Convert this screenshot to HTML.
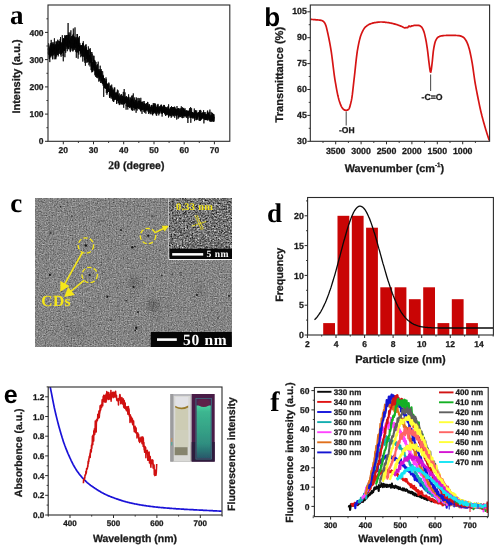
<!DOCTYPE html>
<html lang="en">
<head>
<meta charset="utf-8">
<title>Characterization of CDs</title>
<style>
html,body{margin:0;padding:0;background:#fff;}
body{width:500px;height:550px;overflow:hidden;}
svg{display:block;}
text{text-rendering:geometricPrecision;}
</style>
</head>
<body>
<svg width="500" height="550" viewBox="0 0 500 550">
<rect width="500" height="550" fill="#ffffff"/>
<polyline points="48.2,49.8 48.3,48.4 48.3,51.2 48.4,54.2 48.4,52.1 48.5,54.7 48.6,49.5 48.6,43.3 48.7,52.2 48.7,52.9 48.8,47.4 48.9,48.1 48.9,49.3 49,54.4 49,50 49.1,46.4 49.2,56.4 49.2,52.1 49.3,59.1 49.3,56.1 49.4,58.8 49.5,51 49.5,56 49.6,48.5 49.6,49 49.7,50.7 49.8,62.1 49.8,52.4 49.9,50 49.9,49.2 50,57.3 50.1,52.1 50.1,54.6 50.2,53.7 50.2,44.6 50.3,53.7 50.4,49.9 50.4,45.4 50.5,52.6 50.5,50.3 50.6,49.2 50.7,49.4 50.7,55.7 50.8,49.3 50.8,43.1 50.9,57.3 51,45.5 51,49.1 51.1,52.8 51.2,39.9 51.2,46 51.3,55.5 51.3,49.3 51.4,46.8 51.5,50.6 51.5,46.3 51.6,50 51.6,46.4 51.7,42.6 51.8,52.9 51.8,48.6 51.9,51.9 51.9,49 52,55.4 52.1,52.4 52.1,50.5 52.2,45.2 52.2,44 52.3,56 52.4,53.4 52.4,46.4 52.5,59.3 52.5,51.8 52.6,50 52.7,43.4 52.7,46.1 52.8,51.1 52.8,51.3 52.9,50.7 53,42 53,51.6 53.1,50.9 53.1,47.7 53.2,50 53.3,50.4 53.3,54.9 53.4,49.5 53.4,51.6 53.5,43.7 53.6,46.2 53.6,49.5 53.7,46.1 53.8,51 53.8,44.2 53.9,49.4 53.9,46.5 54,55.7 54.1,47.6 54.1,57.6 54.2,59.3 54.2,50.8 54.3,53.7 54.4,48.5 54.4,38.3 54.5,53.3 54.5,52.3 54.6,48.2 54.7,46.8 54.7,50.1 54.8,50.2 54.8,45.7 54.9,46.6 55,54.2 55,49.5 55.1,48.9 55.1,54.3 55.2,47.8 55.3,53.3 55.3,44.3 55.4,48.1 55.4,48.6 55.5,51.9 55.6,49.5 55.6,58.7 55.7,54.5 55.7,47.1 55.8,59.3 55.9,44.7 55.9,57.4 56,45.1 56,52.9 56.1,41.5 56.2,47.5 56.2,56.3 56.3,42.5 56.3,41.5 56.4,48.9 56.5,49.9 56.5,49.3 56.6,53.3 56.7,43.1 56.7,51.1 56.8,48.7 56.8,52.3 56.9,51.5 57,54.7 57,42.1 57.1,49 57.1,43.5 57.2,48.2 57.3,51.6 57.3,49.8 57.4,50.9 57.4,48.1 57.5,49.9 57.6,49.5 57.6,54.8 57.7,52 57.7,39.7 57.8,51.2 57.9,53.1 57.9,44.7 58,40.8 58,55 58.1,48.8 58.2,50.8 58.2,56.4 58.3,44 58.3,47.7 58.4,47.2 58.5,51.3 58.5,45.2 58.6,50.2 58.6,48.2 58.7,52.9 58.8,53.4 58.8,40.7 58.9,49.8 58.9,45.8 59,47.4 59.1,49.4 59.1,49.7 59.2,44 59.3,48.6 59.3,48.5 59.4,46.9 59.4,41.1 59.5,43.6 59.6,45 59.6,49.7 59.7,53.8 59.7,42.1 59.8,42 59.9,47.5 59.9,44.1 60,42.8 60,42.5 60.1,42.1 60.2,48.9 60.2,39 60.3,52.8 60.3,42.2 60.4,44 60.5,42.1 60.5,37 60.6,39 60.6,52.1 60.7,54.8 60.8,42.2 60.8,51.4 60.9,46.3 60.9,42 61,54.4 61.1,56.7 61.1,44.8 61.2,45.9 61.2,47.3 61.3,45.8 61.4,50.3 61.4,53.6 61.5,46.8 61.5,50.8 61.6,54.1 61.7,43.3 61.7,46.1 61.8,43.7 61.8,50.7 61.9,49 62,50.7 62,50.1 62.1,44.6 62.2,49.5 62.2,43.7 62.3,43.7 62.3,35.2 62.4,52.4 62.5,40.9 62.5,45.8 62.6,45.3 62.6,52.6 62.7,47.5 62.8,41.4 62.8,45.5 62.9,44.7 62.9,47.8 63,39.2 63.1,45.1 63.1,56.1 63.2,48.4 63.2,54.8 63.3,61.3 63.4,47.5 63.4,38 63.5,44.5 63.5,50.6 63.6,49.4 63.7,38.9 63.7,43.8 63.8,44.3 63.8,44.8 63.9,44.3 64,40.3 64,41.6 64.1,43.3 64.1,49.6 64.2,41.7 64.3,47.7 64.3,38.7 64.4,50.7 64.4,44.9 64.5,44.2 64.6,50.8 64.6,35.3 64.7,36.6 64.8,46.4 64.8,40 64.9,42 64.9,57.2 65,42.6 65.1,44.2 65.1,43.4 65.2,49.3 65.2,45.1 65.3,44.6 65.4,37.6 65.4,42 65.5,43.7 65.5,35.8 65.6,46.4 65.7,47.3 65.7,52.8 65.8,35.5 65.8,38.6 65.9,38.8 66,40 66,42.9 66.1,42.3 66.1,44.7 66.2,44.4 66.3,43.1 66.3,35.6 66.4,37.9 66.4,43.6 66.5,46.2 66.6,46.5 66.6,35 66.7,40.6 66.7,42.8 66.8,44.9 66.9,48.8 66.9,43.4 67,38.6 67,45.1 67.1,44.2 67.2,44.2 67.2,42.4 67.3,51.2 67.3,44.2 67.4,47.3 67.5,38.4 67.5,46.9 67.6,39.9 67.7,35 67.7,44.5 67.8,45.9 67.8,41.8 67.9,42.8 68,47.9 68,40.4 68.1,23 68.1,44 68.2,43.7 68.3,48 68.3,41 68.4,49 68.4,48.3 68.5,36 68.6,47.2 68.6,37 68.7,34.7 68.7,41.2 68.8,39.6 68.9,32.4 68.9,43.5 69,45.5 69,49.4 69.1,42.2 69.2,34.8 69.2,37.4 69.3,47.2 69.3,46.7 69.4,44.9 69.5,40.8 69.5,43.3 69.6,41.2 69.6,40.7 69.7,43.8 69.8,42.4 69.8,41.1 69.9,42.6 69.9,39.6 70,32.5 70.1,39.1 70.1,41.8 70.2,50.8 70.3,40.1 70.3,52.1 70.4,49.3 70.4,37.6 70.5,38.4 70.6,42.8 70.6,50.8 70.7,43.9 70.7,45.5 70.8,38.7 70.9,30.3 70.9,40.8 71,46 71,48 71.1,42.2 71.2,42.8 71.2,47.8 71.3,41.3 71.3,47.8 71.4,36.1 71.5,36.3 71.5,36.2 71.6,44.3 71.6,39.1 71.7,42.5 71.8,43.8 71.8,43.5 71.9,48.5 71.9,49.2 72,37.6 72.1,42.7 72.1,40.6 72.2,36.5 72.2,50.7 72.3,45.8 72.4,40.8 72.4,39.7 72.5,43.7 72.5,36.4 72.6,40.6 72.7,48 72.7,46.5 72.8,37.5 72.8,39.3 72.9,51.5 73,34.7 73,38.6 73.1,34.7 73.2,43.7 73.2,43.2 73.3,47.5 73.3,28.5 73.4,42.6 73.5,33.5 73.5,48.1 73.6,40.8 73.6,50.4 73.7,43.7 73.8,36.6 73.8,48.2 73.9,36.2 73.9,40 74,47.2 74.1,44.4 74.1,44.2 74.2,42.1 74.2,47.1 74.3,46.1 74.4,43.4 74.4,47.2 74.5,48.6 74.5,42.2 74.6,37.4 74.7,49.9 74.7,42 74.8,45.4 74.8,47.1 74.9,37.7 75,44.8 75,27.4 75.1,46.2 75.1,40.2 75.2,43.4 75.3,46.1 75.3,39.3 75.4,43.1 75.4,39.2 75.5,42.6 75.6,48 75.6,43 75.7,42.2 75.8,37.6 75.8,47.2 75.9,42.8 75.9,51.5 76,39.3 76.1,48.3 76.1,52.1 76.2,43.1 76.2,37.2 76.3,57.8 76.4,48.5 76.4,46.8 76.5,48.8 76.5,41.1 76.6,47.3 76.7,46.9 76.7,40.2 76.8,47.2 76.8,41.1 76.9,48.4 77,49.6 77,52.9 77.1,34 77.1,46.7 77.2,42.4 77.3,43.8 77.3,42.9 77.4,43.5 77.4,34.1 77.5,49.2 77.6,51.9 77.6,49.1 77.7,50.8 77.7,40.3 77.8,40 77.9,49.1 77.9,51.3 78,46.1 78,37.3 78.1,58.7 78.2,41.8 78.2,50 78.3,39.3 78.3,50.1 78.4,46.1 78.5,52.4 78.5,49.7 78.6,37.8 78.7,40.7 78.7,47 78.8,49.4 78.8,54.6 78.9,47.1 79,45.3 79,45.7 79.1,45.8 79.1,51 79.2,45.7 79.3,45.6 79.3,39 79.4,36.1 79.4,46.3 79.5,49.5 79.6,46 79.6,48.8 79.7,49.6 79.7,46.2 79.8,51.2 79.9,42.9 79.9,46.6 80,44.8 80,47.1 80.1,49.8 80.2,51 80.2,47.5 80.3,49.1 80.3,45.2 80.4,46.5 80.5,53.3 80.5,46.2 80.6,53.4 80.6,49.8 80.7,48.2 80.8,57.2 80.8,46.4 80.9,46.2 80.9,47.8 81,49.2 81.1,49 81.1,52.1 81.2,48.6 81.3,50.1 81.3,46.9 81.4,53.4 81.4,46.3 81.5,46.9 81.6,48.3 81.6,49.9 81.7,45 81.7,56.1 81.8,45.6 81.9,46.8 81.9,46.7 82,46.2 82,51.4 82.1,49.6 82.2,45.2 82.2,46.3 82.3,47.5 82.3,56 82.4,46 82.5,42.9 82.5,43.8 82.6,47.7 82.6,56.6 82.7,44.4 82.8,49.8 82.8,61.6 82.9,47.4 82.9,56.6 83,55.7 83.1,52.6 83.1,43.3 83.2,51.4 83.2,48.4 83.3,41.2 83.4,42.1 83.4,50.4 83.5,51.2 83.5,56.2 83.6,56.6 83.7,48.2 83.7,48.4 83.8,49.9 83.8,45.7 83.9,54.3 84,50.9 84,47.2 84.1,48 84.2,45.7 84.2,49.1 84.3,52.6 84.3,49.4 84.4,60.4 84.5,59.2 84.5,48.6 84.6,51.7 84.6,50.1 84.7,59.8 84.8,53.5 84.8,54.7 84.9,56.1 84.9,62.8 85,53.7 85.1,47.9 85.1,50.4 85.2,55.2 85.2,52.5 85.3,48.9 85.4,65.8 85.4,53.3 85.5,50.2 85.5,49.6 85.6,44.8 85.7,47.6 85.7,51.6 85.8,51.7 85.8,49.5 85.9,55.9 86,53.6 86,49.2 86.1,44.3 86.1,54.4 86.2,54 86.3,52.9 86.3,47.6 86.4,54.2 86.4,47.2 86.5,58.8 86.6,55.2 86.6,55.3 86.7,50.8 86.8,49.6 86.8,61.7 86.9,62.9 86.9,53.2 87,58 87.1,62.1 87.1,50.2 87.2,52.8 87.2,52.9 87.3,57.5 87.4,50.6 87.4,56.6 87.5,50.4 87.5,59.9 87.6,59.7 87.7,54.9 87.7,62.1 87.8,52.8 87.8,54.9 87.9,60.4 88,55.9 88,58 88.1,52.2 88.1,59.4 88.2,58.6 88.3,51.1 88.3,46.4 88.4,47.6 88.4,56.6 88.5,56 88.6,50 88.6,57.8 88.7,61.8 88.7,56.8 88.8,55.4 88.9,61.4 88.9,65.2 89,64.3 89,54.8 89.1,61.4 89.2,58.7 89.2,57.1 89.3,55.4 89.3,59.8 89.4,56.1 89.5,62.5 89.5,60.2 89.6,63.3 89.7,49 89.7,59 89.8,62.3 89.8,60.6 89.9,60.1 90,56 90,66.5 90.1,64.1 90.1,61.2 90.2,48.1 90.3,55.4 90.3,60.3 90.4,56.7 90.4,50.7 90.5,61.1 90.6,61.8 90.6,54.8 90.7,58.1 90.7,57.4 90.8,62.8 90.9,52 90.9,53.1 91,58.3 91,57.9 91.1,70.1 91.2,58.3 91.2,62.1 91.3,59.4 91.3,58.3 91.4,63 91.5,69.1 91.5,60 91.6,65.1 91.6,63.3 91.7,64.6 91.8,63.6 91.8,72.4 91.9,52 91.9,61.2 92,57.5 92.1,53.8 92.1,62.5 92.2,70.7 92.3,66.8 92.3,68.2 92.4,65.2 92.4,62.8 92.5,72 92.6,61.8 92.6,70 92.7,62.2 92.7,64.1 92.8,65 92.9,64.1 92.9,66.2 93,66.6 93,71.4 93.1,64.3 93.2,56.2 93.2,55.7 93.3,58.7 93.3,61.5 93.4,67.6 93.5,58.5 93.5,65.1 93.6,65.2 93.6,66.3 93.7,64.7 93.8,67.1 93.8,65.6 93.9,70 93.9,67.1 94,55.8 94.1,66 94.1,66.8 94.2,63.6 94.2,62.9 94.3,70.8 94.4,67 94.4,62.3 94.5,65.2 94.5,65.9 94.6,59.9 94.7,69.5 94.7,66.3 94.8,69 94.8,60.5 94.9,75.3 95,69.9 95,69.4 95.1,64.4 95.2,64.8 95.2,61.5 95.3,74.2 95.3,64.4 95.4,68.9 95.5,70.6 95.5,65.6 95.6,71.9 95.6,76.8 95.7,69.7 95.8,74.6 95.8,71.1 95.9,66.9 95.9,67.2 96,62 96.1,69.6 96.1,75.2 96.2,72.1 96.2,72.9 96.3,74.2 96.4,67.4 96.4,72 96.5,77.6 96.5,66.6 96.6,70.1 96.7,68.2 96.7,69.3 96.8,67.3 96.8,69.8 96.9,65 97,68.4 97,68.6 97.1,68.7 97.1,76.4 97.2,71.2 97.3,71.7 97.3,69.9 97.4,76.4 97.4,64.2 97.5,70.6 97.6,76.1 97.6,78.2 97.7,72.4 97.8,71.8 97.8,74.4 97.9,71.2 97.9,74.3 98,69.5 98.1,74.8 98.1,72.1 98.2,68.1 98.2,61.7 98.3,76.3 98.4,74.2 98.4,75.9 98.5,69.4 98.5,77.3 98.6,74.7 98.7,73 98.7,76.9 98.8,76.9 98.8,75.1 98.9,81.7 99,79.1 99,75.1 99.1,72.9 99.1,74.4 99.2,80.8 99.3,75.7 99.3,70.8 99.4,71.8 99.4,74.5 99.5,77.8 99.6,71.8 99.6,76.7 99.7,79.2 99.7,77.8 99.8,69 99.9,74 99.9,70.4 100,76.9 100,71.5 100.1,77.6 100.2,76 100.2,65.7 100.3,72.6 100.3,77.7 100.4,76.1 100.5,74.6 100.5,71.3 100.6,78 100.7,83 100.7,77.4 100.8,76.4 100.8,76.1 100.9,71.5 101,75.5 101,73.7 101.1,81.3 101.1,73.7 101.2,69.1 101.3,74.3 101.3,76.5 101.4,77 101.4,70.8 101.5,81.3 101.6,78.3 101.6,76.2 101.7,75.3 101.7,79.9 101.8,77.2 101.9,79.5 101.9,78.1 102,79.2 102,83.1 102.1,79 102.2,75.7 102.2,82.8 102.3,80.1 102.3,76.8 102.4,83.5 102.5,78.9 102.5,83.7 102.6,75.5 102.6,71.2 102.7,72.4 102.8,81 102.8,77.5 102.9,79.9 102.9,80.1 103,74.8 103.1,85.6 103.1,76.9 103.2,81.1 103.3,75.8 103.3,80.4 103.4,83.7 103.4,80.3 103.5,78.7 103.6,81.4 103.6,79.9 103.7,83.7 103.7,96.9 103.8,78.7 103.9,79.5 103.9,81.7 104,82.1 104,78.6 104.1,84.2 104.2,85.2 104.2,83.4 104.3,78.5 104.3,88 104.4,78.7 104.5,85.5 104.5,87.3 104.6,78.8 104.6,83.8 104.7,88.3 104.8,84.9 104.8,80.4 104.9,79.5 104.9,85.5 105,82.6 105.1,81.5 105.1,86.5 105.2,83 105.2,84.5 105.3,86.4 105.4,86.4 105.4,84.4 105.5,84.7 105.5,88.7 105.6,86.5 105.7,81.1 105.7,84.4 105.8,82.1 105.8,81 105.9,83.3 106,77.4 106,88.5 106.1,82.8 106.2,86.9 106.2,79.2 106.3,79.9 106.3,92.9 106.4,89.5 106.5,83.8 106.5,83.5 106.6,83.8 106.6,86.7 106.7,84.9 106.8,84.3 106.8,87 106.9,83.2 106.9,94.8 107,84.7 107.1,90.7 107.1,83.8 107.2,88 107.2,90.4 107.3,86.1 107.4,90.6 107.4,90.7 107.5,93.1 107.5,87.8 107.6,86 107.7,84.3 107.7,88.4 107.8,84.4 107.8,88 107.9,88.5 108,86.3 108,84.7 108.1,89.6 108.1,89.3 108.2,89.1 108.3,88.4 108.3,91.8 108.4,85.3 108.4,90.3 108.5,87.4 108.6,91.9 108.6,87.9 108.7,87.9 108.8,90.7 108.8,82.5 108.9,88.2 108.9,83.4 109,86.3 109.1,91.9 109.1,91 109.2,88.3 109.2,89.7 109.3,89.8 109.4,91 109.4,96.2 109.5,90.9 109.5,97.8 109.6,89.1 109.7,92.9 109.7,92.9 109.8,91.3 109.8,89.7 109.9,95.5 110,96.6 110,94.4 110.1,97.8 110.1,94.2 110.2,85.7 110.3,94.6 110.3,89 110.4,95.8 110.4,90.3 110.5,92.4 110.6,91.6 110.6,89.6 110.7,85.7 110.7,91 110.8,91.3 110.9,95 110.9,89.9 111,92.7 111,89.2 111.1,92.2 111.2,86.3 111.2,98.7 111.3,93.2 111.3,89.4 111.4,93.5 111.5,95 111.5,93.3 111.6,97.1 111.7,92.2 111.7,84.6 111.8,88.9 111.8,96.4 111.9,95.7 112,94.2 112,89.6 112.1,95.7 112.1,95.3 112.2,90.2 112.3,90.3 112.3,94.4 112.4,96.9 112.4,98.4 112.5,95.7 112.6,100.7 112.6,91.1 112.7,95.6 112.7,92.1 112.8,87.6 112.9,89.9 112.9,97.5 113,91 113,90.1 113.1,96.4 113.2,97.1 113.2,94.4 113.3,99.3 113.3,89.4 113.4,102 113.5,97.9 113.5,96 113.6,95.1 113.6,93.9 113.7,93.6 113.8,95.2 113.8,90.9 113.9,101.6 113.9,94.7 114,97.1 114.1,94.4 114.1,94.2 114.2,97.9 114.3,97 114.3,92.5 114.4,94 114.4,97.3 114.5,88.6 114.6,87.8 114.6,100 114.7,94.4 114.7,87.4 114.8,92.9 114.9,94.8 114.9,96.2 115,98.9 115,96.3 115.1,97.4 115.2,93.3 115.2,97 115.3,98.5 115.3,99.7 115.4,96.1 115.5,98.8 115.5,96.6 115.6,92.7 115.6,94.9 115.7,93.1 115.8,95.1 115.8,96 115.9,96.7 115.9,97.3 116,94 116.1,99.8 116.1,92.2 116.2,96.4 116.2,98.9 116.3,98.1 116.4,98.7 116.4,95.7 116.5,99 116.5,93.1 116.6,99.2 116.7,104 116.7,99.2 116.8,103.2 116.8,97.1 116.9,93.7 117,95 117,101.3 117.1,99.5 117.2,91.6 117.2,96.2 117.3,97.2 117.3,94 117.4,89.6 117.5,93.3 117.5,96.9 117.6,96.3 117.6,95.5 117.7,99.4 117.8,100.8 117.8,97.4 117.9,100.5 117.9,97.8 118,97.4 118.1,90.4 118.1,100.4 118.2,98.1 118.2,98.3 118.3,96.5 118.4,94.6 118.4,99.4 118.5,100.5 118.5,103 118.6,100.9 118.7,96.4 118.7,97.9 118.8,101.2 118.8,99.3 118.9,98.1 119,96.6 119,100.1 119.1,99 119.1,103.9 119.2,101.9 119.3,93.4 119.3,105.1 119.4,99.5 119.4,97.8 119.5,99.6 119.6,101 119.6,98.7 119.7,98.6 119.8,98.8 119.8,104.4 119.9,99.1 119.9,101.3 120,100.4 120.1,98 120.1,96.8 120.2,96.1 120.2,100.4 120.3,96 120.4,95.3 120.4,95.4 120.5,94.7 120.5,99.4 120.6,99.5 120.7,96.5 120.7,103.2 120.8,98.5 120.8,100.7 120.9,100.3 121,104.5 121,101.9 121.1,99.3 121.1,96.6 121.2,96.3 121.3,99.6 121.3,99.9 121.4,101.9 121.4,98.2 121.5,100.2 121.6,97.6 121.6,94.1 121.7,99.6 121.7,104.1 121.8,102.2 121.9,104 121.9,103.3 122,95.7 122,99 122.1,104.3 122.2,97.7 122.2,95.9 122.3,100.9 122.3,101.8 122.4,100.8 122.5,99 122.5,97.9 122.6,96.3 122.7,96.3 122.7,96.4 122.8,95.9 122.8,98 122.9,104.7 123,100.4 123,99.1 123.1,101.3 123.1,97.4 123.2,102.2 123.3,103 123.3,91.9 123.4,98.2 123.4,99.6 123.5,97.5 123.6,97.1 123.6,99.3 123.7,107.8 123.7,102.4 123.8,101.8 123.9,103.4 123.9,99.8 124,96.9 124,102 124.1,103.9 124.2,89 124.2,101.9 124.3,104.3 124.3,99.9 124.4,99.4 124.5,102.8 124.5,98.3 124.6,102.2 124.6,103.5 124.7,100.2 124.8,98.5 124.8,102.7 124.9,99.8 124.9,101.1 125,92.4 125.1,103 125.1,96.8 125.2,101.1 125.3,101.4 125.3,98.8 125.4,98.3 125.4,97.3 125.5,100.1 125.6,102.9 125.6,102.7 125.7,99.6 125.7,99.4 125.8,97 125.9,98.8 125.9,98.1 126,96.7 126,100.8 126.1,109.7 126.2,104.8 126.2,105.6 126.3,96.6 126.3,103.9 126.4,97.8 126.5,99.7 126.5,96.4 126.6,98.5 126.6,101.8 126.7,102.1 126.8,101.3 126.8,101.1 126.9,103.2 126.9,101.7 127,96.9 127.1,106.7 127.1,100.9 127.2,104.4 127.2,101.2 127.3,99.3 127.4,102 127.4,99.5 127.5,106.5 127.5,98.6 127.6,103.7 127.7,100.1 127.7,101.4 127.8,109.6 127.8,104.2 127.9,101.3 128,97.4 128,101.2 128.1,101.3 128.2,106.3 128.2,97.9 128.3,96.8 128.3,102.1 128.4,102.8 128.5,107 128.5,99.6 128.6,94.3 128.6,100.2 128.7,98.6 128.8,100.7 128.8,105.2 128.9,98.4 128.9,106 129,103 129.1,101.6 129.1,99.9 129.2,101.3 129.2,101.4 129.3,106.8 129.4,106.3 129.4,102.4 129.5,104.7 129.5,106.4 129.6,106.3 129.7,104.1 129.7,108.1 129.8,106.6 129.8,107.5 129.9,102.2 130,101.6 130,96.9 130.1,107.2 130.1,104.8 130.2,100.2 130.3,103.5 130.3,103.9 130.4,97.9 130.4,103.9 130.5,106.3 130.6,106.8 130.6,102 130.7,102.1 130.8,107 130.8,105.9 130.9,101.5 130.9,101.4 131,105 131.1,101.3 131.1,101.5 131.2,108.4 131.2,104.1 131.3,102 131.4,104.9 131.4,109.5 131.5,104.1 131.5,101.1 131.6,98.8 131.7,109.7 131.7,95.8 131.8,106.7 131.8,100.7 131.9,99.9 132,100.6 132,103.1 132.1,106.9 132.1,101.7 132.2,105.6 132.3,110.9 132.3,95.4 132.4,101.6 132.4,98.4 132.5,106.3 132.6,99.4 132.6,99.1 132.7,99.2 132.7,103.8 132.8,107.2 132.9,104.3 132.9,110.2 133,108.7 133,103.6 133.1,106.7 133.2,104.4 133.2,104.2 133.3,93.4 133.3,100.2 133.4,104.1 133.5,100.5 133.5,106.3 133.6,105 133.7,101.4 133.7,107.6 133.8,104.9 133.8,107.9 133.9,103.5 134,99.5 134,106.3 134.1,103.5 134.1,106.8 134.2,110.5 134.3,107.8 134.3,100.1 134.4,97.5 134.4,102.9 134.5,106.4 134.6,102.3 134.6,105.3 134.7,102.1 134.7,103.6 134.8,103.6 134.9,102.7 134.9,107.6 135,105.6 135,109.4 135.1,105.8 135.2,108.6 135.2,105 135.3,107.3 135.3,104.3 135.4,103.3 135.5,108.7 135.5,107 135.6,107.4 135.6,102.6 135.7,99.8 135.8,102.3 135.8,105.7 135.9,100.6 135.9,109.1 136,100.5 136.1,106.7 136.1,112.8 136.2,97.3 136.3,100.4 136.3,107.8 136.4,104.4 136.4,105.5 136.5,104.7 136.6,109.2 136.6,106.9 136.7,103.7 136.7,104.4 136.8,101.6 136.9,104.8 136.9,98.4 137,107.1 137,104.4 137.1,110.6 137.2,108.7 137.2,101.4 137.3,107.9 137.3,103.7 137.4,105.4 137.5,108.2 137.5,106.2 137.6,106.7 137.6,106.7 137.7,103.2 137.8,103.5 137.8,107 137.9,107.9 137.9,104.6 138,105.7 138.1,102.5 138.1,97.9 138.2,103.1 138.2,105.6 138.3,106 138.4,107.9 138.4,108.1 138.5,108.4 138.5,106.7 138.6,106.8 138.7,103.5 138.7,106.7 138.8,106.2 138.8,109.1 138.9,101 139,104.2 139,100.7 139.1,103.5 139.2,101.5 139.2,106.4 139.3,103.7 139.3,98.2 139.4,109.2 139.5,102.5 139.5,101.1 139.6,104.7 139.6,103.7 139.7,102.3 139.8,107.8 139.8,104.7 139.9,108.4 139.9,107.9 140,107.7 140.1,106.4 140.1,105.6 140.2,104.7 140.2,110.1 140.3,100.4 140.4,102.7 140.4,104 140.5,107.1 140.5,106.4 140.6,104.6 140.7,105 140.7,111 140.8,104 140.8,97.8 140.9,111.5 141,103.4 141,105.2 141.1,106.6 141.1,102.3 141.2,109.7 141.3,105.8 141.3,102.1 141.4,106.9 141.4,108.6 141.5,106 141.6,107.7 141.6,102 141.7,109 141.8,101.7 141.8,110 141.9,104.5 141.9,106.8 142,113.9 142.1,106.5 142.1,109.6 142.2,107.8 142.2,102.2 142.3,109.8 142.4,109.6 142.4,102.5 142.5,106.3 142.5,102.2 142.6,105.7 142.7,109.2 142.7,106.9 142.8,103.2 142.8,104 142.9,106.7 143,106.6 143,107.1 143.1,108.4 143.1,101.3 143.2,106.8 143.3,110 143.3,108.2 143.4,104.8 143.4,105 143.5,107.3 143.6,108.8 143.6,106.8 143.7,111.7 143.7,110.7 143.8,104.7 143.9,108.3 143.9,105.9 144,103.5 144,105.2 144.1,107 144.2,101 144.2,105.2 144.3,108.1 144.4,103.1 144.4,106 144.5,109.6 144.5,106.9 144.6,107.6 144.7,112.8 144.7,107.7 144.8,108 144.8,108.5 144.9,111.9 145,108.3 145,107.4 145.1,107 145.1,110.5 145.2,105.5 145.3,110.8 145.3,108 145.4,103.7 145.4,109.3 145.5,108.8 145.6,104.4 145.6,108.5 145.7,108.3 145.7,106.8 145.8,104.5 145.9,113.7 145.9,109.8 146,110.3 146,110.6 146.1,109.9 146.2,109.9 146.2,106.7 146.3,110.1 146.3,107.2 146.4,106.5 146.5,109.7 146.5,107.3 146.6,103 146.6,106.8 146.7,109.5 146.8,107.9 146.8,110.3 146.9,107 146.9,105.3 147,110 147.1,108.3 147.1,104.7 147.2,109.2 147.3,107.3 147.3,110.7 147.4,110.1 147.4,109.3 147.5,101.9 147.6,109 147.6,109.3 147.7,109.4 147.7,108.4 147.8,106.1 147.9,107.4 147.9,102.3 148,107.4 148,104 148.1,107.2 148.2,106.4 148.2,112 148.3,108.4 148.3,108.2 148.4,108.7 148.5,113.9 148.5,105.7 148.6,109.2 148.6,109.3 148.7,108.8 148.8,108.8 148.8,107 148.9,111.6 148.9,110.7 149,107.4 149.1,107.8 149.1,109.2 149.2,109.8 149.2,110.5 149.3,108.4 149.4,105.1 149.4,111.2 149.5,104.2 149.5,106 149.6,109.6 149.7,106.2 149.7,112.3 149.8,113.1 149.9,111.9 149.9,109.5 150,110.1 150,109.8 150.1,108.2 150.2,114.2 150.2,107.1 150.3,112.3 150.3,110.3 150.4,109.6 150.5,111.6 150.5,112.2 150.6,111.3 150.6,108.6 150.7,107 150.8,107 150.8,111.3 150.9,110.7 150.9,111.1 151,107.4 151.1,114.1 151.1,105.3 151.2,110 151.2,110.8 151.3,107.8 151.4,105.9 151.4,107.8 151.5,105.9 151.5,108.4 151.6,105.4 151.7,105.4 151.7,109 151.8,104.9 151.8,108.3 151.9,108.6 152,111.3 152,109.6 152.1,106.7 152.1,112.4 152.2,107.1 152.3,107.9 152.3,108.1 152.4,114.8 152.4,109.2 152.5,107.2 152.6,111 152.6,108.7 152.7,115.4 152.8,107.1 152.8,110.8 152.9,106.6 152.9,114 153,107.1 153.1,109.7 153.1,104.9 153.2,111.5 153.2,110.7 153.3,103 153.4,111.3 153.4,111 153.5,109.8 153.5,111.9 153.6,105.9 153.7,104.5 153.7,111 153.8,113.8 153.8,106 153.9,106.2 154,107 154,106.1 154.1,111.5 154.1,109.7 154.2,112.9 154.3,113 154.3,106.6 154.4,111.1 154.4,103.2 154.5,109.1 154.6,111 154.6,107.2 154.7,104.5 154.7,108 154.8,112.6 154.9,108.3 154.9,105.7 155,110.7 155,111.4 155.1,106.7 155.2,109 155.2,112.4 155.3,110.4 155.4,111.4 155.4,108.6 155.5,108.9 155.5,103.6 155.6,107.6 155.7,113.7 155.7,108.4 155.8,107.1 155.8,108.3 155.9,106.8 156,111 156,112.1 156.1,107.1 156.1,112.4 156.2,115.3 156.3,106.8 156.3,111.5 156.4,110.4 156.4,113.3 156.5,113.1 156.6,112.7 156.6,110.6 156.7,108.7 156.7,115.8 156.8,107.7 156.9,112.8 156.9,112.5 157,107.9 157,109.9 157.1,113.8 157.2,104.8 157.2,112 157.3,109.1 157.3,109.2 157.4,106 157.5,111 157.5,107.1 157.6,111.8 157.6,106.8 157.7,111.8 157.8,110.8 157.8,104.8 157.9,109 157.9,109.5 158,103.9 158.1,108.9 158.1,112 158.2,107.9 158.3,113 158.3,106.9 158.4,106.7 158.4,111.4 158.5,111.6 158.6,109.5 158.6,109.9 158.7,112.5 158.7,108.4 158.8,115.4 158.9,111.1 158.9,111.1 159,110.7 159,109.2 159.1,113.3 159.2,108.5 159.2,110.5 159.3,111.8 159.3,113.7 159.4,113.2 159.5,109.1 159.5,112.6 159.6,109.9 159.6,107.3 159.7,107.4 159.8,106 159.8,110.9 159.9,113 159.9,107.4 160,109.3 160.1,107.2 160.1,110.1 160.2,107 160.2,107.9 160.3,108.3 160.4,108.9 160.4,109.1 160.5,109.6 160.5,109.6 160.6,107.6 160.7,111.6 160.7,105.6 160.8,110.5 160.9,107.7 160.9,110.5 161,110.9 161,104.9 161.1,111.1 161.2,113.7 161.2,112.2 161.3,111.2 161.3,104.6 161.4,109.8 161.5,107.9 161.5,113 161.6,109.4 161.6,108.6 161.7,105.6 161.8,112.2 161.8,108.8 161.9,109.6 161.9,113.1 162,110.5 162.1,111.1 162.1,116.6 162.2,108.9 162.2,109 162.3,111.6 162.4,114 162.4,106.6 162.5,109.8 162.5,107.8 162.6,106.8 162.7,111.9 162.7,108.4 162.8,111.2 162.8,110.7 162.9,110.8 163,110.6 163,107.6 163.1,110.2 163.1,111 163.2,111.3 163.3,109.7 163.3,113 163.4,111.9 163.4,110.8 163.5,112.1 163.6,110.9 163.6,112.2 163.7,105.4 163.8,107.2 163.8,109.5 163.9,110.8 163.9,104.9 164,109.8 164.1,110.9 164.1,109.9 164.2,109.9 164.2,107 164.3,110.8 164.4,105.2 164.4,113.1 164.5,108.9 164.5,113.4 164.6,106 164.7,111.6 164.7,110.9 164.8,108.4 164.8,107.5 164.9,113.7 165,111.7 165,114.5 165.1,110.5 165.1,111.1 165.2,111.8 165.3,112.7 165.3,111.9 165.4,112.8 165.4,109.5 165.5,106.9 165.6,116 165.6,111.2 165.7,112 165.7,109.6 165.8,113.4 165.9,111.3 165.9,113.7 166,109.1 166,110.7 166.1,111.4 166.2,110 166.2,112.2 166.3,115.1 166.4,109.4 166.4,110.3 166.5,111.4 166.5,108.4 166.6,107.8 166.7,113.9 166.7,113.1 166.8,107 166.8,107.3 166.9,113 167,114.2 167,112.8 167.1,112.4 167.1,115.2 167.2,111 167.3,114.5 167.3,114.3 167.4,108.7 167.4,112.9 167.5,111.3 167.6,109.5 167.6,109 167.7,112.1 167.7,111.1 167.8,113.3 167.9,106.6 167.9,109.5 168,114.1 168,111.2 168.1,109.4 168.2,110 168.2,106.5 168.3,107.7 168.3,112.7 168.4,111.5 168.5,117.6 168.5,110.6 168.6,110.9 168.6,104.3 168.7,111.1 168.8,116.8 168.8,113.1 168.9,111 168.9,114.6 169,113.6 169.1,112.3 169.1,110.5 169.2,111.8 169.3,113.7 169.3,109.3 169.4,112.8 169.4,112.7 169.5,115 169.6,113.5 169.6,109.7 169.7,115.6 169.7,111.6 169.8,109.6 169.9,112.4 169.9,110.8 170,114.4 170,108.1 170.1,108.6 170.2,110.9 170.2,116.1 170.3,114.2 170.3,109 170.4,107.1 170.5,110.8 170.5,108.3 170.6,113.1 170.6,112.1 170.7,111.6 170.8,110.5 170.8,115.6 170.9,109.2 170.9,108.2 171,114.6 171.1,115.1 171.1,110.7 171.2,113.3 171.2,117.8 171.3,109.6 171.4,111.3 171.4,112.9 171.5,106.2 171.5,111.3 171.6,113.6 171.7,111.4 171.7,116.8 171.8,113.7 171.9,110.7 171.9,113.2 172,112.9 172,107.4 172.1,109.5 172.2,109.7 172.2,110.4 172.3,110.5 172.3,108 172.4,111.8 172.5,107 172.5,114.3 172.6,112.5 172.6,115.4 172.7,112.7 172.8,110.5 172.8,108.1 172.9,115.1 172.9,111.8 173,112.8 173.1,113.8 173.1,115 173.2,111.7 173.2,116.4 173.3,111.6 173.4,111.9 173.4,113.6 173.5,114.5 173.5,115.5 173.6,107.1 173.7,115.4 173.7,107.9 173.8,110.4 173.8,112.9 173.9,115 174,109.3 174,107.5 174.1,114.4 174.1,112.8 174.2,109.3 174.3,111.2 174.3,106.9 174.4,113.5 174.4,110.6 174.5,115.3 174.6,106.7 174.6,114 174.7,117.8 174.8,112.4 174.8,112.4 174.9,107.2 174.9,113 175,112.1 175.1,110.6 175.1,108 175.2,112.4 175.2,109.5 175.3,110.8 175.4,112.9 175.4,112 175.5,112.1 175.5,114.5 175.6,109.1 175.7,115.8 175.7,109.2 175.8,109.8 175.8,112.5 175.9,114.2 176,112.8 176,111 176.1,110.3 176.1,111.5 176.2,109.7 176.3,113.7 176.3,111.7 176.4,116.3 176.4,110.3 176.5,111.9 176.6,113.4 176.6,109.3 176.7,110.5 176.7,119.6 176.8,112.2 176.9,116.1 176.9,109.6 177,106 177,113.7 177.1,112.2 177.2,113 177.2,111.5 177.3,110.7 177.4,109.1 177.4,114.9 177.5,108.4 177.5,114.8 177.6,111.7 177.7,109.5 177.7,110.6 177.8,114.9 177.8,114.3 177.9,113.7 178,112.6 178,109.5 178.1,118.8 178.1,111.3 178.2,110.9 178.3,111.1 178.3,111.3 178.4,108.6 178.4,111.3 178.5,110.3 178.6,111.1 178.6,108 178.7,117.4 178.7,109.3 178.8,113.2 178.9,113.3 178.9,115.1 179,117.4 179,113.6 179.1,114.4 179.2,111.4 179.2,116.4 179.3,109 179.3,111.9 179.4,113.3 179.5,114.5 179.5,114.7 179.6,115.6 179.6,114.1 179.7,112.7 179.8,113.1 179.8,116.3 179.9,113.4 179.9,115 180,112.3 180.1,108 180.1,111.1 180.2,113.5 180.3,116.9 180.3,116.4 180.4,117.1 180.4,110.9 180.5,114.7 180.6,112.6 180.6,114.4 180.7,112.6 180.7,109.2 180.8,114.6 180.9,113.7 180.9,114.9 181,110.6 181,115.5 181.1,115.8 181.2,116.4 181.2,116.5 181.3,111.7 181.3,106.3 181.4,115.4 181.5,110.5 181.5,112.3 181.6,115.7 181.6,113.6 181.7,113.5 181.8,114.7 181.8,108 181.9,117.8 181.9,112 182,112.1 182.1,114.5 182.1,112.6 182.2,110.8 182.2,112.6 182.3,112 182.4,111.3 182.4,118.2 182.5,109.3 182.5,107.3 182.6,110.6 182.7,110.5 182.7,116.7 182.8,113.4 182.9,115.2 182.9,114.6 183,108.4 183,115.2 183.1,113.4 183.2,118 183.2,113.5 183.3,112.9 183.3,114.9 183.4,115 183.5,108.4 183.5,116.2 183.6,115.8 183.6,115.2 183.7,110.2 183.8,107.9 183.8,112.4 183.9,115 183.9,114.3 184,110.5 184.1,115.6 184.1,109.6 184.2,109.7 184.2,113.1 184.3,111.6 184.4,111.4 184.4,109.4 184.5,116 184.5,110.3 184.6,114.3 184.7,115.3 184.7,113.1 184.8,113.9 184.8,115.9 184.9,117.4 185,115.8 185,109.7 185.1,108.4 185.1,111.7 185.2,110.4 185.3,114.7 185.3,113.6 185.4,112.7 185.4,116.2 185.5,115.9 185.6,113.2 185.6,114.3 185.7,116.2 185.8,112.5 185.8,114.1 185.9,110.9 185.9,113.5 186,115 186.1,113.2 186.1,114 186.2,115.2 186.2,114.6 186.3,111.7 186.4,111.9 186.4,110.3 186.5,117.8 186.5,114.6 186.6,114.6 186.7,113.2 186.7,114.7 186.8,114.9 186.8,111.7 186.9,113.2 187,116.6 187,110.3 187.1,111.1 187.1,115.1 187.2,111.6 187.3,115.5 187.3,110.9 187.4,114.2 187.4,115.7 187.5,114.7 187.6,115.7 187.6,113.3 187.7,113.3 187.7,113.7 187.8,115.2 187.9,123 187.9,113.5 188,118.6 188,113.2 188.1,111 188.2,113.1 188.2,114.8 188.3,114.3 188.4,114.2 188.4,115.2 188.5,115.3 188.5,116.2 188.6,110.9 188.7,113.9 188.7,111.5 188.8,114.5 188.8,113.7 188.9,114.3 189,112.8 189,111.9 189.1,113.3 189.1,115.6 189.2,115.9 189.3,109.8 189.3,114.7 189.4,114.7 189.4,110.3 189.5,111.3 189.6,112.7 189.6,115 189.7,108.1 189.7,113 189.8,112.7 189.9,114.5 189.9,117.6 190,117.4 190,113.1 190.1,113.1 190.2,114.7 190.2,117 190.3,117.7 190.3,114.9 190.4,117.8 190.5,111.9 190.5,111.3 190.6,107.1 190.6,112 190.7,115.7 190.8,116.4 190.8,122.8 190.9,115.7 190.9,114.6 191,111.8 191.1,111.3 191.1,112.8 191.2,113.7 191.3,112.6 191.3,110.6 191.4,116.9 191.4,115.4 191.5,117.7 191.6,110.3 191.6,108.2 191.7,112.4 191.7,117.3 191.8,113.9 191.9,114.9 191.9,114.1 192,114.8 192,113.1 192.1,115.4 192.2,112.2 192.2,113.8 192.3,115.1 192.3,114.7 192.4,115.5 192.5,112.4 192.5,115.1 192.6,113.7 192.6,115.4 192.7,118.2 192.8,112.2 192.8,117.1 192.9,112.8 192.9,113.4 193,118.6 193.1,116.9 193.1,115.8 193.2,116.6 193.2,117.5 193.3,112.7 193.4,115.2 193.4,113.6 193.5,115.6 193.5,113.8 193.6,116.5 193.7,114.7 193.7,113.2 193.8,114.5 193.9,115.8 193.9,117.3 194,114.2 194,113.8 194.1,115.3 194.2,118.3 194.2,113.3 194.3,108.5 194.3,115.4 194.4,113.1 194.5,113.8 194.5,121.1 194.6,114.4 194.6,116.5 194.7,111.3 194.8,115.4 194.8,116.7 194.9,115.3 194.9,114.4 195,116.2 195.1,114.9 195.1,118.2 195.2,115.4 195.2,112.9 195.3,110 195.4,113.1 195.4,114.2 195.5,111.9 195.5,112.4 195.6,110.8 195.7,112.2 195.7,115.2 195.8,114.3 195.8,114.5 195.9,114.2 196,114.4 196,116.9 196.1,120.2 196.1,116.6 196.2,120 196.3,114.8 196.3,115 196.4,119.1 196.4,113.3 196.5,112.9 196.6,114.8 196.6,110.9 196.7,110.4 196.8,118 196.8,112.5 196.9,114 196.9,114.1 197,112.8 197.1,116.9 197.1,116.6 197.2,117.2 197.2,117 197.3,115.4 197.4,118.7 197.4,117.7 197.5,113.7 197.5,115.3 197.6,114.2 197.7,119.8 197.7,117.1 197.8,116.6 197.8,115.1 197.9,116.7 198,112.9 198,115.4 198.1,115.2 198.1,115.2 198.2,113.5 198.3,116.4 198.3,112.5 198.4,114.2 198.4,114.9 198.5,115.2 198.6,114.1 198.6,112.8 198.7,113 198.7,114.4 198.8,113.2 198.9,115.1 198.9,112.3 199,115.5 199,120.5 199.1,112.1 199.2,115.2 199.2,118.3 199.3,115.9 199.4,117.6 199.4,110.3 199.5,114.2 199.5,119.3 199.6,114.1 199.7,116.5 199.7,110.8 199.8,118.1 199.8,121 199.9,115.4 200,116.4 200,116.6 200.1,120.8 200.1,114.5 200.2,111.5 200.3,120.3 200.3,112.7 200.4,117 200.4,109.9 200.5,114.6 200.6,116.1 200.6,112.9 200.7,114.4 200.7,117.1 200.8,113.9 200.9,116.9 200.9,120.1 201,110.7 201,116.6 201.1,117.2 201.2,114.9 201.2,119.5 201.3,119.1 201.3,117 201.4,117 201.5,115.6 201.5,113 201.6,118 201.6,114.6 201.7,114.3 201.8,118.5 201.8,115.3 201.9,118.1 201.9,113.3 202,114.8 202.1,115.8 202.1,119.1 202.2,115.6 202.3,117.8 202.3,112.6 202.4,116.2 202.4,117.9 202.5,113.7 202.6,114.2 202.6,117.4 202.7,113.1 202.7,116.7 202.8,116.7 202.9,115.7 202.9,117.8 203,117.1 203,116.4 203.1,112.3 203.2,112.4 203.2,116.7 203.3,112.1 203.3,116.2 203.4,115.2 203.5,113.9 203.5,115.4 203.6,110.2 203.6,115 203.7,119 203.8,113 203.8,117.1 203.9,116.9 203.9,123.4 204,113.7 204.1,114.2 204.1,114.3 204.2,113.8 204.2,112.1 204.3,116.3 204.4,114 204.4,118 204.5,117.1 204.5,113.7 204.6,115.3 204.7,119.5 204.7,115.4 204.8,116.7 204.9,118.3 204.9,114.3 205,117.3 205,120.1 205.1,119 205.2,112.1 205.2,120 205.3,115.8 205.3,114.9 205.4,114.9 205.5,119.4 205.5,117.2 205.6,116.1 205.6,114.5 205.7,118 205.8,119.3 205.8,114 205.9,113.8 205.9,115.6 206,118 206.1,115.5 206.1,116.2 206.2,114.5 206.2,119.5 206.3,116.3 206.4,116.9 206.4,119.2 206.5,116.1 206.5,116.5 206.6,117.6 206.7,115.6 206.7,120 206.8,116.8 206.8,115.6 206.9,116 207,114.1 207,119.6 207.1,120.3 207.1,116.1 207.2,115.6 207.3,111.6 207.3,115.2 207.4,118.8 207.4,114.8 207.5,118.8 207.6,120.3 207.6,110.5 207.7,116 207.8,115.1 207.8,115.4 207.9,112.4 207.9,116.1 208,113.9 208.1,119.3 208.1,120.2 208.2,113.4 208.2,113.3 208.3,115.6 208.4,116.3 208.4,116.5 208.5,118.5 208.5,113.2 208.6,115.3 208.7,114.6 208.7,116 208.8,114.4 208.8,115.7 208.9,115.2 209,119.8 209,115.8 209.1,111.8 209.1,118.2 209.2,117.3 209.3,114.9 209.3,114.7 209.4,115.6 209.4,120.9 209.5,115.9 209.6,119.9 209.6,119.1 209.7,115.8 209.7,117.8 209.8,115.2 209.9,109.6 209.9,115.3 210,115.4 210,119.3 210.1,118.7 210.2,122 210.2,118.5 210.3,119.8 210.4,118.8 210.4,117.7 210.5,119.6 210.5,120.6 210.6,120.5 210.7,116.2 210.7,117.1 210.8,114.8 210.8,114.8 210.9,118.1 211,115.7 211,120.8 211.1,111.9 211.1,114.5 211.2,117.9 211.3,120.1 211.3,116.5 211.4,121.8 211.4,119.2 211.5,115.6 211.6,117.2 211.6,118.6 211.7,115.2 211.7,119.9 211.8,116.8 211.9,118.6 211.9,119.5 212,115.4 212,119.9 212.1,113 212.2,118.9 212.2,112.8 212.3,120.1 212.3,116.1 212.4,120.4 212.5,120.7 212.5,117.2 212.6,116 212.6,120.6 212.7,114.8 212.8,119.5 212.8,117.3 212.9,116.7 212.9,116.2 213,121.9 213.1,113.8 213.1,116.3 213.2,118.7 213.3,120.1 213.3,121.7 213.4,120.9 213.4,116.4 213.5,118.5 213.6,120.4 213.6,119 213.7,114.1 213.7,118.6 213.8,119.2 213.9,114.6 213.9,116.7 214,117.7 214,119.3 214.1,121.5 214.2,120.6 214.2,119 214.3,118.4 214.3,117 214.4,116.6" fill="none" stroke="#050505" stroke-width="0.8" stroke-linejoin="round" />
<rect x="48" y="5" width="181.8" height="136.3" fill="none" stroke="#2a2a2a" stroke-width="1.1"/>
<line x1="63.3" y1="141.3" x2="63.3" y2="144.3" stroke="#2a2a2a" stroke-width="1"/>
<text x="63.3" y="152.8" font-family='"Liberation Sans", sans-serif' font-size="8.5" font-weight="bold" fill="#1a1a1a" text-anchor="middle"  id="t1" stroke="#1a1a1a" stroke-width="0.28">20</text>
<line x1="93.5" y1="141.3" x2="93.5" y2="144.3" stroke="#2a2a2a" stroke-width="1"/>
<text x="93.5" y="152.8" font-family='"Liberation Sans", sans-serif' font-size="8.5" font-weight="bold" fill="#1a1a1a" text-anchor="middle"  id="t2" stroke="#1a1a1a" stroke-width="0.28">30</text>
<line x1="123.7" y1="141.3" x2="123.7" y2="144.3" stroke="#2a2a2a" stroke-width="1"/>
<text x="123.7" y="152.8" font-family='"Liberation Sans", sans-serif' font-size="8.5" font-weight="bold" fill="#1a1a1a" text-anchor="middle"  id="t3" stroke="#1a1a1a" stroke-width="0.28">40</text>
<line x1="154" y1="141.3" x2="154" y2="144.3" stroke="#2a2a2a" stroke-width="1"/>
<text x="154" y="152.8" font-family='"Liberation Sans", sans-serif' font-size="8.5" font-weight="bold" fill="#1a1a1a" text-anchor="middle"  id="t4" stroke="#1a1a1a" stroke-width="0.28">50</text>
<line x1="184.2" y1="141.3" x2="184.2" y2="144.3" stroke="#2a2a2a" stroke-width="1"/>
<text x="184.2" y="152.8" font-family='"Liberation Sans", sans-serif' font-size="8.5" font-weight="bold" fill="#1a1a1a" text-anchor="middle"  id="t5" stroke="#1a1a1a" stroke-width="0.28">60</text>
<line x1="214.4" y1="141.3" x2="214.4" y2="144.3" stroke="#2a2a2a" stroke-width="1"/>
<text x="214.4" y="152.8" font-family='"Liberation Sans", sans-serif' font-size="8.5" font-weight="bold" fill="#1a1a1a" text-anchor="middle"  id="t6" stroke="#1a1a1a" stroke-width="0.28">70</text>
<line x1="78.4" y1="141.3" x2="78.4" y2="143" stroke="#2a2a2a" stroke-width="0.9"/>
<line x1="108.6" y1="141.3" x2="108.6" y2="143" stroke="#2a2a2a" stroke-width="0.9"/>
<line x1="138.8" y1="141.3" x2="138.8" y2="143" stroke="#2a2a2a" stroke-width="0.9"/>
<line x1="169.1" y1="141.3" x2="169.1" y2="143" stroke="#2a2a2a" stroke-width="0.9"/>
<line x1="199.3" y1="141.3" x2="199.3" y2="143" stroke="#2a2a2a" stroke-width="0.9"/>
<line x1="45" y1="141.3" x2="48" y2="141.3" stroke="#2a2a2a" stroke-width="1"/>
<text x="43.6" y="144.4" font-family='"Liberation Sans", sans-serif' font-size="8.5" font-weight="bold" fill="#1a1a1a" text-anchor="end"  id="t7" stroke="#1a1a1a" stroke-width="0.28">0</text>
<line x1="45" y1="114.1" x2="48" y2="114.1" stroke="#2a2a2a" stroke-width="1"/>
<text x="43.6" y="117.1" font-family='"Liberation Sans", sans-serif' font-size="8.5" font-weight="bold" fill="#1a1a1a" text-anchor="end"  id="t8" stroke="#1a1a1a" stroke-width="0.28">100</text>
<line x1="45" y1="86.9" x2="48" y2="86.9" stroke="#2a2a2a" stroke-width="1"/>
<text x="43.6" y="89.9" font-family='"Liberation Sans", sans-serif' font-size="8.5" font-weight="bold" fill="#1a1a1a" text-anchor="end"  id="t9" stroke="#1a1a1a" stroke-width="0.28">200</text>
<line x1="45" y1="59.6" x2="48" y2="59.6" stroke="#2a2a2a" stroke-width="1"/>
<text x="43.6" y="62.7" font-family='"Liberation Sans", sans-serif' font-size="8.5" font-weight="bold" fill="#1a1a1a" text-anchor="end"  id="t10" stroke="#1a1a1a" stroke-width="0.28">300</text>
<line x1="45" y1="32.4" x2="48" y2="32.4" stroke="#2a2a2a" stroke-width="1"/>
<text x="43.6" y="35.5" font-family='"Liberation Sans", sans-serif' font-size="8.5" font-weight="bold" fill="#1a1a1a" text-anchor="end"  id="t11" stroke="#1a1a1a" stroke-width="0.28">400</text>
<line x1="46.4" y1="127.7" x2="48" y2="127.7" stroke="#2a2a2a" stroke-width="0.9"/>
<line x1="46.4" y1="100.5" x2="48" y2="100.5" stroke="#2a2a2a" stroke-width="0.9"/>
<line x1="46.4" y1="73.3" x2="48" y2="73.3" stroke="#2a2a2a" stroke-width="0.9"/>
<line x1="46.4" y1="46" x2="48" y2="46" stroke="#2a2a2a" stroke-width="0.9"/>
<line x1="46.4" y1="18.8" x2="48" y2="18.8" stroke="#2a2a2a" stroke-width="0.9"/>
<text x="136.4" y="169.2" font-family='"Liberation Sans", sans-serif' font-size="10.5" font-weight="bold" fill="#1a1a1a" text-anchor="middle"  id="t12" stroke="#1a1a1a" stroke-width="0.28"><tspan font-family='"Liberation Serif", serif' font-size="11.5">2θ</tspan> (degree)</text>
<text x="20" y="76.5" font-family='"Liberation Sans", sans-serif' font-size="10.95" font-weight="bold" fill="#1a1a1a" text-anchor="middle" transform="rotate(-90 20 76.5)"  id="t13" stroke="#1a1a1a" stroke-width="0.28">Intensity (a.u.)</text>
<text x="16.8" y="24" font-family='"Liberation Serif", serif' font-size="27" font-weight="bold" fill="#000" text-anchor="middle"  id="t14">a</text>
<clipPath id="cb"><rect x="310.3" y="5" width="179.3" height="136.9"/></clipPath>
<polyline points="310.3,19.3 310.8,19.3 311.3,19.4 311.8,19.4 312.3,19.5 312.8,19.5 313.3,19.6 313.8,19.6 314.3,19.6 314.8,19.7 315.3,19.7 315.8,19.8 316.3,19.8 316.8,19.9 317.3,19.9 317.8,19.9 318.3,20 318.8,20 319.3,20.1 319.8,20.1 320.3,20.2 320.8,20.3 321.3,20.4 321.8,20.5 322.3,20.7 322.8,21 323.3,21.4 323.8,21.8 324.3,22.4 324.8,23.1 325.3,24.1 325.8,25.3 326.3,26.9 326.8,29 327.3,31.1 327.8,33.3 328.3,35.6 328.8,38 329.3,40.5 329.8,43.1 330.3,45.9 330.8,48.8 331.3,51.9 331.8,55.5 332.3,59.3 332.8,63.4 333.3,67.5 333.8,71.5 334.3,75.3 334.8,78.8 335.3,81.8 335.8,84.7 336.3,87.6 336.8,90.3 337.3,92.9 337.8,95.3 338.3,97.4 338.8,99.3 339.3,101 339.8,102.5 340.3,103.9 340.8,105.2 341.3,106.3 341.8,107.2 342.3,107.9 342.8,108.6 343.3,109.2 343.8,109.6 344.3,109.9 344.8,110.1 345.3,110.2 345.8,110.3 346.3,110.3 346.8,110.3 347.3,110.1 347.8,109.9 348.3,109.6 348.8,109.2 349.3,108.3 349.8,106.9 350.3,105.1 350.8,103.1 351.3,100.9 351.8,98.4 352.3,94.9 352.8,90.7 353.3,86.2 353.8,81.7 354.3,77.4 354.8,72.9 355.3,68.1 355.8,63.4 356.3,58.9 356.8,54.8 357.3,51.2 357.8,48.3 358.3,45.7 358.8,43.2 359.3,40.9 359.8,38.9 360.3,37.1 360.8,35.5 361.3,34.2 361.8,33 362.3,31.9 362.8,30.8 363.3,29.9 363.8,29.1 364.3,28.3 364.8,27.7 365.3,27.2 365.8,26.7 366.3,26.3 366.8,25.9 367.3,25.5 367.8,25.2 368.3,24.8 368.8,24.6 369.3,24.3 369.8,24.1 370.3,23.9 370.8,23.7 371.3,23.5 371.8,23.4 372.3,23.2 372.8,23.1 373.3,22.9 373.8,22.8 374.3,22.7 374.8,22.6 375.3,22.6 375.8,22.5 376.3,22.4 376.8,22.3 377.3,22.3 377.8,22.2 378.3,22.2 378.8,22.1 379.3,22.1 379.8,22 380.3,22 380.8,22 381.3,22 381.8,22 382.3,22 382.8,22.1 383.3,22.1 383.8,22.1 384.3,22.2 384.8,22.2 385.3,22.3 385.8,22.3 386.3,22.4 386.8,22.5 387.3,22.5 387.8,22.6 388.3,22.6 388.8,22.7 389.3,22.8 389.8,22.9 390.3,23 390.8,23.1 391.3,23.2 391.8,23.3 392.3,23.4 392.8,23.5 393.3,23.7 393.8,23.8 394.3,23.9 394.8,24.1 395.3,24.2 395.8,24.3 396.3,24.5 396.8,24.6 397.3,24.8 397.8,25 398.3,25.2 398.8,25.3 399.3,25.5 399.8,25.7 400.3,25.9 400.8,26.1 401.3,26.3 401.8,26.5 402.3,26.7 402.8,27 403.3,27.2 403.8,27.5 404.3,27.7 404.8,27.9 405.3,27.8 405.8,27.6 406.3,27.5 406.8,27.6 407.3,27.7 407.8,27.4 408.3,26.7 408.8,26.1 409.3,26.1 409.8,26.4 410.3,26.6 410.8,26.5 411.3,26.1 411.8,25.9 412.3,25.9 412.8,25.8 413.3,25.7 413.8,25.5 414.3,25.3 414.8,25.3 415.3,25.3 415.8,25.3 416.3,25.3 416.8,25.3 417.3,25.3 417.8,25.3 418.3,25.3 418.8,25.4 419.3,25.6 419.8,25.8 420.3,26.1 420.8,26.4 421.3,26.7 421.8,27.3 422.3,28.1 422.8,29 423.3,30.1 423.8,31.3 424.3,32.9 424.8,34.9 425.3,37.1 425.8,39.5 426.3,42.2 426.8,45.3 427.3,48.6 427.8,52.3 428.3,56.6 428.8,61.1 429.3,65 429.8,68.8 430.3,71.8 430.8,72.2 431.3,69.6 431.8,65.7 432.3,61.5 432.8,56.2 433.3,51.4 433.8,48.2 434.3,45.5 434.8,43.2 435.3,41.5 435.8,40.3 436.3,39.4 436.8,38.6 437.3,37.9 437.8,37.4 438.3,37.1 438.8,36.8 439.3,36.6 439.8,36.3 440.3,36.2 440.8,36 441.3,35.9 441.8,35.9 442.3,35.8 442.8,35.7 443.3,35.6 443.8,35.6 444.3,35.5 444.8,35.5 445.3,35.5 445.8,35.5 446.3,35.4 446.8,35.4 447.3,35.4 447.8,35.4 448.3,35.4 448.8,35.3 449.3,35.3 449.8,35.3 450.3,35.3 450.8,35.3 451.3,35.3 451.8,35.3 452.3,35.3 452.8,35.3 453.3,35.3 453.8,35.3 454.3,35.3 454.8,35.4 455.3,35.4 455.8,35.4 456.3,35.5 456.8,35.5 457.3,35.5 457.8,35.6 458.3,35.6 458.8,35.7 459.3,35.7 459.8,35.8 460.3,35.9 460.8,36.1 461.3,36.2 461.8,36.4 462.3,36.7 462.8,36.9 463.3,37.2 463.8,37.6 464.3,38.1 464.8,38.7 465.3,39.4 465.8,40.2 466.3,41 466.8,42 467.3,43.1 467.8,44.4 468.3,45.8 468.8,47.4 469.3,49 469.8,51 470.3,53.2 470.8,55.6 471.3,58.2 471.8,60.9 472.3,63.7 472.8,66.9 473.3,70.4 473.8,74 474.3,77.5 474.8,80.8 475.3,83.8 475.8,86.6 476.3,89.3 476.8,91.9 477.3,94.5 477.8,97 478.3,99.5 478.8,101.9 479.3,104.4 479.8,106.7 480.3,109 480.8,111.2 481.3,113.2 481.8,115.3 482.3,117.2 482.8,119.1 483.3,121 483.8,122.8 484.3,124.6 484.8,126.3 485.3,128 485.8,129.7 486.3,131.3 486.8,132.9 487.3,134.5 487.8,136.1 488.3,137.6 488.8,139 489.3,140.5" fill="none" stroke="#d61414" stroke-width="1.7" stroke-linejoin="round" clip-path="url(#cb)"/>
<line x1="346.2" y1="111.5" x2="346.2" y2="125.5" stroke="#555" stroke-width="1.1"/>
<line x1="430.6" y1="74.5" x2="430.6" y2="91" stroke="#555" stroke-width="1.1"/>
<text x="346.8" y="132.8" font-family='"Liberation Sans", sans-serif' font-size="8.5" font-weight="bold" fill="#1a1a1a" text-anchor="middle"  id="t15" stroke="#1a1a1a" stroke-width="0.28">-OH</text>
<text x="432" y="99.8" font-family='"Liberation Sans", sans-serif' font-size="8.7" font-weight="bold" fill="#1a1a1a" text-anchor="middle"  id="t16" stroke="#1a1a1a" stroke-width="0.28">-C=O</text>
<rect x="310.3" y="5" width="179.3" height="136.3" fill="none" stroke="#2a2a2a" stroke-width="1.1"/>
<line x1="335.7" y1="141.3" x2="335.7" y2="144.3" stroke="#2a2a2a" stroke-width="1"/>
<text x="335.7" y="153.7" font-family='"Liberation Sans", sans-serif' font-size="8.8" font-weight="bold" fill="#1a1a1a" text-anchor="middle"  id="t17" stroke="#1a1a1a" stroke-width="0.28">3500</text>
<line x1="361.1" y1="141.3" x2="361.1" y2="144.3" stroke="#2a2a2a" stroke-width="1"/>
<text x="361.1" y="153.7" font-family='"Liberation Sans", sans-serif' font-size="8.8" font-weight="bold" fill="#1a1a1a" text-anchor="middle"  id="t18" stroke="#1a1a1a" stroke-width="0.28">3000</text>
<line x1="386.5" y1="141.3" x2="386.5" y2="144.3" stroke="#2a2a2a" stroke-width="1"/>
<text x="386.5" y="153.7" font-family='"Liberation Sans", sans-serif' font-size="8.8" font-weight="bold" fill="#1a1a1a" text-anchor="middle"  id="t19" stroke="#1a1a1a" stroke-width="0.28">2500</text>
<line x1="411.9" y1="141.3" x2="411.9" y2="144.3" stroke="#2a2a2a" stroke-width="1"/>
<text x="411.9" y="153.7" font-family='"Liberation Sans", sans-serif' font-size="8.8" font-weight="bold" fill="#1a1a1a" text-anchor="middle"  id="t20" stroke="#1a1a1a" stroke-width="0.28">2000</text>
<line x1="437.3" y1="141.3" x2="437.3" y2="144.3" stroke="#2a2a2a" stroke-width="1"/>
<text x="437.3" y="153.7" font-family='"Liberation Sans", sans-serif' font-size="8.8" font-weight="bold" fill="#1a1a1a" text-anchor="middle"  id="t21" stroke="#1a1a1a" stroke-width="0.28">1500</text>
<line x1="462.7" y1="141.3" x2="462.7" y2="144.3" stroke="#2a2a2a" stroke-width="1"/>
<text x="462.7" y="153.7" font-family='"Liberation Sans", sans-serif' font-size="8.8" font-weight="bold" fill="#1a1a1a" text-anchor="middle"  id="t22" stroke="#1a1a1a" stroke-width="0.28">1000</text>
<line x1="323" y1="141.3" x2="323" y2="143" stroke="#2a2a2a" stroke-width="0.9"/>
<line x1="348.4" y1="141.3" x2="348.4" y2="143" stroke="#2a2a2a" stroke-width="0.9"/>
<line x1="373.8" y1="141.3" x2="373.8" y2="143" stroke="#2a2a2a" stroke-width="0.9"/>
<line x1="399.2" y1="141.3" x2="399.2" y2="143" stroke="#2a2a2a" stroke-width="0.9"/>
<line x1="424.6" y1="141.3" x2="424.6" y2="143" stroke="#2a2a2a" stroke-width="0.9"/>
<line x1="450" y1="141.3" x2="450" y2="143" stroke="#2a2a2a" stroke-width="0.9"/>
<line x1="475.4" y1="141.3" x2="475.4" y2="143" stroke="#2a2a2a" stroke-width="0.9"/>
<line x1="307.3" y1="141.3" x2="310.3" y2="141.3" stroke="#2a2a2a" stroke-width="1"/>
<text x="306.9" y="144" font-family='"Liberation Sans", sans-serif' font-size="8.8" font-weight="bold" fill="#1a1a1a" text-anchor="end"  id="t23" stroke="#1a1a1a" stroke-width="0.28">30</text>
<line x1="307.3" y1="115.4" x2="310.3" y2="115.4" stroke="#2a2a2a" stroke-width="1"/>
<text x="306.9" y="118.1" font-family='"Liberation Sans", sans-serif' font-size="8.8" font-weight="bold" fill="#1a1a1a" text-anchor="end"  id="t24" stroke="#1a1a1a" stroke-width="0.28">45</text>
<line x1="307.3" y1="89.5" x2="310.3" y2="89.5" stroke="#2a2a2a" stroke-width="1"/>
<text x="306.9" y="92.2" font-family='"Liberation Sans", sans-serif' font-size="8.8" font-weight="bold" fill="#1a1a1a" text-anchor="end"  id="t25" stroke="#1a1a1a" stroke-width="0.28">60</text>
<line x1="307.3" y1="63.6" x2="310.3" y2="63.6" stroke="#2a2a2a" stroke-width="1"/>
<text x="306.9" y="66.3" font-family='"Liberation Sans", sans-serif' font-size="8.8" font-weight="bold" fill="#1a1a1a" text-anchor="end"  id="t26" stroke="#1a1a1a" stroke-width="0.28">75</text>
<line x1="307.3" y1="37.7" x2="310.3" y2="37.7" stroke="#2a2a2a" stroke-width="1"/>
<text x="306.9" y="40.3" font-family='"Liberation Sans", sans-serif' font-size="8.8" font-weight="bold" fill="#1a1a1a" text-anchor="end"  id="t27" stroke="#1a1a1a" stroke-width="0.28">90</text>
<line x1="307.3" y1="11.8" x2="310.3" y2="11.8" stroke="#2a2a2a" stroke-width="1"/>
<text x="306.9" y="14.4" font-family='"Liberation Sans", sans-serif' font-size="8.8" font-weight="bold" fill="#1a1a1a" text-anchor="end"  id="t28" stroke="#1a1a1a" stroke-width="0.28">105</text>
<line x1="308.7" y1="128.3" x2="310.3" y2="128.3" stroke="#2a2a2a" stroke-width="0.9"/>
<line x1="308.7" y1="102.4" x2="310.3" y2="102.4" stroke="#2a2a2a" stroke-width="0.9"/>
<line x1="308.7" y1="76.5" x2="310.3" y2="76.5" stroke="#2a2a2a" stroke-width="0.9"/>
<line x1="308.7" y1="50.6" x2="310.3" y2="50.6" stroke="#2a2a2a" stroke-width="0.9"/>
<line x1="308.7" y1="24.7" x2="310.3" y2="24.7" stroke="#2a2a2a" stroke-width="0.9"/>
<text x="394.4" y="171.9" font-family='"Liberation Sans", sans-serif' font-size="10.9" font-weight="bold" fill="#1a1a1a" text-anchor="middle"  id="t29" stroke="#1a1a1a" stroke-width="0.28">Wavenumber (cm<tspan dy="-4.5" font-size="6.2">-1</tspan><tspan dy="4.5">)</tspan></text>
<text x="283" y="74.6" font-family='"Liberation Sans", sans-serif' font-size="11.1" font-weight="bold" fill="#1a1a1a" text-anchor="middle" transform="rotate(-90 283 74.6)"  id="t30" stroke="#1a1a1a" stroke-width="0.28">Transmittance (%)</text>
<text x="272.3" y="26.2" font-family='"Liberation Sans", sans-serif' font-size="26" font-weight="bold" fill="#000" text-anchor="middle"  id="t31">b</text>
<defs>
<filter id="tem" x="0" y="0" width="100%" height="100%" color-interpolation-filters="sRGB"><feTurbulence type="fractalNoise" baseFrequency="0.73 0.79" numOctaves="2" seed="3" result="n"/><feColorMatrix in="n" type="matrix" values="0.31 0.31 0.31 0 0.05  0.31 0.31 0.31 0 0.05  0.31 0.31 0.31 0 0.05  0 0 0 0 1"/></filter>
<filter id="tem2" x="0" y="0" width="100%" height="100%" color-interpolation-filters="sRGB"><feTurbulence type="fractalNoise" baseFrequency="0.62 0.66" numOctaves="2" seed="11" result="n"/><feColorMatrix in="n" type="matrix" values="0.66 0.66 0.66 0 -0.54  0.66 0.66 0.66 0 -0.54  0.66 0.66 0.66 0 -0.54  0 0 0 0 1"/></filter>
<filter id="soft" x="-50%" y="-50%" width="200%" height="200%"><feGaussianBlur stdDeviation="2.2"/></filter>
<filter id="soft1" x="-50%" y="-50%" width="200%" height="200%"><feGaussianBlur stdDeviation="0.5"/></filter>
</defs>
<rect x="35.8" y="198" width="196" height="148.8" fill="#858585"/>
<rect x="35.8" y="198" width="196" height="148.8" filter="url(#tem)"/>
<circle cx="153.2" cy="305.7" r="6.5" fill="#000" opacity="0.2" filter="url(#soft)"/>
<circle cx="134.4" cy="282" r="6" fill="#000" opacity="0.17" filter="url(#soft)"/>
<circle cx="160" cy="318" r="4" fill="#000" opacity="0.08" filter="url(#soft)"/>
<circle cx="75" cy="330" r="8" fill="#000" opacity="0.06" filter="url(#soft)"/>
<circle cx="200" cy="290" r="6" fill="#000" opacity="0.06" filter="url(#soft)"/>
<circle cx="85.9" cy="245.5" r="1.2" fill="#161616" filter="url(#soft1)"/>
<circle cx="89.6" cy="275" r="1.1" fill="#161616" filter="url(#soft1)"/>
<circle cx="148.3" cy="235.7" r="1.1" fill="#161616" filter="url(#soft1)"/>
<circle cx="49.9" cy="274.9" r="1.1" fill="#161616" filter="url(#soft1)"/>
<circle cx="107.4" cy="296.7" r="1.1" fill="#161616" filter="url(#soft1)"/>
<circle cx="121" cy="230" r="0.9" fill="#161616" filter="url(#soft1)"/>
<circle cx="132.3" cy="247.2" r="1.2" fill="#161616" filter="url(#soft1)"/>
<circle cx="135" cy="246.5" r="0.8" fill="#161616" filter="url(#soft1)"/>
<circle cx="152" cy="216" r="0.8" fill="#161616" filter="url(#soft1)"/>
<circle cx="60.6" cy="206.8" r="0.8" fill="#161616" filter="url(#soft1)"/>
<circle cx="136.3" cy="327.8" r="1.2" fill="#161616" filter="url(#soft1)"/>
<circle cx="135.2" cy="330.6" r="0.9" fill="#161616" filter="url(#soft1)"/>
<circle cx="197" cy="295" r="1.1" fill="#161616" filter="url(#soft1)"/>
<circle cx="229" cy="296" r="0.9" fill="#161616" filter="url(#soft1)"/>
<circle cx="99" cy="222" r="0.7" fill="#161616" filter="url(#soft1)"/>
<circle cx="50.7" cy="233" r="0.8" fill="#161616" filter="url(#soft1)"/>
<circle cx="160" cy="250" r="0.7" fill="#161616" filter="url(#soft1)"/>
<circle cx="72" cy="216" r="0.7" fill="#161616" filter="url(#soft1)"/>
<circle cx="181" cy="275" r="0.7" fill="#161616" filter="url(#soft1)"/>
<circle cx="111" cy="320" r="0.7" fill="#161616" filter="url(#soft1)"/>
<circle cx="218" cy="318" r="0.7" fill="#161616" filter="url(#soft1)"/>
<circle cx="133.5" cy="287" r="1.1" fill="#161616" filter="url(#soft1)"/>
<circle cx="138" cy="312" r="0.9" fill="#161616" filter="url(#soft1)"/>
<circle cx="126.2" cy="300.8" r="0.8" fill="#161616" filter="url(#soft1)"/>
<circle cx="161.9" cy="275.5" r="0.7" fill="#161616" filter="url(#soft1)"/>
<circle cx="172" cy="274.6" r="0.7" fill="#161616" filter="url(#soft1)"/>
<line x1="82.6" y1="252" x2="64.5" y2="284.4" stroke="#f5e61a" stroke-width="1.6"/>
<polygon points="60.3,291.8 60.4,281 69.5,286.1" fill="#f5e61a"/>
<line x1="84" y1="280.4" x2="70.7" y2="291.5" stroke="#f5e61a" stroke-width="1.6"/>
<polygon points="64.2,297 68.1,286.9 74.8,294.9" fill="#f5e61a"/>
<line x1="155" y1="232.6" x2="164.1" y2="228.2" stroke="#f5e61a" stroke-width="1.6"/>
<polygon points="169,225.8 164.6,231.6 161.7,225.7" fill="#f5e61a"/>
<circle cx="85.9" cy="245.5" r="7.7" fill="none" stroke="#f5e61a" stroke-width="1.3" stroke-dasharray="4.4 2.3"/>
<circle cx="89.7" cy="275" r="7.7" fill="none" stroke="#f5e61a" stroke-width="1.3" stroke-dasharray="4.4 2.3"/>
<circle cx="148" cy="236" r="7.7" fill="none" stroke="#f5e61a" stroke-width="1.3" stroke-dasharray="4.4 2.3"/>
<text x="56.2" y="306.2" font-family='"Liberation Serif", serif' font-size="15.5" font-weight="bold" fill="#f5e61a" text-anchor="middle" letter-spacing="0.5" id="t32">CDs</text>
<rect x="168.5" y="198" width="63.5" height="62" fill="#f4f4f4"/>
<rect x="169.5" y="198" width="62.5" height="61" fill="#787878"/>
<rect x="169.5" y="198" width="62.5" height="61" filter="url(#tem2)"/>
<rect x="169.5" y="248.7" width="62.5" height="10.3" fill="#060606"/>
<rect x="172.2" y="253.1" width="31" height="2.5" fill="#fff"/>
<text x="217.8" y="257.4" font-family='"Liberation Serif", serif' font-size="9.6" font-weight="bold" fill="#fff" text-anchor="middle" letter-spacing="0.5" id="t33">5 nm</text>
<text x="194.6" y="209.6" font-family='"Liberation Serif", serif' font-size="10.3" font-weight="bold" fill="#f5e61a" text-anchor="middle" letter-spacing="0.35" id="t34">0.33 nm</text>
<line x1="195.1" y1="215.5" x2="201.5" y2="230" stroke="#f5e61a" stroke-width="0.8"/>
<line x1="196.9" y1="215" x2="203.3" y2="229.3" stroke="#f5e61a" stroke-width="0.8"/>
<line x1="191.6" y1="226.2" x2="206.3" y2="221.5" stroke="#f5e61a" stroke-width="0.8"/>
<rect x="150.8" y="332" width="81" height="15" fill="#050505"/>
<rect x="157" y="338.3" width="19.8" height="2.6" fill="#fff"/>
<text x="205.2" y="344.5" font-family='"Liberation Serif", serif' font-size="15.5" font-weight="bold" fill="#fff" text-anchor="middle" letter-spacing="0.7" id="t35">50 nm</text>
<text x="16.2" y="212.2" font-family='"Liberation Serif", serif' font-size="27" font-weight="bold" fill="#000" text-anchor="middle"  id="t36">c</text>
<rect x="323.2" y="323.1" width="11.8" height="11.9" fill="#c90505"/>
<rect x="337.5" y="215.8" width="11.8" height="119.2" fill="#c90505"/>
<rect x="351.8" y="215.8" width="11.8" height="119.2" fill="#c90505"/>
<rect x="366.1" y="227.7" width="11.8" height="107.3" fill="#c90505"/>
<rect x="380.3" y="287.3" width="11.8" height="47.7" fill="#c90505"/>
<rect x="394.6" y="287.3" width="11.8" height="47.7" fill="#c90505"/>
<rect x="408.9" y="299.2" width="11.8" height="35.8" fill="#c90505"/>
<rect x="423.2" y="287.3" width="11.8" height="47.7" fill="#c90505"/>
<rect x="437.5" y="323.1" width="11.8" height="11.9" fill="#c90505"/>
<rect x="451.8" y="299.2" width="11.8" height="35.8" fill="#c90505"/>
<rect x="466.1" y="323.1" width="11.8" height="11.9" fill="#c90505"/>
<polyline points="314.5,319.8 315.3,319.1 316,318.3 316.7,317.5 317.4,316.6 318.1,315.6 318.8,314.7 319.5,313.6 320.3,312.5 321,311.3 321.7,310 322.4,308.7 323.1,307.3 323.8,305.9 324.5,304.3 325.3,302.7 326,301.1 326.7,299.3 327.4,297.5 328.1,295.6 328.8,293.7 329.5,291.6 330.3,289.5 331,287.4 331.7,285.1 332.4,282.8 333.1,280.5 333.8,278.1 334.6,275.6 335.3,273.1 336,270.6 336.7,268 337.4,265.3 338.1,262.7 338.8,260 339.6,257.3 340.3,254.6 341,251.9 341.7,249.3 342.4,246.6 343.1,243.9 343.8,241.3 344.6,238.7 345.3,236.2 346,233.7 346.7,231.2 347.4,228.9 348.1,226.6 348.8,224.4 349.6,222.3 350.3,220.3 351,218.4 351.7,216.6 352.4,214.9 353.1,213.4 353.8,212 354.6,210.7 355.3,209.6 356,208.7 356.7,207.9 357.4,207.2 358.1,206.7 358.8,206.4 359.6,206.2 360.3,206.2 361,206.3 361.7,206.6 362.4,207 363.1,207.6 363.8,208.3 364.6,209.2 365.3,210.2 366,211.3 366.7,212.6 367.4,213.9 368.1,215.5 368.8,217.1 369.6,218.8 370.3,220.7 371,222.6 371.7,224.6 372.4,226.7 373.1,228.9 373.8,231.2 374.6,233.5 375.3,235.9 376,238.3 376.7,240.8 377.4,243.3 378.1,245.9 378.8,248.4 379.6,251 380.3,253.6 381,256.2 381.7,258.7 382.4,261.3 383.1,263.9 383.9,266.4 384.6,268.9 385.3,271.4 386,273.8 386.7,276.2 387.4,278.5 388.1,280.8 388.9,283.1 389.6,285.3 390.3,287.4 391,289.5 391.7,291.5 392.4,293.5 393.1,295.3 393.9,297.2 394.6,298.9 395.3,300.6 396,302.2 396.7,303.8 397.4,305.3 398.1,306.7 398.9,308.1 399.6,309.4 400.3,310.6 401,311.8 401.7,312.9 402.4,313.9 403.1,314.9 403.9,315.9 404.6,316.7 405.3,317.6 406,318.4 406.7,319.1 407.4,319.8 408.1,320.4 408.9,321 409.6,321.6 410.3,322.1 411,322.6 411.7,323.1 412.4,323.5 413.1,323.9 413.9,324.3 414.6,324.6 415.3,324.9 416,325.2 416.7,325.4 417.4,325.7 418.1,325.9 418.9,326.1 419.6,326.3 420.3,326.5 421,326.6 421.7,326.8 422.4,326.9 423.1,327 423.9,327.1 424.6,327.2 425.3,327.3 426,327.4 426.7,327.4 427.4,327.5 428.2,327.6 428.9,327.6 429.6,327.7 430.3,327.7 431,327.7 431.7,327.8 432.4,327.8 433.2,327.8 433.9,327.8 434.6,327.9 435.3,327.9 436,327.9 436.7,327.9 437.4,327.9 438.2,327.9 438.9,328 439.6,328 440.3,328 441,328 441.7,328 442.4,328 443.2,328 443.9,328 444.6,328 445.3,328 446,328 446.7,328 447.4,328 448.2,328 448.9,328 449.6,328 450.3,328 451,328 451.7,328 452.4,328 453.2,328 453.9,328 454.6,328 455.3,328 456,328 456.7,328 457.4,328 458.2,328 458.9,328 459.6,328 460.3,328 461,328 461.7,328 462.4,328 463.2,328 463.9,328 464.6,328 465.3,328 466,328 466.7,328 467.4,328 468.2,328 468.9,328 469.6,328 470.3,328 471,328 471.7,328 472.4,328 473.2,328 473.9,328 474.6,328 475.3,328 476,328 476.7,328 477.5,328 478.2,328 478.9,328 479.6,328 480.3,328 481,328 481.7,328 482.5,328 483.2,328 483.9,328 484.6,328 485.3,328 486,328 486.7,328 487.5,328 488.2,328 488.9,328 489.6,328 490.3,328 491,328 491.7,328 492.5,328 493.2,328" fill="none" stroke="#0a0a0a" stroke-width="1.3" stroke-linejoin="round" />
<rect x="307.6" y="197.5" width="185.8" height="137.5" fill="none" stroke="#2a2a2a" stroke-width="1.1"/>
<line x1="307.4" y1="335" x2="307.4" y2="338" stroke="#2a2a2a" stroke-width="1"/>
<text x="307.4" y="346.5" font-family='"Liberation Sans", sans-serif' font-size="8.5" font-weight="bold" fill="#1a1a1a" text-anchor="middle"  id="t37" stroke="#1a1a1a" stroke-width="0.28">2</text>
<line x1="336" y1="335" x2="336" y2="338" stroke="#2a2a2a" stroke-width="1"/>
<text x="336" y="346.5" font-family='"Liberation Sans", sans-serif' font-size="8.5" font-weight="bold" fill="#1a1a1a" text-anchor="middle"  id="t38" stroke="#1a1a1a" stroke-width="0.28">4</text>
<line x1="364.6" y1="335" x2="364.6" y2="338" stroke="#2a2a2a" stroke-width="1"/>
<text x="364.6" y="346.5" font-family='"Liberation Sans", sans-serif' font-size="8.5" font-weight="bold" fill="#1a1a1a" text-anchor="middle"  id="t39" stroke="#1a1a1a" stroke-width="0.28">6</text>
<line x1="393.1" y1="335" x2="393.1" y2="338" stroke="#2a2a2a" stroke-width="1"/>
<text x="393.1" y="346.5" font-family='"Liberation Sans", sans-serif' font-size="8.5" font-weight="bold" fill="#1a1a1a" text-anchor="middle"  id="t40" stroke="#1a1a1a" stroke-width="0.28">8</text>
<line x1="421.7" y1="335" x2="421.7" y2="338" stroke="#2a2a2a" stroke-width="1"/>
<text x="421.7" y="346.5" font-family='"Liberation Sans", sans-serif' font-size="8.5" font-weight="bold" fill="#1a1a1a" text-anchor="middle"  id="t41" stroke="#1a1a1a" stroke-width="0.28">10</text>
<line x1="450.3" y1="335" x2="450.3" y2="338" stroke="#2a2a2a" stroke-width="1"/>
<text x="450.3" y="346.5" font-family='"Liberation Sans", sans-serif' font-size="8.5" font-weight="bold" fill="#1a1a1a" text-anchor="middle"  id="t42" stroke="#1a1a1a" stroke-width="0.28">12</text>
<line x1="478.9" y1="335" x2="478.9" y2="338" stroke="#2a2a2a" stroke-width="1"/>
<text x="478.9" y="346.5" font-family='"Liberation Sans", sans-serif' font-size="8.5" font-weight="bold" fill="#1a1a1a" text-anchor="middle"  id="t43" stroke="#1a1a1a" stroke-width="0.28">14</text>
<line x1="321.7" y1="335" x2="321.7" y2="336.6" stroke="#2a2a2a" stroke-width="0.9"/>
<line x1="350.3" y1="335" x2="350.3" y2="336.6" stroke="#2a2a2a" stroke-width="0.9"/>
<line x1="378.8" y1="335" x2="378.8" y2="336.6" stroke="#2a2a2a" stroke-width="0.9"/>
<line x1="407.4" y1="335" x2="407.4" y2="336.6" stroke="#2a2a2a" stroke-width="0.9"/>
<line x1="436" y1="335" x2="436" y2="336.6" stroke="#2a2a2a" stroke-width="0.9"/>
<line x1="464.6" y1="335" x2="464.6" y2="336.6" stroke="#2a2a2a" stroke-width="0.9"/>
<line x1="493.2" y1="335" x2="493.2" y2="336.6" stroke="#2a2a2a" stroke-width="0.9"/>
<line x1="304.6" y1="335" x2="307.6" y2="335" stroke="#2a2a2a" stroke-width="1"/>
<text x="303.8" y="338.2" font-family='"Liberation Sans", sans-serif' font-size="8.8" font-weight="bold" fill="#1a1a1a" text-anchor="end"  id="t44" stroke="#1a1a1a" stroke-width="0.28">0</text>
<line x1="304.6" y1="305.2" x2="307.6" y2="305.2" stroke="#2a2a2a" stroke-width="1"/>
<text x="303.8" y="308.4" font-family='"Liberation Sans", sans-serif' font-size="8.8" font-weight="bold" fill="#1a1a1a" text-anchor="end"  id="t45" stroke="#1a1a1a" stroke-width="0.28">5</text>
<line x1="304.6" y1="275.4" x2="307.6" y2="275.4" stroke="#2a2a2a" stroke-width="1"/>
<text x="303.8" y="278.6" font-family='"Liberation Sans", sans-serif' font-size="8.8" font-weight="bold" fill="#1a1a1a" text-anchor="end"  id="t46" stroke="#1a1a1a" stroke-width="0.28">10</text>
<line x1="304.6" y1="245.6" x2="307.6" y2="245.6" stroke="#2a2a2a" stroke-width="1"/>
<text x="303.8" y="248.8" font-family='"Liberation Sans", sans-serif' font-size="8.8" font-weight="bold" fill="#1a1a1a" text-anchor="end"  id="t47" stroke="#1a1a1a" stroke-width="0.28">15</text>
<line x1="304.6" y1="215.8" x2="307.6" y2="215.8" stroke="#2a2a2a" stroke-width="1"/>
<text x="303.8" y="219" font-family='"Liberation Sans", sans-serif' font-size="8.8" font-weight="bold" fill="#1a1a1a" text-anchor="end"  id="t48" stroke="#1a1a1a" stroke-width="0.28">20</text>
<line x1="306" y1="320.1" x2="307.6" y2="320.1" stroke="#2a2a2a" stroke-width="0.9"/>
<line x1="306" y1="290.3" x2="307.6" y2="290.3" stroke="#2a2a2a" stroke-width="0.9"/>
<line x1="306" y1="260.5" x2="307.6" y2="260.5" stroke="#2a2a2a" stroke-width="0.9"/>
<line x1="306" y1="230.7" x2="307.6" y2="230.7" stroke="#2a2a2a" stroke-width="0.9"/>
<line x1="306" y1="200.9" x2="307.6" y2="200.9" stroke="#2a2a2a" stroke-width="0.9"/>
<text x="400.5" y="363" font-family='"Liberation Sans", sans-serif' font-size="11.0" font-weight="bold" fill="#1a1a1a" text-anchor="middle"  id="t49" stroke="#1a1a1a" stroke-width="0.28">Particle size (nm)</text>
<text x="283.3" y="274.8" font-family='"Liberation Sans", sans-serif' font-size="10.7" font-weight="bold" fill="#1a1a1a" text-anchor="middle" transform="rotate(-90 283.3 274.8)"  id="t50" stroke="#1a1a1a" stroke-width="0.28">Frequency</text>
<text x="274.6" y="221.5" font-family='"Liberation Serif", serif' font-size="27" font-weight="bold" fill="#000" text-anchor="middle"  id="t51">d</text>
<clipPath id="ce"><rect x="48.2" y="387" width="173.8" height="128"/></clipPath>
<polyline points="48.2,378 48.7,380.2 49.2,382.4 49.7,384.6 50.2,386.9 50.7,389.3 51.2,391.8 51.7,394.4 52.2,397 52.7,399.6 53.2,402.2 53.7,404.7 54.2,407.2 54.7,409.4 55.2,411.6 55.7,413.8 56.2,415.9 56.7,417.9 57.2,419.9 57.7,421.9 58.2,423.8 58.7,425.7 59.2,427.5 59.7,429.3 60.2,431 60.7,432.8 61.2,434.5 61.7,436.1 62.2,437.8 62.7,439.3 63.2,440.9 63.7,442.4 64.2,443.8 64.7,445.2 65.2,446.5 65.7,447.9 66.2,449.2 66.7,450.4 67.2,451.6 67.7,452.8 68.2,454 68.7,455.1 69.2,456.2 69.7,457.4 70.2,458.4 70.7,459.5 71.2,460.6 71.7,461.6 72.2,462.6 72.7,463.6 73.2,464.6 73.7,465.5 74.2,466.4 74.7,467.3 75.2,468.1 75.7,468.9 76.2,469.7 76.7,470.5 77.2,471.2 77.7,471.9 78.2,472.6 78.7,473.3 79.2,474 79.7,474.6 80.2,475.2 80.7,475.8 81.2,476.4 81.7,477 82.2,477.6 82.7,478.1 83.2,478.7 83.7,479.2 84.2,479.7 84.7,480.2 85.2,480.7 85.7,481.2 86.2,481.7 86.7,482.1 87.2,482.6 87.7,483 88.2,483.4 88.7,483.8 89.2,484.2 89.7,484.6 90.2,485 90.7,485.4 91.2,485.7 91.7,486.1 92.2,486.4 92.7,486.8 93.2,487.1 93.7,487.5 94.2,487.8 94.7,488.1 95.2,488.5 95.7,488.8 96.2,489.1 96.7,489.5 97.2,489.8 97.7,490.1 98.2,490.4 98.7,490.7 99.2,491 99.7,491.3 100.2,491.6 100.7,491.9 101.2,492.2 101.7,492.5 102.2,492.8 102.7,493 103.2,493.3 103.7,493.6 104.2,493.8 104.7,494.1 105.2,494.3 105.7,494.5 106.2,494.8 106.7,495 107.2,495.2 107.7,495.4 108.2,495.7 108.7,495.9 109.2,496.1 109.7,496.3 110.2,496.5 110.7,496.7 111.2,496.9 111.7,497.1 112.2,497.3 112.7,497.5 113.2,497.6 113.7,497.8 114.2,498 114.7,498.2 115.2,498.4 115.7,498.5 116.2,498.7 116.7,498.9 117.2,499.1 117.7,499.2 118.2,499.4 118.7,499.6 119.2,499.7 119.7,499.9 120.2,500.1 120.7,500.2 121.2,500.4 121.7,500.6 122.2,500.7 122.7,500.9 123.2,501 123.7,501.2 124.2,501.3 124.7,501.5 125.2,501.6 125.7,501.7 126.2,501.9 126.7,502 127.2,502.1 127.7,502.3 128.2,502.4 128.7,502.5 129.2,502.6 129.7,502.8 130.2,502.9 130.7,503 131.2,503.1 131.7,503.2 132.2,503.3 132.7,503.4 133.2,503.5 133.7,503.6 134.2,503.8 134.7,503.9 135.2,504 135.7,504 136.2,504.1 136.7,504.2 137.2,504.3 137.7,504.4 138.2,504.5 138.7,504.6 139.2,504.7 139.7,504.8 140.2,504.9 140.7,505 141.2,505 141.7,505.1 142.2,505.2 142.7,505.3 143.2,505.4 143.7,505.4 144.2,505.5 144.7,505.6 145.2,505.7 145.7,505.7 146.2,505.8 146.7,505.9 147.2,506 147.7,506 148.2,506.1 148.7,506.2 149.2,506.2 149.7,506.3 150.2,506.4 150.7,506.4 151.2,506.5 151.7,506.5 152.2,506.6 152.7,506.7 153.2,506.7 153.7,506.8 154.2,506.8 154.7,506.9 155.2,507 155.7,507 156.2,507.1 156.7,507.1 157.2,507.2 157.7,507.2 158.2,507.3 158.7,507.3 159.2,507.4 159.7,507.4 160.2,507.5 160.7,507.5 161.2,507.6 161.7,507.6 162.2,507.7 162.7,507.7 163.2,507.7 163.7,507.8 164.2,507.8 164.7,507.9 165.2,507.9 165.7,508 166.2,508 166.7,508 167.2,508.1 167.7,508.1 168.2,508.2 168.7,508.2 169.2,508.2 169.7,508.3 170.2,508.3 170.7,508.4 171.2,508.4 171.7,508.4 172.2,508.5 172.7,508.5 173.2,508.5 173.7,508.6 174.2,508.6 174.7,508.6 175.2,508.7 175.7,508.7 176.2,508.8 176.7,508.8 177.2,508.8 177.7,508.9 178.2,508.9 178.7,508.9 179.2,508.9 179.7,509 180.2,509 180.7,509 181.2,509.1 181.7,509.1 182.2,509.1 182.7,509.2 183.2,509.2 183.7,509.2 184.2,509.3 184.7,509.3 185.2,509.3 185.7,509.3 186.2,509.4 186.7,509.4 187.2,509.4 187.7,509.5 188.2,509.5 188.7,509.5 189.2,509.5 189.7,509.6 190.2,509.6 190.7,509.6 191.2,509.6 191.7,509.7 192.2,509.7 192.7,509.7 193.2,509.7 193.7,509.8 194.2,509.8 194.7,509.8 195.2,509.9 195.7,509.9 196.2,509.9 196.7,509.9 197.2,510 197.7,510 198.2,510 198.7,510 199.2,510.1 199.7,510.1 200.2,510.1 200.7,510.1 201.2,510.2 201.7,510.2 202.2,510.2 202.7,510.2 203.2,510.3 203.7,510.3 204.2,510.3 204.7,510.3 205.2,510.4 205.7,510.4 206.2,510.4 206.7,510.4 207.2,510.5 207.7,510.5 208.2,510.5 208.7,510.5 209.2,510.6 209.7,510.6 210.2,510.6 210.7,510.6 211.2,510.7 211.7,510.7 212.2,510.7 212.7,510.7 213.2,510.8 213.7,510.8 214.2,510.8 214.7,510.8 215.2,510.9 215.7,510.9 216.2,510.9 216.7,510.9 217.2,511 217.7,511 218.2,511 218.7,511 219.2,511.1 219.7,511.1 220.2,511.1 220.7,511.1 221.2,511.2 221.7,511.2" fill="none" stroke="#1a12d8" stroke-width="1.7" stroke-linejoin="round" clip-path="url(#ce)"/>
<polyline points="83.4,483.2 83.6,479.9 83.8,480.1 83.9,479 84.1,479.1 84.3,479.7 84.5,477.5 84.7,478.2 84.8,478.1 85,475 85.2,474.8 85.4,475.2 85.6,474.3 85.7,474.6 85.9,471.3 86.1,473.4 86.3,473 86.5,470.8 86.6,468.6 86.8,469.5 87,468.2 87.2,469 87.4,467.6 87.5,467.9 87.7,465.5 87.9,466.5 88.1,461.5 88.3,462.5 88.4,463.6 88.6,459.8 88.8,461.8 89,458 89.2,458.3 89.3,456.4 89.5,456.3 89.7,456.4 89.9,454.7 90.1,453.1 90.2,457.5 90.4,452.4 90.6,449.9 90.8,452.5 91,451.9 91.1,451.6 91.3,451.8 91.5,445.3 91.7,448.7 91.9,447.3 92,443.8 92.2,443.7 92.4,436.3 92.6,440.3 92.8,444.7 92.9,435.2 93.1,437.8 93.3,439.1 93.5,438.9 93.7,441.1 93.8,430.8 94,433.8 94.2,435.1 94.4,428.7 94.6,430.8 94.7,434.4 94.9,432.1 95.1,429.4 95.3,421 95.5,426.9 95.6,427.6 95.8,425.1 96,424.4 96.2,431.9 96.4,422.2 96.5,419.7 96.7,421.9 96.9,420 97.1,419.2 97.3,418.7 97.4,420.4 97.6,419.1 97.8,414.4 98,416.9 98.2,417.8 98.3,415 98.5,418.1 98.7,416 98.9,411.1 99.1,413.4 99.2,417.6 99.4,416 99.6,411.3 99.8,413.2 100,408.4 100.1,405.8 100.3,410.9 100.5,409.3 100.7,409.8 100.9,407.5 101,407.7 101.2,404.8 101.4,406.5 101.6,407.5 101.8,404.7 101.9,406.1 102.1,399.9 102.3,401.1 102.5,405.4 102.7,405.8 102.8,401.8 103,400.4 103.2,396.5 103.4,400.6 103.6,401.6 103.7,395.3 103.9,400.5 104.1,401.1 104.3,401.2 104.5,397.5 104.6,401.8 104.8,395.5 105,402.2 105.2,398.6 105.4,395.4 105.5,401 105.7,400.6 105.9,395.7 106.1,402.1 106.3,393.7 106.4,397.9 106.6,400 106.8,391.5 107,399.3 107.2,396.5 107.3,395.8 107.5,392.8 107.7,396 107.9,392.7 108.1,392.6 108.2,394.7 108.4,392.7 108.6,399.4 108.8,392.6 109,394.6 109.1,395.6 109.3,396.3 109.5,397.8 109.7,398.9 109.9,394.8 110,394.5 110.2,395.8 110.4,397.7 110.6,396.8 110.8,393.7 110.9,390.6 111.1,401.2 111.3,397.2 111.5,396.5 111.7,396 111.8,394.1 112,393 112.2,395.2 112.4,395.7 112.6,394.7 112.7,392.4 112.9,395.9 113.1,397.7 113.3,396.2 113.5,397 113.6,392.2 113.8,396.6 114,396.8 114.2,393.5 114.4,392.5 114.5,397 114.7,393.4 114.9,396.3 115.1,393.8 115.3,396.6 115.4,394 115.6,391.2 115.8,395.1 116,394.6 116.2,397.6 116.3,395.3 116.5,395.3 116.7,399.5 116.9,400.2 117.1,399.9 117.2,400.7 117.4,399.3 117.6,399.5 117.8,400.2 118,399.6 118.1,398.8 118.3,399 118.5,404.9 118.7,398.7 118.9,398.4 119,398.5 119.2,399.4 119.4,399.9 119.6,396.2 119.8,394.6 119.9,399.9 120.1,394.7 120.3,399.2 120.5,398.7 120.7,401.3 120.8,403.8 121,401.2 121.2,399.3 121.4,397.8 121.6,399.3 121.7,401.8 121.9,397.6 122.1,402.3 122.3,402.3 122.5,403.9 122.6,401.8 122.8,402.7 123,400.9 123.2,402.1 123.4,398.9 123.5,402.6 123.7,407.2 123.9,403.7 124.1,404.6 124.3,400.8 124.4,408.1 124.6,402.9 124.8,406.5 125,405 125.2,403 125.3,408.5 125.5,407.2 125.7,407.7 125.9,409.3 126.1,407.5 126.2,407 126.4,410.6 126.6,408.5 126.8,410.8 127,409.6 127.1,406.8 127.3,408.8 127.5,408.9 127.7,411.3 127.9,414.3 128,406.7 128.2,412.4 128.4,406.5 128.6,409.5 128.8,411.8 128.9,408.7 129.1,410.2 129.3,415.9 129.5,416.1 129.7,415.8 129.8,414.5 130,422.4 130.2,416.2 130.4,415.1 130.6,421 130.7,418.7 130.9,416.4 131.1,420.5 131.3,418.8 131.5,420 131.6,420 131.8,417.9 132,422.8 132.2,421.3 132.4,418.8 132.5,419.6 132.7,424.7 132.9,422 133.1,423.7 133.3,425 133.4,424.2 133.6,420.9 133.8,427.2 134,429 134.2,429.5 134.3,431.6 134.5,427.9 134.7,429 134.9,431.5 135.1,426.2 135.2,431.6 135.4,432.1 135.6,429.6 135.8,432 136,430.7 136.1,427.9 136.3,433.5 136.5,432.3 136.7,434.2 136.9,433.7 137,437.9 137.2,436.1 137.4,433.7 137.6,436 137.8,436.5 137.9,432.9 138.1,433.5 138.3,433.9 138.5,434.2 138.7,435.9 138.8,438.9 139,441.2 139.2,440.5 139.4,440.3 139.6,441.5 139.7,442.4 139.9,438.1 140.1,441.1 140.3,440.3 140.5,438.8 140.6,438.8 140.8,438.7 141,439.3 141.2,437 141.4,441.5 141.5,440.4 141.7,441.2 141.9,442.4 142.1,443.7 142.3,440.7 142.4,441.8 142.6,437.8 142.8,436.9 143,437.6 143.2,446.4 143.3,437.9 143.5,444.2 143.7,446.9 143.9,442.5 144.1,448.5 144.2,450 144.4,447.6 144.6,452.3 144.8,448.8 145,446.5 145.1,450.5 145.3,449 145.5,447.3 145.7,447.9 145.9,457.7 146,451.4 146.2,452.6 146.4,452 146.6,453.5 146.8,452.4 146.9,452.5 147.1,450.8 147.3,450.4 147.5,452.4 147.7,455.4 147.8,460.2 148,457.3 148.2,460.2 148.4,456.9 148.6,456 148.7,452.9 148.9,457.1 149.1,452 149.3,457.3 149.5,463 149.6,460.2 149.8,462.4 150,459 150.2,456.4 150.4,459.5 150.5,460.2 150.7,465.2 150.9,467.2 151.1,460.8 151.3,461.5 151.4,462 151.6,461.8 151.8,460.1 152,463.2 152.2,463.4 152.3,463.6 152.5,459.9 152.7,462.4 152.9,460.2 153.1,468.1 153.2,463.8 153.4,466.6 153.6,466.8 153.8,468 154,466.5 154.1,465 154.3,474.7 154.5,470.3 154.7,471.1 154.9,475.6 155,470 155.2,472.4 155.4,471.1 155.6,475.3 155.8,474.6 155.9,475.3 156.1,474.4 156.3,472.5 156.5,468 156.7,464" fill="none" stroke="#d01010" stroke-width="1.55" stroke-linejoin="round" />
<defs><linearGradient id="gL" x1="0" y1="0" x2="0" y2="1"><stop offset="0" stop-color="#b9b9be"/><stop offset="0.7" stop-color="#b4b4b2"/><stop offset="0.78" stop-color="#a2a2a0"/><stop offset="1" stop-color="#a6a6a2"/></linearGradient><linearGradient id="gG" x1="0" y1="0" x2="0" y2="1"><stop offset="0" stop-color="#4ad2a0"/><stop offset="0.12" stop-color="#3cb690"/><stop offset="0.45" stop-color="#35a286"/><stop offset="0.72" stop-color="#2f8e80"/><stop offset="0.86" stop-color="#2a7474"/><stop offset="1" stop-color="#28566a"/></linearGradient><filter id="ph" x="-5%" y="-5%" width="110%" height="110%"><feGaussianBlur stdDeviation="0.55"/></filter></defs>
<g filter="url(#ph)">
<rect x="170.3" y="394" width="21.6" height="67.6" fill="url(#gL)"/>
<rect x="170.3" y="394" width="3" height="67.6" fill="#9c9c9e"/>
<rect x="173.8" y="396" width="16.6" height="65" fill="#d9d9d6"/>
<rect x="175.3" y="397" width="13" height="10" fill="#e2e2e6"/>
<rect x="175.3" y="407.2" width="12.9" height="40" fill="#cdccb4"/>
<rect x="175.3" y="430" width="12.9" height="17" fill="#cfcfbc"/>
<path d="M175.2 405.8 Q181.7 409.6 188.2 405.6 L188.2 407.4 Q181.7 411.2 175.2 407.6 Z" fill="#9a7a2a"/>
<rect x="174.6" y="447.2" width="13" height="8" fill="#86846e"/>
<rect x="171.2" y="438" width="1.1" height="4" fill="#c89060"/>
<rect x="171.2" y="442" width="1.1" height="3.5" fill="#50a898"/>
<rect x="191.7" y="394" width="23" height="67.6" fill="#4a1a46"/>
<rect x="191.7" y="442" width="23" height="19.6" fill="#2e1a3c"/>
<rect x="195.9" y="398.3" width="15.6" height="60.8" fill="#4c2450" stroke="#3a7e88" stroke-width="0.7"/>
<rect x="196.6" y="405.5" width="14.2" height="53" fill="url(#gG)"/>
<ellipse cx="203.8" cy="402.9" rx="6.3" ry="4.0" fill="#5e2448"/>
</g>
<rect x="48.2" y="387" width="173.8" height="128" fill="none" stroke="#2a2a2a" stroke-width="1.1"/>
<line x1="70" y1="515" x2="70" y2="518" stroke="#2a2a2a" stroke-width="1"/>
<text x="70" y="525.6" font-family='"Liberation Sans", sans-serif' font-size="8.0" font-weight="bold" fill="#1a1a1a" text-anchor="middle"  id="t52" stroke="#1a1a1a" stroke-width="0.28">400</text>
<line x1="113.5" y1="515" x2="113.5" y2="518" stroke="#2a2a2a" stroke-width="1"/>
<text x="113.5" y="525.6" font-family='"Liberation Sans", sans-serif' font-size="8.0" font-weight="bold" fill="#1a1a1a" text-anchor="middle"  id="t53" stroke="#1a1a1a" stroke-width="0.28">500</text>
<line x1="156.9" y1="515" x2="156.9" y2="518" stroke="#2a2a2a" stroke-width="1"/>
<text x="156.9" y="525.6" font-family='"Liberation Sans", sans-serif' font-size="8.0" font-weight="bold" fill="#1a1a1a" text-anchor="middle"  id="t54" stroke="#1a1a1a" stroke-width="0.28">600</text>
<line x1="200.3" y1="515" x2="200.3" y2="518" stroke="#2a2a2a" stroke-width="1"/>
<text x="200.3" y="525.6" font-family='"Liberation Sans", sans-serif' font-size="8.0" font-weight="bold" fill="#1a1a1a" text-anchor="middle"  id="t55" stroke="#1a1a1a" stroke-width="0.28">700</text>
<line x1="48.3" y1="515" x2="48.3" y2="516.6" stroke="#2a2a2a" stroke-width="0.9"/>
<line x1="91.7" y1="515" x2="91.7" y2="516.6" stroke="#2a2a2a" stroke-width="0.9"/>
<line x1="135.2" y1="515" x2="135.2" y2="516.6" stroke="#2a2a2a" stroke-width="0.9"/>
<line x1="178.6" y1="515" x2="178.6" y2="516.6" stroke="#2a2a2a" stroke-width="0.9"/>
<line x1="222.1" y1="515" x2="222.1" y2="516.6" stroke="#2a2a2a" stroke-width="0.9"/>
<line x1="45.2" y1="515" x2="48.2" y2="515" stroke="#2a2a2a" stroke-width="1"/>
<text x="44.4" y="518" font-family='"Liberation Sans", sans-serif' font-size="8.2" font-weight="bold" fill="#1a1a1a" text-anchor="end"  id="t56" stroke="#1a1a1a" stroke-width="0.28">0.0</text>
<line x1="45.2" y1="495.3" x2="48.2" y2="495.3" stroke="#2a2a2a" stroke-width="1"/>
<text x="44.4" y="498.3" font-family='"Liberation Sans", sans-serif' font-size="8.2" font-weight="bold" fill="#1a1a1a" text-anchor="end"  id="t57" stroke="#1a1a1a" stroke-width="0.28">0.2</text>
<line x1="45.2" y1="475.6" x2="48.2" y2="475.6" stroke="#2a2a2a" stroke-width="1"/>
<text x="44.4" y="478.6" font-family='"Liberation Sans", sans-serif' font-size="8.2" font-weight="bold" fill="#1a1a1a" text-anchor="end"  id="t58" stroke="#1a1a1a" stroke-width="0.28">0.4</text>
<line x1="45.2" y1="455.9" x2="48.2" y2="455.9" stroke="#2a2a2a" stroke-width="1"/>
<text x="44.4" y="458.9" font-family='"Liberation Sans", sans-serif' font-size="8.2" font-weight="bold" fill="#1a1a1a" text-anchor="end"  id="t59" stroke="#1a1a1a" stroke-width="0.28">0.6</text>
<line x1="45.2" y1="436.2" x2="48.2" y2="436.2" stroke="#2a2a2a" stroke-width="1"/>
<text x="44.4" y="439.2" font-family='"Liberation Sans", sans-serif' font-size="8.2" font-weight="bold" fill="#1a1a1a" text-anchor="end"  id="t60" stroke="#1a1a1a" stroke-width="0.28">0.8</text>
<line x1="45.2" y1="416.5" x2="48.2" y2="416.5" stroke="#2a2a2a" stroke-width="1"/>
<text x="44.4" y="419.5" font-family='"Liberation Sans", sans-serif' font-size="8.2" font-weight="bold" fill="#1a1a1a" text-anchor="end"  id="t61" stroke="#1a1a1a" stroke-width="0.28">1.0</text>
<line x1="45.2" y1="396.8" x2="48.2" y2="396.8" stroke="#2a2a2a" stroke-width="1"/>
<text x="44.4" y="399.8" font-family='"Liberation Sans", sans-serif' font-size="8.2" font-weight="bold" fill="#1a1a1a" text-anchor="end"  id="t62" stroke="#1a1a1a" stroke-width="0.28">1.2</text>
<line x1="46.6" y1="505.1" x2="48.2" y2="505.1" stroke="#2a2a2a" stroke-width="0.9"/>
<line x1="46.6" y1="485.4" x2="48.2" y2="485.4" stroke="#2a2a2a" stroke-width="0.9"/>
<line x1="46.6" y1="465.8" x2="48.2" y2="465.8" stroke="#2a2a2a" stroke-width="0.9"/>
<line x1="46.6" y1="446.1" x2="48.2" y2="446.1" stroke="#2a2a2a" stroke-width="0.9"/>
<line x1="46.6" y1="426.4" x2="48.2" y2="426.4" stroke="#2a2a2a" stroke-width="0.9"/>
<line x1="46.6" y1="406.6" x2="48.2" y2="406.6" stroke="#2a2a2a" stroke-width="0.9"/>
<line x1="46.6" y1="386.9" x2="48.2" y2="386.9" stroke="#2a2a2a" stroke-width="0.9"/>
<text x="135" y="542" font-family='"Liberation Sans", sans-serif' font-size="10.5" font-weight="bold" fill="#1a1a1a" text-anchor="middle"  id="t63" stroke="#1a1a1a" stroke-width="0.28">Wavelength (nm)</text>
<text x="22.2" y="452.8" font-family='"Liberation Sans", sans-serif' font-size="10.5" font-weight="bold" fill="#1a1a1a" text-anchor="middle" transform="rotate(-90 22.2 452.8)"  id="t64" stroke="#1a1a1a" stroke-width="0.28">Absorbence (a.u.)</text>
<text x="235" y="454" font-family='"Liberation Sans", sans-serif' font-size="10.5" font-weight="bold" fill="#1a1a1a" text-anchor="middle" transform="rotate(-90 235 454)"  id="t65" stroke="#1a1a1a" stroke-width="0.28">Fluorescence intensity</text>
<text x="10.6" y="403.4" font-family='"Liberation Sans", sans-serif' font-size="25" font-weight="bold" fill="#000" text-anchor="middle"  id="t66">e</text>
<clipPath id="cf"><rect x="314.4" y="387.5" width="173.8" height="129.1"/></clipPath>
<g clip-path="url(#cf)">
<polyline points="348,506.1 348.4,506.2 348.7,506.3 349.1,506.5 349.4,506.1 349.8,506.7 350.1,509.8 350.5,506.6 350.8,504.4 351.2,504.6 351.5,504.8 351.9,505.5 352.2,505.7 352.6,504.5 352.9,505.1 353.3,504.8 353.6,505.5 353.9,504.3 354.3,505.3 354.6,504.7 355,505.7 355.3,504.9 355.7,504.1 356,504.6 356.4,504.4 356.7,503.5 357.1,503.9 357.4,502.9 357.8,505.1 358.1,503 358.5,502.9 358.8,504 359.2,503.7 359.5,502.1 359.9,503.2 360.2,502.7 360.6,501.7 360.9,502.1 361.3,501.3 361.6,502 362,500.9 362.3,500.2 362.7,500.4 363,501.9 363.4,499.7 363.7,499.8 364.1,500.2 364.4,498.3 364.8,500.2 365.1,497.3 365.5,498.8 365.8,496.9 366.1,497.7 366.5,498.4 366.8,497 367.2,496.5 367.5,496 367.9,495.2 368.2,496.4 368.6,495 368.9,494.4 369.3,494.8 369.6,495 370,494.7 370.3,493 370.7,492.6 371,493.5 371.4,493.5 371.7,491.2 372.1,493 372.4,491.3 372.8,491.7 373.1,492.2 373.5,490.3 373.8,490.2 374.2,488.6 374.5,487.6 374.9,489.3 375.2,488 375.6,487.7 375.9,488.7 376.3,488.7 376.6,486.4 377,487.8 377.3,487.2 377.6,487.2 378,486.9 378.3,487.1 378.7,490.9 379,485.1 379.4,486.3 379.7,487 380.1,485.7 380.4,486.9 380.8,486.1 381.1,484.4 381.5,483.4 381.8,485 382.2,486.2 382.5,484.6 382.9,487.1 383.2,485.8 383.6,483.9 383.9,484.6 384.3,486.4 384.6,486.7 385,484.5 385.3,485.3 385.7,485.8 386,485 386.4,485.8 386.7,487 387.1,484.7 387.4,486 387.8,486.3 388.1,486.7 388.5,485.4 388.8,486.3 389.1,485.1 389.5,485.9 389.8,484.9 390.2,486.2 390.5,486.4 390.9,487.6 391.2,486.9 391.6,485.5 391.9,483.6 392.3,487.3 392.6,487.2 393,486.1 393.3,486 393.7,487.1 394,486.5 394.4,488 394.7,487 395.1,486.1 395.4,485.6 395.8,487.2 396.1,487.4 396.5,486.9 396.8,486.4 397.2,487 397.5,488.2 397.9,487.4 398.2,487 398.6,488.5 398.9,489.1 399.3,487.7 399.6,487.9 400,487.5 400.3,488.4 400.6,489.1 401,489 401.3,489.6 401.7,489.7 402,489.5 402.4,489.6 402.7,488.4 403.1,490.4 403.4,489.6 403.8,490.2 404.1,488.6 404.5,489.8 404.8,490.4 405.2,489.6 405.5,490.3 405.9,490.9 406.2,489.4 406.6,490.2 406.9,489.6 407.3,490.2 407.6,490.6 408,491.3 408.3,492.4 408.7,491.7 409,491.7 409.4,491.4 409.7,492.1 410.1,492.8 410.4,493.2 410.8,492 411.1,491.7 411.5,493 411.8,492.6 412.1,492 412.5,493.9 412.8,493.7 413.2,494.4 413.5,492.8 413.9,493.7 414.2,494.4 414.6,495.4 414.9,494.4 415.3,493.7 415.6,494.8 416,495.1 416.3,494.4 416.7,496 417,495.1 417.4,494.9 417.7,496 418.1,496.2 418.4,495.6 418.8,496 419.1,496.2 419.5,496 419.8,496.2 420.2,497.1 420.5,497.1 420.9,496.4 421.2,496.1 421.6,496 421.9,497.8 422.3,496.5 422.6,496.9 423,497.6 423.3,497.3 423.6,497.2 424,496.7 424.3,498.9 424.7,497.8 425,498.5 425.4,498.6 425.7,497.8 426.1,498.2 426.4,499.6 426.8,499.2 427.1,498.9 427.5,500.2 427.8,498.7 428.2,499.5 428.5,499.5 428.9,499.5 429.2,498.6 429.6,499.9 429.9,500.3 430.3,499 430.6,500.6 431,500.7 431.3,501.4 431.7,499.9 432,500.5 432.4,500.5 432.7,500.8 433.1,501.1 433.4,501.7 433.8,501.8 434.1,501 434.5,501.3 434.8,500.4 435.1,502.1" fill="none" stroke="#0a0a0a" stroke-width="2.15" stroke-linejoin="round" />
<polyline points="351.5,505.2 351.9,503.8 352.2,504.8 352.6,505.9 352.9,505.3 353.3,504 353.6,505.7 353.9,504.7 354.3,504.7 354.6,502.9 355,504.4 355.3,503.2 355.7,504.4 356,504.3 356.4,502.9 356.7,503 357.1,504.4 357.4,502.6 357.8,502.3 358.1,503 358.5,502.2 358.8,501.9 359.2,502.2 359.5,502 359.9,501.8 360.2,501.2 360.6,501.7 360.9,500.5 361.3,501.3 361.6,499.7 362,499.5 362.3,499.9 362.7,498 363,496.8 363.4,496.9 363.7,498.6 364.1,496.1 364.4,496.5 364.8,496.3 365.1,496.3 365.5,495.3 365.8,493.7 366.1,493.9 366.5,494.2 366.8,493.9 367.2,493.2 367.5,491.8 367.9,490.1 368.2,492.2 368.6,490.6 368.9,490.4 369.3,490.2 369.6,488.6 370,487.8 370.3,489.1 370.7,488.1 371,485.4 371.4,485.7 371.7,484.9 372.1,485.3 372.4,484.5 372.8,483.1 373.1,483.5 373.5,483.5 373.8,481.8 374.2,480.3 374.5,481.7 374.9,479 375.2,478.8 375.6,479.8 375.9,478.4 376.3,477.9 376.6,476.7 377,476.1 377.3,477.7 377.6,477.3 378,474.3 378.3,474.8 378.7,474.1 379,473.7 379.4,472.1 379.7,474.6 380.1,471.8 380.4,473.5 380.8,471.6 381.1,470.6 381.5,473.3 381.8,471.2 382.2,471.7 382.5,471.5 382.9,471 383.2,472.1 383.6,471.9 383.9,470.1 384.3,469.8 384.6,471.4 385,472.3 385.3,468.2 385.7,469.6 386,470.4 386.4,471.9 386.7,471.5 387.1,470.6 387.4,472 387.8,469.2 388.1,470.9 388.5,470.7 388.8,472.3 389.1,472.3 389.5,472.2 389.8,471.2 390.2,471.8 390.5,472 390.9,471.4 391.2,471.6 391.6,470.4 391.9,472.4 392.3,473.4 392.6,472.4 393,471 393.3,473.3 393.7,472.8 394,473.4 394.4,472.8 394.7,473.1 395.1,474.4 395.4,474 395.8,472.9 396.1,473 396.5,473.3 396.8,473.6 397.2,475.1 397.5,475.3 397.9,474.2 398.2,476.6 398.6,475.6 398.9,477.7 399.3,476.4 399.6,477 400,477.8 400.3,476.2 400.6,477.8 401,477.6 401.3,477.8 401.7,478.5 402,476.6 402.4,478.8 402.7,478.3 403.1,480.1 403.4,479.6 403.8,479.7 404.1,479.9 404.5,480.5 404.8,480 405.2,478.9 405.5,480.9 405.9,481.2 406.2,481.7 406.6,479.1 406.9,480.3 407.3,481.6 407.6,481.8 408,483.4 408.3,483.2 408.7,483.1 409,483.5 409.4,484.7 409.7,484.9 410.1,484 410.4,484.5 410.8,487.1 411.1,485.3 411.5,484.4 411.8,486.6 412.1,486 412.5,487.9 412.8,486 413.2,488.1 413.5,488.6 413.9,488 414.2,485.8 414.6,488.8 414.9,489.7 415.3,488.4 415.6,488.9 416,487.9 416.3,490.8 416.7,491.4 417,490.5 417.4,490.2 417.7,490.4 418.1,490.1 418.4,494.9 418.8,492.3 419.1,492 419.5,491.4 419.8,494.3 420.2,493 420.5,493.8 420.9,492.4 421.2,492.6 421.6,491.3 421.9,494 422.3,492.7 422.6,495.4 423,495.1 423.3,495.4 423.6,495.5 424,496 424.3,496 424.7,495.8 425,496.3 425.4,495.7 425.7,496.5 426.1,496.6 426.4,495.6 426.8,496.8 427.1,497.1 427.5,497.5 427.8,497.6 428.2,497.4 428.5,498.7 428.9,497.3 429.2,497.2 429.6,497.7 429.9,499.2 430.3,500.2 430.6,499.5 431,499.2 431.3,498.9 431.7,499.8 432,500.1 432.4,498.8 432.7,500.7 433.1,499.5 433.4,499.8 433.8,501.6 434.1,500.6 434.5,501.3 434.8,501.7 435.1,502.5 435.5,502.5 435.8,501.2 436.2,501.9 436.5,501.5 436.9,502.6 437.2,502.2 437.6,502.3 437.9,503.3 438.3,503.5 438.6,502.1 439,502.4 439.3,503.3 439.7,502.8 440,502.4 440.4,501.7 440.7,503.7 441.1,502.7 441.4,501.8 441.8,503.3 442.1,502.4 442.5,505.3 442.8,502.6 443.2,503.7 443.5,505.1 443.9,503.3 444.2,503.2 444.6,503.2 444.9,503.3 445.3,504.2 445.6,504.7 446,504.6 446.3,504.4 446.7,504.2 447,504.8 447.3,504.5 447.7,504 448,504.5 448.4,503.2 448.7,503.4 449.1,505.6" fill="none" stroke="#e01414" stroke-width="2.15" stroke-linejoin="round" />
<polyline points="355,504.2 355.3,508.1 355.7,503.4 356,504.7 356.4,502.7 356.7,504.1 357.1,503 357.4,501 357.8,502.7 358.1,501.2 358.5,502.5 358.8,501.5 359.2,501.6 359.5,501.1 359.9,501.8 360.2,501.5 360.6,500.1 360.9,501.3 361.3,500.4 361.6,498.8 362,499.4 362.3,499.2 362.7,499 363,497.5 363.4,497.5 363.7,496.5 364.1,496.3 364.4,494 364.8,495.5 365.1,496.3 365.5,493.9 365.8,493.4 366.1,492.6 366.5,493.7 366.8,490.4 367.2,490.9 367.5,490.2 367.9,491.1 368.2,488.3 368.6,488.2 368.9,486 369.3,487.1 369.6,487.2 370,485 370.3,485.3 370.7,483.1 371,483.9 371.4,482.1 371.7,481.3 372.1,480.3 372.4,480 372.8,479.5 373.1,477.8 373.5,477.6 373.8,475.9 374.2,475.5 374.5,477 374.9,473.6 375.2,471.1 375.6,471.5 375.9,470.3 376.3,469.7 376.6,470 377,470.3 377.3,466.9 377.6,471.3 378,465.6 378.3,465.1 378.7,464.4 379,464.2 379.4,463.2 379.7,462.9 380.1,461.8 380.4,462.8 380.8,461.9 381.1,459.8 381.5,460.8 381.8,462.6 382.2,458.9 382.5,461.6 382.9,455.8 383.2,457 383.6,456.7 383.9,458.2 384.3,458.5 384.6,457.1 385,456.6 385.3,457.5 385.7,456.2 386,455.5 386.4,455.6 386.7,457.7 387.1,459.2 387.4,456.4 387.8,457.3 388.1,455.9 388.5,454.4 388.8,454.4 389.1,456.2 389.5,455.2 389.8,454.6 390.2,456.8 390.5,456.6 390.9,455.9 391.2,457.2 391.6,457.9 391.9,458.4 392.3,457.5 392.6,458.5 393,456.8 393.3,458.4 393.7,456.2 394,456.7 394.4,460.1 394.7,457.3 395.1,459.4 395.4,457.3 395.8,458.6 396.1,459.5 396.5,458.8 396.8,460.6 397.2,459.7 397.5,459.9 397.9,460.8 398.2,460.4 398.6,462.4 398.9,460.7 399.3,463.2 399.6,461.2 400,461.6 400.3,461.6 400.6,463.5 401,459.3 401.3,463.7 401.7,463.5 402,464.9 402.4,462.6 402.7,465.2 403.1,463.7 403.4,466.4 403.8,465.2 404.1,466.4 404.5,465.2 404.8,467 405.2,468 405.5,466.8 405.9,469.1 406.2,469.2 406.6,467.5 406.9,471 407.3,468.2 407.6,470 408,471 408.3,470 408.7,469.9 409,471.7 409.4,471.6 409.7,470.8 410.1,471.3 410.4,472.6 410.8,473.8 411.1,474.4 411.5,474.4 411.8,473.3 412.1,473.8 412.5,474.5 412.8,473.7 413.2,476 413.5,476.4 413.9,476.8 414.2,474.7 414.6,479.4 414.9,480.2 415.3,477.5 415.6,478.3 416,476.2 416.3,477.9 416.7,478.7 417,480.8 417.4,479.7 417.7,481 418.1,481 418.4,481.2 418.8,482.3 419.1,481.5 419.5,480.8 419.8,481.8 420.2,483 420.5,485.6 420.9,482.9 421.2,483.3 421.6,484.9 421.9,485.6 422.3,484.8 422.6,486.6 423,485.3 423.3,487.6 423.6,487.7 424,487.2 424.3,488.9 424.7,487.8 425,487.7 425.4,489.8 425.7,488 426.1,489.7 426.4,489 426.8,489.6 427.1,490.6 427.5,490.9 427.8,492.3 428.2,491.7 428.5,492.1 428.9,490.1 429.2,491 429.6,493.5 429.9,491.8 430.3,492.6 430.6,493.4 431,492.9 431.3,492.9 431.7,494.4 432,494.4 432.4,494.3 432.7,495.5 433.1,494.8 433.4,495.3 433.8,496 434.1,496.4 434.5,495.7 434.8,495.4 435.1,496.1 435.5,497.3 435.8,496.2 436.2,496.9 436.5,496.8 436.9,496.5 437.2,498.4 437.6,498 437.9,498.6 438.3,499 438.6,496.9 439,497.9 439.3,500.3 439.7,498.7 440,499.7 440.4,498.5 440.7,499.5 441.1,499.9 441.4,499.8 441.8,501.1 442.1,500.3 442.5,500.6 442.8,500.7 443.2,500.4 443.5,501.8 443.9,501 444.2,501.3 444.6,501.7 444.9,500.9 445.3,502.6 445.6,502 446,502.5 446.3,501.6 446.7,507.7 447,502.2 447.3,502.1 447.7,503.6 448,502.2 448.4,503.2 448.7,503 449.1,503 449.4,502.4 449.8,502.6 450.1,501.9 450.5,503.2 450.8,503.7 451.2,503.8 451.5,503.1 451.9,502.5 452.2,503.5 452.6,504.2 452.9,503.7 453.3,503.8 453.6,504 454,504.6 454.3,506 454.7,504.6 455,503.6 455.4,504.3 455.7,506 456.1,504.5 456.4,505.9 456.8,503.3 457.1,504.6 457.5,505.6 457.8,504.3 458.2,505.4 458.5,504.5 458.8,505 459.2,505.8 459.5,504.6 459.9,506 460.2,504.3 460.6,505.2 460.9,505.9 461.3,506.5 461.6,504.2 462,504.4 462.3,506.2 462.7,504.3 463,505.3 463.4,505.6 463.7,505.6 464.1,505.7 464.4,504.6 464.8,505.5 465.1,506.9 465.5,504.3 465.8,505.1 466.2,506.4 466.5,506 466.9,506.4 467.2,505.8 467.6,505.6 467.9,505.7 468.3,506.3 468.6,506.4 469,505.4 469.3,506 469.7,504.5 470,506.5" fill="none" stroke="#1414dc" stroke-width="2.15" stroke-linejoin="round" />
<polyline points="358.5,503 358.8,501.5 359.2,500.3 359.5,501.6 359.9,502.4 360.2,500.3 360.6,500.6 360.9,497.9 361.3,499.3 361.6,498.8 362,500.5 362.3,497.6 362.7,497.9 363,497.7 363.4,496.3 363.7,496.5 364.1,493.8 364.4,495.7 364.8,493.9 365.1,493.9 365.5,493.9 365.8,490 366.1,498.4 366.5,488.7 366.8,491 367.2,488.6 367.5,485.3 367.9,489.4 368.2,487.7 368.6,483.7 368.9,484.1 369.3,484 369.6,482.4 370,482.5 370.3,480.2 370.7,477.5 371,478.8 371.4,477 371.7,474.6 372.1,472.5 372.4,475 372.8,472.4 373.1,472.4 373.5,471.4 373.8,470 374.2,469.1 374.5,469.5 374.9,468.7 375.2,465.8 375.6,463.5 375.9,460.8 376.3,462.1 376.6,460.5 377,458.2 377.3,456.9 377.6,457.1 378,455.9 378.3,452 378.7,454.2 379,453.4 379.4,454.1 379.7,450.1 380.1,450.2 380.4,446 380.8,448.5 381.1,445.9 381.5,444.9 381.8,443 382.2,446.9 382.5,441.7 382.9,443.5 383.2,443.1 383.6,442.9 383.9,442.6 384.3,442 384.6,444.8 385,439.9 385.3,440.3 385.7,441.7 386,440.1 386.4,436.2 386.7,439.2 387.1,440.4 387.4,437 387.8,441.1 388.1,440.1 388.5,440.8 388.8,440.3 389.1,438.8 389.5,439.2 389.8,441.4 390.2,440.5 390.5,440.3 390.9,441.2 391.2,440.8 391.6,442 391.9,442.2 392.3,441.2 392.6,443.1 393,441 393.3,442.2 393.7,443.6 394,443.4 394.4,443.4 394.7,443.2 395.1,443.1 395.4,443.9 395.8,445.2 396.1,442 396.5,443.1 396.8,444.7 397.2,443.8 397.5,445.1 397.9,446.4 398.2,446.2 398.6,442.7 398.9,445.7 399.3,446 399.6,448.6 400,447.5 400.3,445.5 400.6,448.7 401,448.2 401.3,448.4 401.7,449.8 402,448.9 402.4,451.4 402.7,451.5 403.1,453.6 403.4,449.3 403.8,453.3 404.1,454.1 404.5,452.7 404.8,456 405.2,455.8 405.5,457.5 405.9,456.9 406.2,458 406.6,457.2 406.9,458.7 407.3,460 407.6,460.1 408,460.4 408.3,461.5 408.7,460.1 409,461 409.4,462.3 409.7,464.7 410.1,463 410.4,466 410.8,464.6 411.1,465.3 411.5,466.8 411.8,467.7 412.1,468.1 412.5,465 412.8,468.6 413.2,469.1 413.5,468.2 413.9,469.5 414.2,469.2 414.6,472.7 414.9,473.1 415.3,468 415.6,472.9 416,473.8 416.3,473.8 416.7,473.3 417,476.6 417.4,475.3 417.7,476.2 418.1,475.9 418.4,477 418.8,478.4 419.1,479.3 419.5,481.8 419.8,478.2 420.2,481.6 420.5,480.8 420.9,478.9 421.2,481.9 421.6,481.2 421.9,482.6 422.3,482 422.6,483.3 423,484.4 423.3,482.7 423.6,485.1 424,486.7 424.3,486 424.7,485.5 425,487.8 425.4,486.1 425.7,490.6 426.1,485.5 426.4,489 426.8,488 427.1,490.9 427.5,489.9 427.8,489.8 428.2,489.9 428.5,490.7 428.9,491.1 429.2,492.1 429.6,492.2 429.9,491.8 430.3,491.9 430.6,492.2 431,492.2 431.3,492.3 431.7,495.7 432,494.7 432.4,494.7 432.7,495.4 433.1,494.1 433.4,494.7 433.8,495.8 434.1,495.9 434.5,495.1 434.8,496.9 435.1,497.1 435.5,496.3 435.8,496.9 436.2,496.3 436.5,497.5 436.9,497.4 437.2,498.8 437.6,499.4 437.9,498.8 438.3,501.4 438.6,498.9 439,498.6 439.3,499.6 439.7,500.1 440,499.1 440.4,500.3 440.7,499.6 441.1,498.7 441.4,500.2 441.8,500.2 442.1,500.7 442.5,501.1 442.8,501.3 443.2,501.6 443.5,500.9 443.9,503.3 444.2,502.3 444.6,501.7 444.9,503.1 445.3,502.6 445.6,503.2 446,502.4 446.3,502.2 446.7,501.8 447,502.7 447.3,503.8 447.7,503.1 448,503 448.4,502.4 448.7,505.3 449.1,503.5 449.4,505.3 449.8,503.4 450.1,503.7 450.5,503.7 450.8,503.5 451.2,504 451.5,504.8 451.9,504.2 452.2,503.6 452.6,504.7 452.9,504.6 453.3,505.6 453.6,503.9 454,505.2 454.3,505.4 454.7,505.3 455,505.6 455.4,505.2 455.7,504.2 456.1,504.6 456.4,504.2 456.8,504.2 457.1,506 457.5,505 457.8,504.3 458.2,503.7 458.5,506.5 458.8,506.5 459.2,505.2 459.5,505.8 459.9,506.3 460.2,505.4 460.6,506.2 460.9,507.3 461.3,505.7 461.6,505.7 462,505.3 462.3,505.1 462.7,505.7 463,506 463.4,506.4 463.7,507.1 464.1,506.2 464.4,505.2 464.8,505.5 465.1,504.5 465.5,506.1 465.8,507.3 466.2,505.4 466.5,505.3 466.9,506.9 467.2,507.2 467.6,506 467.9,505.6 468.3,506.9 468.6,506.4 469,506.7 469.3,507 469.7,507.1 470,506.1 470.3,506.5 470.7,506.7 471,508.1 471.4,505 471.7,506.9 472.1,506.3 472.4,507 472.8,506 473.1,507.3 473.5,506.2 473.8,506.4 474.2,505.6 474.5,507.1 474.9,506.7 475.2,506.5 475.6,504.8 475.9,507.3 476.3,506.1 476.6,506.8 477,506.1 477.3,505.9 477.7,506.2 478,506.1 478.4,506.1 478.7,506.7 479.1,506.5 479.4,507.5 479.8,506.6 480.1,506.9 480.5,506.5 480.8,505.8 481.2,506.1 481.5,506 481.8,505.6 482.2,508 482.5,506.1 482.9,506.4 483.2,506.4 483.6,507.3 483.9,506 484.3,505.6 484.6,505.6 485,506.4 485.3,505.9 485.7,505.7 486,505.1 486.4,505.5 486.7,506.3 487.1,506.3 487.4,506.3" fill="none" stroke="#14aeb0" stroke-width="2.15" stroke-linejoin="round" />
<polyline points="362,497.9 362.3,498.2 362.7,496.9 363,497 363.4,496.2 363.7,497.1 364.1,496.2 364.4,496.5 364.8,494.7 365.1,493.9 365.5,492 365.8,493.6 366.1,487.6 366.5,490.7 366.8,488.1 367.2,487.5 367.5,490.9 367.9,487.2 368.2,484 368.6,487.9 368.9,482.8 369.3,483.8 369.6,482.1 370,480.1 370.3,481.7 370.7,477.7 371,477.6 371.4,476.5 371.7,473.1 372.1,467.8 372.4,471 372.8,469.3 373.1,468.8 373.5,468.4 373.8,465.5 374.2,462.1 374.5,462.7 374.9,460.1 375.2,460.4 375.6,454.5 375.9,459.7 376.3,454.6 376.6,453.1 377,452.1 377.3,452.9 377.6,451.5 378,448.5 378.3,446.5 378.7,447.3 379,445.7 379.4,441.4 379.7,439.2 380.1,440.7 380.4,439.6 380.8,438.4 381.1,431.3 381.5,433.7 381.8,433.6 382.2,430.5 382.5,427 382.9,428.1 383.2,432 383.6,428.6 383.9,428.4 384.3,427.5 384.6,428.4 385,426.2 385.3,426.9 385.7,423.6 386,423.7 386.4,426.2 386.7,426.4 387.1,423.8 387.4,421.4 387.8,421.6 388.1,422.6 388.5,429 388.8,423.5 389.1,424 389.5,423.3 389.8,425.1 390.2,423.7 390.5,424.3 390.9,417.8 391.2,421.9 391.6,423.8 391.9,423.7 392.3,424 392.6,423.7 393,425.1 393.3,427.3 393.7,422.8 394,423.5 394.4,424.8 394.7,423.2 395.1,425.6 395.4,428.3 395.8,430.1 396.1,428.5 396.5,427.7 396.8,427.2 397.2,426.4 397.5,430 397.9,430.9 398.2,428.4 398.6,428.1 398.9,431.7 399.3,430.7 399.6,429.3 400,431.8 400.3,433 400.6,437.4 401,431.6 401.3,433.5 401.7,435 402,436.7 402.4,438.8 402.7,437.3 403.1,437.9 403.4,436.4 403.8,441.2 404.1,437.1 404.5,440.3 404.8,438.9 405.2,443.4 405.5,441.8 405.9,440.9 406.2,443.6 406.6,447.1 406.9,445.8 407.3,445 407.6,449.1 408,449.9 408.3,447.7 408.7,450.5 409,448.4 409.4,452.3 409.7,454.2 410.1,453.1 410.4,450.1 410.8,454.7 411.1,454.1 411.5,454.4 411.8,457.1 412.1,454.5 412.5,456.8 412.8,457.1 413.2,461.2 413.5,462.1 413.9,464.4 414.2,461.1 414.6,461.9 414.9,461.1 415.3,460.7 415.6,464.1 416,464.8 416.3,464.5 416.7,463.5 417,467.8 417.4,466.4 417.7,468.4 418.1,469.2 418.4,468.2 418.8,471.3 419.1,472.4 419.5,470.5 419.8,472.2 420.2,473.2 420.5,473.7 420.9,473.5 421.2,475.3 421.6,474.4 421.9,475.5 422.3,474.7 422.6,475.6 423,476.8 423.3,478.9 423.6,479 424,480.6 424.3,476.6 424.7,481.3 425,480.8 425.4,480.3 425.7,484.4 426.1,484.3 426.4,484.3 426.8,485.6 427.1,486.4 427.5,486 427.8,484.2 428.2,485.4 428.5,486.8 428.9,487.3 429.2,489.9 429.6,487.4 429.9,488.2 430.3,490.5 430.6,489.4 431,490.3 431.3,491.1 431.7,492.1 432,492.1 432.4,492.9 432.7,491.6 433.1,492.1 433.4,492.6 433.8,493.5 434.1,494.1 434.5,491.8 434.8,496.5 435.1,493.4 435.5,494.7 435.8,495.3 436.2,496.3 436.5,496.3 436.9,497.6 437.2,498.3 437.6,497.1 437.9,499 438.3,496.6 438.6,496.6 439,501.6 439.3,499.9 439.7,498.3 440,498.6 440.4,498.9 440.7,498.9 441.1,498.8 441.4,498.9 441.8,498.2 442.1,500.2 442.5,499.5 442.8,502.2 443.2,500.9 443.5,502.1 443.9,499.8 444.2,499.1 444.6,501 444.9,502.9 445.3,501.9 445.6,502 446,502 446.3,501.3 446.7,501.6 447,505 447.3,501.5 447.7,503.3 448,503.5 448.4,501.8 448.7,503.5 449.1,504.6 449.4,504.7 449.8,503.5 450.1,502.9 450.5,502.5 450.8,504 451.2,504.4 451.5,502.7 451.9,504.6 452.2,503 452.6,504.1 452.9,504.2 453.3,504.7 453.6,504.3 454,505.1 454.3,505.3 454.7,504.9 455,505.4 455.4,504.7 455.7,504.9 456.1,505.3 456.4,505.3 456.8,505.3 457.1,503.7 457.5,505.3 457.8,505.8 458.2,505.6 458.5,504.8 458.8,505.6 459.2,505.6 459.5,505.7 459.9,505.4 460.2,505.3 460.6,505.3 460.9,507 461.3,506.6 461.6,507.9 462,505.1 462.3,504.9 462.7,504.8 463,505.7 463.4,504.9 463.7,505.9 464.1,506 464.4,507.2 464.8,506.6 465.1,506.5 465.5,505.3 465.8,504.7 466.2,506.4 466.5,505.8 466.9,505.9 467.2,506.7 467.6,507.5 467.9,506.7 468.3,507.3 468.6,506.4 469,506.3 469.3,506.3 469.7,506.3 470,505.8 470.3,507 470.7,505.5 471,507.6 471.4,506.2 471.7,505.9 472.1,506.9 472.4,507.6 472.8,505.8 473.1,506.8 473.5,505.7 473.8,505.7 474.2,506.3 474.5,506.3 474.9,505.5 475.2,506 475.6,507.1 475.9,506.2 476.3,505.9 476.6,506.2 477,506.2 477.3,506.5 477.7,506.5 478,507.1 478.4,507.5 478.7,505.5 479.1,506.9 479.4,506.2 479.8,507.6 480.1,506.3 480.5,507 480.8,504 481.2,507.2 481.5,507.2 481.8,505.6 482.2,505.5 482.5,508.1 482.9,506.2 483.2,505.7 483.6,511.3 483.9,505.9 484.3,506.8 484.6,507.2 485,506.7 485.3,506.8 485.7,507.5 486,504.6 486.4,506.8 486.7,507 487.1,505.7 487.4,506.5" fill="none" stroke="#ff44ff" stroke-width="2.15" stroke-linejoin="round" />
<polyline points="365.5,494.1 365.8,492.6 366.1,493.8 366.5,490.1 366.8,490.2 367.2,486.4 367.5,489.1 367.9,485.3 368.2,486.4 368.6,483 368.9,484.5 369.3,480.9 369.6,481.2 370,480.5 370.3,478.1 370.7,475.7 371,474.4 371.4,471.1 371.7,470.7 372.1,474.5 372.4,469.4 372.8,470.3 373.1,466 373.5,462.6 373.8,464.2 374.2,462.2 374.5,458.1 374.9,457 375.2,451.9 375.6,452.2 375.9,449.9 376.3,445.8 376.6,448 377,445.2 377.3,445.2 377.6,440.9 378,437.5 378.3,434.9 378.7,435.8 379,435.3 379.4,433.5 379.7,433 380.1,428.2 380.4,423.9 380.8,429.9 381.1,427.8 381.5,418.7 381.8,423.5 382.2,417.8 382.5,419.8 382.9,414 383.2,412.6 383.6,412.7 383.9,410 384.3,410.6 384.6,408.4 385,404.7 385.3,405.4 385.7,408.5 386,408.1 386.4,406.2 386.7,405.7 387.1,404.6 387.4,405.8 387.8,402.7 388.1,403.9 388.5,403.1 388.8,404 389.1,402.6 389.5,406.8 389.8,400.6 390.2,403.5 390.5,403.3 390.9,403.1 391.2,402.2 391.6,403.2 391.9,404.6 392.3,405.7 392.6,409.3 393,405.4 393.3,406.9 393.7,407.2 394,401.4 394.4,411.3 394.7,407.4 395.1,405.3 395.4,406.3 395.8,406.1 396.1,412.1 396.5,411.9 396.8,408.9 397.2,411.5 397.5,407.6 397.9,411.4 398.2,412.1 398.6,412.1 398.9,414.3 399.3,414.1 399.6,416.4 400,415.7 400.3,417.3 400.6,416.4 401,420.7 401.3,421.6 401.7,418.2 402,419.4 402.4,422.7 402.7,421.9 403.1,424.4 403.4,418.7 403.8,427 404.1,421 404.5,427.1 404.8,425.4 405.2,427.6 405.5,428.7 405.9,426.9 406.2,428 406.6,431.1 406.9,433.3 407.3,428.1 407.6,430.4 408,433.8 408.3,435.6 408.7,435.3 409,436.7 409.4,435.4 409.7,440.5 410.1,439.5 410.4,442 410.8,438.9 411.1,438.9 411.5,443.4 411.8,443.2 412.1,442.5 412.5,446.6 412.8,448.7 413.2,446 413.5,447.9 413.9,450.1 414.2,448 414.6,451.1 414.9,455.7 415.3,452.8 415.6,454.4 416,451.9 416.3,456.1 416.7,457.3 417,457.1 417.4,458.3 417.7,462 418.1,460.3 418.4,461.9 418.8,459.9 419.1,459 419.5,465.8 419.8,466.4 420.2,467 420.5,467.5 420.9,468.3 421.2,467.9 421.6,467.1 421.9,471.7 422.3,472.8 422.6,474.1 423,470.2 423.3,470.6 423.6,475.8 424,476.7 424.3,474.7 424.7,473.9 425,474.8 425.4,476.7 425.7,476.7 426.1,477.9 426.4,479.8 426.8,476.9 427.1,480.3 427.5,482.6 427.8,482.3 428.2,484.4 428.5,482.8 428.9,481.9 429.2,485.8 429.6,483 429.9,482.3 430.3,485.2 430.6,487.8 431,487.9 431.3,487.8 431.7,489.5 432,490 432.4,489.2 432.7,489.5 433.1,489 433.4,491.8 433.8,488.3 434.1,489.8 434.5,490.5 434.8,492.8 435.1,490.3 435.5,493.3 435.8,491 436.2,492.3 436.5,495.1 436.9,494.9 437.2,492.5 437.6,493.9 437.9,495.6 438.3,495.6 438.6,495.9 439,497.3 439.3,497 439.7,497.8 440,497.9 440.4,497.1 440.7,499 441.1,497.4 441.4,498.4 441.8,497.9 442.1,498 442.5,497.9 442.8,498.8 443.2,499 443.5,500.1 443.9,499.6 444.2,501.3 444.6,500.9 444.9,500 445.3,501.1 445.6,500.7 446,502.5 446.3,500.1 446.7,502.3 447,501.5 447.3,502.1 447.7,501.3 448,502.7 448.4,503.5 448.7,504.5 449.1,503.1 449.4,504.1 449.8,502.5 450.1,501.8 450.5,505.5 450.8,504.7 451.2,503.2 451.5,502.5 451.9,503.5 452.2,503.5 452.6,503.5 452.9,503.5 453.3,502.6 453.6,503.6 454,505.5 454.3,504.8 454.7,504.3 455,505.3 455.4,504.9 455.7,505.2 456.1,505.4 456.4,504.2 456.8,505.3 457.1,506 457.5,505.7 457.8,505 458.2,503.2 458.5,504.9 458.8,503.9 459.2,504.8 459.5,507.3 459.9,505 460.2,506.2 460.6,506.7 460.9,506.5 461.3,503.9 461.6,507 462,506.2 462.3,504.6 462.7,505.1 463,507.2 463.4,505.8 463.7,506.2 464.1,506 464.4,505.1 464.8,506.3 465.1,506.1 465.5,504.6 465.8,507.5 466.2,506.2 466.5,505.5 466.9,507.1 467.2,506.5 467.6,507.2 467.9,505.9 468.3,506.6 468.6,505.3 469,505.1 469.3,506 469.7,506.4 470,505.9 470.3,506.1 470.7,507.2 471,505.2 471.4,505.9 471.7,505.4 472.1,507.4 472.4,505.4 472.8,504.3 473.1,505.6 473.5,507.5 473.8,506.2 474.2,506.3 474.5,506 474.9,506.4 475.2,505.8 475.6,506.6 475.9,506 476.3,506.8 476.6,506.2 477,505.4 477.3,506.7 477.7,505.7 478,507 478.4,506.6 478.7,506.5 479.1,505.2 479.4,506.9 479.8,505.2 480.1,507.6 480.5,506.4 480.8,505.5 481.2,505.7 481.5,507.2 481.8,507.4 482.2,505.5 482.5,507.4 482.9,505.8 483.2,506.8 483.6,506.3 483.9,504.3 484.3,504.9 484.6,505.6 485,507.5 485.3,506 485.7,506.3 486,506.4 486.4,505.1 486.7,507.8 487.1,506 487.4,506.2" fill="none" stroke="#e0701c" stroke-width="2.15" stroke-linejoin="round" />
<polyline points="368.9,489.2 369.3,485.8 369.6,484.9 370,486.4 370.3,484.6 370.7,484.4 371,483.4 371.4,481.8 371.7,480.8 372.1,477.3 372.4,474.9 372.8,473.1 373.1,472.6 373.5,472.2 373.8,469.5 374.2,466.9 374.5,466.7 374.9,464.4 375.2,463.4 375.6,462 375.9,459.2 376.3,459.5 376.6,453.7 377,456.7 377.3,451 377.6,452.7 378,445.2 378.3,444.5 378.7,445.9 379,443.2 379.4,442.7 379.7,438.6 380.1,435.6 380.4,429.2 380.8,435.5 381.1,428.1 381.5,430.1 381.8,426.4 382.2,423.2 382.5,422.1 382.9,420.6 383.2,420.3 383.6,418.1 383.9,416.1 384.3,412.1 384.6,416.7 385,412.9 385.3,413.2 385.7,411.2 386,409.5 386.4,403.8 386.7,400.1 387.1,400.9 387.4,405.9 387.8,402 388.1,404 388.5,399.4 388.8,396.7 389.1,397.8 389.5,396.6 389.8,398.7 390.2,402.8 390.5,402.6 390.9,397.8 391.2,396.1 391.6,394.5 391.9,398.4 392.3,397.5 392.6,397.1 393,395.3 393.3,398.2 393.7,400.8 394,395.7 394.4,397.6 394.7,397.9 395.1,402.1 395.4,399.4 395.8,403.8 396.1,404.8 396.5,400.9 396.8,401.8 397.2,399.7 397.5,398 397.9,402.1 398.2,398.1 398.6,404.3 398.9,401.6 399.3,407 399.6,404.2 400,405.8 400.3,406.2 400.6,404.9 401,411.4 401.3,407.3 401.7,410.1 402,408.6 402.4,408.7 402.7,411.2 403.1,411.9 403.4,414.5 403.8,411.3 404.1,414.9 404.5,413.2 404.8,418.2 405.2,412.7 405.5,419 405.9,414.9 406.2,419.4 406.6,418 406.9,420.4 407.3,419.5 407.6,421.9 408,420 408.3,422.3 408.7,423.2 409,422 409.4,428.1 409.7,424.7 410.1,428.4 410.4,432.7 410.8,429.4 411.1,431.9 411.5,428.8 411.8,434.4 412.1,434.3 412.5,434.9 412.8,440.3 413.2,436.3 413.5,440.4 413.9,436.5 414.2,437 414.6,441.4 414.9,445.6 415.3,443 415.6,444 416,443.9 416.3,446.9 416.7,449.7 417,448.6 417.4,451.1 417.7,446.9 418.1,452.6 418.4,453.5 418.8,453.3 419.1,456.5 419.5,456 419.8,456.3 420.2,457.9 420.5,458.4 420.9,456.6 421.2,459 421.6,463.1 421.9,462.4 422.3,461.2 422.6,464.6 423,464.2 423.3,465.2 423.6,465.2 424,467.2 424.3,468 424.7,470.1 425,468.8 425.4,471.8 425.7,468.2 426.1,471.9 426.4,473 426.8,472.1 427.1,474.3 427.5,474.8 427.8,475.8 428.2,477.6 428.5,478.6 428.9,479 429.2,476.8 429.6,480.2 429.9,480.6 430.3,481.3 430.6,480.2 431,479 431.3,483.9 431.7,482.4 432,483.6 432.4,484.8 432.7,484.3 433.1,487.4 433.4,484.9 433.8,486.4 434.1,488.6 434.5,485.6 434.8,487.1 435.1,487.2 435.5,491.3 435.8,490.2 436.2,491 436.5,489.9 436.9,489.4 437.2,494.2 437.6,492.1 437.9,492.7 438.3,491.7 438.6,493.4 439,495.4 439.3,494.4 439.7,495.8 440,495.9 440.4,495.2 440.7,496.2 441.1,495.7 441.4,498.2 441.8,493.9 442.1,495.5 442.5,496.4 442.8,499.1 443.2,500.4 443.5,499.2 443.9,498.7 444.2,496.2 444.6,497.5 444.9,499.8 445.3,498.1 445.6,498.4 446,500 446.3,498.8 446.7,500.1 447,501.4 447.3,502.1 447.7,501.2 448,500.2 448.4,502.9 448.7,503.3 449.1,501.2 449.4,504.9 449.8,500.2 450.1,502.8 450.5,501.7 450.8,500.7 451.2,504.3 451.5,504 451.9,500.7 452.2,503.5 452.6,503.4 452.9,503.2 453.3,502.5 453.6,502.3 454,503.6 454.3,504.2 454.7,504 455,503.8 455.4,502.9 455.7,504.1 456.1,502.5 456.4,505.3 456.8,504 457.1,502.9 457.5,503.4 457.8,504.4 458.2,505.7 458.5,505.6 458.8,505.1 459.2,504.7 459.5,505.3 459.9,506.5 460.2,505.9 460.6,504.7 460.9,504.5 461.3,506.7 461.6,505.7 462,507 462.3,506 462.7,502.2 463,505.5 463.4,505.9 463.7,506.2 464.1,506.8 464.4,507.5 464.8,505.8 465.1,506 465.5,504.4 465.8,507.4 466.2,505.5 466.5,504.6 466.9,507.7 467.2,505.3 467.6,507.5 467.9,505.5 468.3,504.6 468.6,506 469,505.8 469.3,506.7 469.7,505.8 470,505 470.3,506.3 470.7,506.3 471,505.8 471.4,505.4 471.7,507.7 472.1,506.1 472.4,506.8 472.8,505.7 473.1,505.2 473.5,505.9 473.8,505 474.2,507.2 474.5,506.6 474.9,507.2 475.2,506.2 475.6,506.2 475.9,506.5 476.3,507.4 476.6,506.4 477,506.7 477.3,505.7 477.7,506.6 478,505.2 478.4,506.1 478.7,508 479.1,506.5 479.4,507.6 479.8,505.4 480.1,505 480.5,506.4 480.8,505.9 481.2,507.7 481.5,508.4 481.8,506.9 482.2,506.6 482.5,507.7 482.9,506.3 483.2,506.1 483.6,505.8 483.9,504.9 484.3,505.6 484.6,506.7 485,506.3 485.3,505.8 485.7,507.3 486,505.2 486.4,505.5 486.7,506.6 487.1,507 487.4,502.9" fill="none" stroke="#1414d2" stroke-width="2.15" stroke-linejoin="round" />
<polyline points="372.4,482.8 372.8,482.4 373.1,484.3 373.5,480.3 373.8,480.4 374.2,477.9 374.5,476 374.9,477.3 375.2,474.5 375.6,472.2 375.9,472 376.3,471.5 376.6,471.3 377,469.3 377.3,468.9 377.6,463.7 378,463.7 378.3,464.5 378.7,460.9 379,461.6 379.4,463.6 379.7,454 380.1,452.5 380.4,455.7 380.8,452.7 381.1,449.4 381.5,448.8 381.8,448.1 382.2,445.8 382.5,443.6 382.9,442.6 383.2,439.4 383.6,438.6 383.9,438 384.3,434.8 384.6,436.6 385,428.6 385.3,433.6 385.7,428.6 386,426.1 386.4,424.4 386.7,423.1 387.1,419.5 387.4,423.2 387.8,419.4 388.1,417.5 388.5,417.6 388.8,416.5 389.1,411 389.5,414.2 389.8,412.5 390.2,410.8 390.5,409.6 390.9,407.7 391.2,407.5 391.6,405.2 391.9,404.9 392.3,403.3 392.6,400.4 393,404.8 393.3,398.4 393.7,402.7 394,399.6 394.4,400.3 394.7,401 395.1,404.6 395.4,396 395.8,401.3 396.1,401.3 396.5,396.9 396.8,399.3 397.2,395 397.5,395.6 397.9,398 398.2,399.1 398.6,398.1 398.9,403.1 399.3,399.8 399.6,400.1 400,401.7 400.3,400.3 400.6,404.6 401,404.3 401.3,398.8 401.7,405.1 402,402.2 402.4,399.3 402.7,402.4 403.1,406.1 403.4,406.5 403.8,402.8 404.1,401 404.5,408.2 404.8,406.2 405.2,408.6 405.5,408.1 405.9,407.3 406.2,408.7 406.6,410.8 406.9,405.2 407.3,411 407.6,411.7 408,409.5 408.3,412.7 408.7,413.9 409,412.1 409.4,417.3 409.7,414.1 410.1,414.3 410.4,415.9 410.8,418.6 411.1,419.1 411.5,423.6 411.8,421 412.1,421 412.5,420.6 412.8,423.1 413.2,425.1 413.5,427 413.9,426.2 414.2,426.8 414.6,425.5 414.9,428.9 415.3,430.9 415.6,431 416,432.7 416.3,433.2 416.7,438.1 417,437.9 417.4,438 417.7,435.7 418.1,437.7 418.4,438.3 418.8,437.3 419.1,442.6 419.5,439.3 419.8,441.8 420.2,444.8 420.5,441.6 420.9,448.1 421.2,448.5 421.6,447.8 421.9,447.6 422.3,449.7 422.6,454.2 423,451.8 423.3,452.4 423.6,448.6 424,451.7 424.3,454.9 424.7,458 425,456.3 425.4,459.9 425.7,458.4 426.1,459.1 426.4,461.3 426.8,461.1 427.1,463 427.5,464.3 427.8,461.6 428.2,464.1 428.5,466.4 428.9,468 429.2,467.3 429.6,467.5 429.9,467.9 430.3,467.7 430.6,470.1 431,473.4 431.3,469.3 431.7,471.4 432,472.7 432.4,472.7 432.7,477.7 433.1,476.8 433.4,477.7 433.8,475.9 434.1,480.1 434.5,479.5 434.8,477.5 435.1,479.4 435.5,481.6 435.8,479 436.2,484.2 436.5,482.3 436.9,483.9 437.2,483.5 437.6,485.1 437.9,486.5 438.3,485.6 438.6,488.2 439,486.3 439.3,488 439.7,486.9 440,489.2 440.4,490 440.7,489.1 441.1,488.5 441.4,493.2 441.8,490.9 442.1,490.7 442.5,493.7 442.8,493.4 443.2,492 443.5,494.2 443.9,494.4 444.2,491.9 444.6,495.5 444.9,495.8 445.3,497.8 445.6,496.8 446,497.3 446.3,494.2 446.7,495.1 447,498.3 447.3,494.9 447.7,496.6 448,497.9 448.4,497.1 448.7,497.9 449.1,499.4 449.4,500.8 449.8,500.1 450.1,499.4 450.5,500 450.8,500.6 451.2,499 451.5,501.4 451.9,499.6 452.2,501.2 452.6,500.8 452.9,502.3 453.3,501.3 453.6,502.3 454,503.5 454.3,501.9 454.7,502.1 455,501.4 455.4,502.1 455.7,503.5 456.1,503.3 456.4,505.3 456.8,504.1 457.1,501.8 457.5,501.7 457.8,502.6 458.2,503.2 458.5,503 458.8,503.2 459.2,505.5 459.5,504.7 459.9,502.9 460.2,503 460.6,504 460.9,504.6 461.3,504.7 461.6,505 462,505.4 462.3,506.4 462.7,504.6 463,505.2 463.4,505 463.7,503.3 464.1,504.4 464.4,505.7 464.8,504.6 465.1,506.5 465.5,504.2 465.8,505 466.2,505.5 466.5,504.8 466.9,504.1 467.2,505.9 467.6,506.4 467.9,503.6 468.3,505.6 468.6,504.3 469,506.3 469.3,505.3 469.7,506.3 470,505.2 470.3,506 470.7,506.4 471,504.4 471.4,505.6 471.7,507.7 472.1,506.1 472.4,506.8 472.8,507.1 473.1,506.5 473.5,506.4 473.8,506 474.2,506.8 474.5,507.7 474.9,506.6 475.2,505.3 475.6,507.3 475.9,505.6 476.3,505.7 476.6,506.5 477,505.9 477.3,506.8 477.7,506.5 478,507.1 478.4,505.8 478.7,505 479.1,506.8 479.4,505.2 479.8,508.1 480.1,507 480.5,507.2 480.8,504.7 481.2,506.8 481.5,505.6 481.8,508.1 482.2,506.2 482.5,508.8 482.9,506.3 483.2,508.7 483.6,506.2 483.9,505.6 484.3,505.2 484.6,506 485,507.8 485.3,506.5 485.7,505.5 486,507.1 486.4,505.8 486.7,506.8 487.1,506.3 487.4,505.7" fill="none" stroke="#d21414" stroke-width="2.15" stroke-linejoin="round" />
<polyline points="375.9,483 376.3,483.8 376.6,481.7 377,482.1 377.3,480 377.6,477.8 378,478.5 378.3,476.6 378.7,475.7 379,473.8 379.4,471.2 379.7,471.1 380.1,469.6 380.4,471.3 380.8,468.3 381.1,465 381.5,466.5 381.8,464.4 382.2,464 382.5,458.7 382.9,460.3 383.2,459.4 383.6,455.6 383.9,453.3 384.3,452.9 384.6,450.6 385,450.5 385.3,449.6 385.7,448.7 386,447.4 386.4,446 386.7,442.7 387.1,442.1 387.4,440.2 387.8,437.7 388.1,437.5 388.5,438.7 388.8,436.1 389.1,435.3 389.5,435.4 389.8,429.9 390.2,431.2 390.5,430 390.9,428.2 391.2,422.7 391.6,423.9 391.9,419.8 392.3,420.8 392.6,420.3 393,417 393.3,415.7 393.7,415.6 394,417 394.4,414.7 394.7,415.3 395.1,412.2 395.4,410.5 395.8,406.5 396.1,405.8 396.5,406.6 396.8,405.3 397.2,406.2 397.5,399.8 397.9,402 398.2,398.9 398.6,403.6 398.9,403 399.3,401.2 399.6,402.9 400,402.3 400.3,405.1 400.6,400.5 401,402.3 401.3,400.7 401.7,403.1 402,406.7 402.4,401.5 402.7,400.1 403.1,405.8 403.4,405.2 403.8,403.8 404.1,406.3 404.5,407.4 404.8,399.7 405.2,401.6 405.5,405.6 405.9,408.6 406.2,404 406.6,400.6 406.9,403.6 407.3,403.2 407.6,408.4 408,406.1 408.3,410.5 408.7,403.1 409,406.7 409.4,413.2 409.7,413.2 410.1,408.5 410.4,409.8 410.8,411.4 411.1,409.9 411.5,407.4 411.8,411.7 412.1,417.1 412.5,414.1 412.8,417.3 413.2,416.9 413.5,415.1 413.9,416.9 414.2,419.6 414.6,418.1 414.9,420.5 415.3,418.4 415.6,420.8 416,420.3 416.3,422.5 416.7,421.1 417,423.8 417.4,424.4 417.7,426.4 418.1,425.8 418.4,430.6 418.8,422.3 419.1,430.1 419.5,429.4 419.8,431.5 420.2,432.4 420.5,431.5 420.9,434.2 421.2,435 421.6,437.8 421.9,437.8 422.3,439.2 422.6,434.3 423,441.4 423.3,441.8 423.6,440.3 424,438.8 424.3,445.8 424.7,446.4 425,444.2 425.4,444.7 425.7,448.9 426.1,450.6 426.4,449.9 426.8,447.7 427.1,450.1 427.5,449.6 427.8,452.1 428.2,452.8 428.5,452.6 428.9,454.8 429.2,455.1 429.6,458 429.9,458.4 430.3,457.4 430.6,459.5 431,461.3 431.3,459.7 431.7,460.8 432,462.6 432.4,464.7 432.7,462.8 433.1,461 433.4,467.3 433.8,469.3 434.1,468.9 434.5,469.9 434.8,471.3 435.1,471.9 435.5,469.5 435.8,470.2 436.2,470 436.5,471.9 436.9,474.6 437.2,472.9 437.6,476.2 437.9,476.6 438.3,478.5 438.6,475.6 439,476.6 439.3,479.5 439.7,479.9 440,480.1 440.4,480.5 440.7,480.2 441.1,481.9 441.4,482.1 441.8,485.3 442.1,484.3 442.5,486.9 442.8,482.5 443.2,483.6 443.5,485.1 443.9,485.2 444.2,484.5 444.6,486.5 444.9,490.3 445.3,489 445.6,492.3 446,490.7 446.3,491.8 446.7,490.6 447,490.6 447.3,492.7 447.7,492.3 448,492 448.4,493 448.7,493.4 449.1,496.5 449.4,494.5 449.8,493.4 450.1,494.4 450.5,496.9 450.8,495.8 451.2,495.5 451.5,497.3 451.9,495.7 452.2,497.7 452.6,497.5 452.9,497.5 453.3,495.2 453.6,498.3 454,498.9 454.3,497.7 454.7,499.3 455,498.8 455.4,501.8 455.7,499.2 456.1,499.8 456.4,501.4 456.8,498.8 457.1,500.7 457.5,500.9 457.8,502.2 458.2,502.8 458.5,501.8 458.8,503 459.2,501.1 459.5,500.9 459.9,502.6 460.2,503.8 460.6,502.7 460.9,503.5 461.3,502.4 461.6,502.6 462,503.3 462.3,502.9 462.7,502.1 463,501.6 463.4,503.9 463.7,502.8 464.1,503.9 464.4,504.8 464.8,502.6 465.1,503.6 465.5,503.9 465.8,503.8 466.2,504.4 466.5,505.3 466.9,502.7 467.2,503.6 467.6,504.3 467.9,505.8 468.3,503.5 468.6,505 469,504.3 469.3,505.2 469.7,504.4 470,505.3 470.3,502.9 470.7,505.5 471,504.8 471.4,504.9 471.7,505.6 472.1,504.5 472.4,505.5 472.8,505.9 473.1,505.5 473.5,509.1 473.8,504.5 474.2,506.5 474.5,504.8 474.9,506.9 475.2,505.5 475.6,506.5 475.9,505.7 476.3,504.7 476.6,505.6 477,506 477.3,504.9 477.7,505 478,504.3 478.4,507.6 478.7,505.7 479.1,506.4 479.4,506.8 479.8,506 480.1,507.1 480.5,508.1 480.8,506.9 481.2,506.4 481.5,504.5 481.8,506.8 482.2,507.2 482.5,507.9 482.9,506.5 483.2,506.4 483.6,506.1 483.9,507.5 484.3,506.9 484.6,508.3 485,506.1 485.3,507.7 485.7,511 486,505.3 486.4,507.1 486.7,506 487.1,506 487.4,507.2" fill="none" stroke="#14b024" stroke-width="2.15" stroke-linejoin="round" />
<polyline points="379.4,483.6 379.7,483.7 380.1,481.9 380.4,478.6 380.8,479.5 381.1,477.2 381.5,478.1 381.8,475.3 382.2,475.9 382.5,475.1 382.9,472.5 383.2,471.5 383.6,468.1 383.9,471.8 384.3,467.2 384.6,464.2 385,463.3 385.3,465 385.7,464.2 386,462.6 386.4,460 386.7,458.9 387.1,457.3 387.4,455.5 387.8,457.2 388.1,455.9 388.5,454.8 388.8,453.7 389.1,450.1 389.5,448 389.8,442.5 390.2,444.9 390.5,444.5 390.9,440.5 391.2,443.3 391.6,439.9 391.9,437.4 392.3,436.4 392.6,435.9 393,436.1 393.3,436.6 393.7,433.2 394,432.9 394.4,429.1 394.7,429.5 395.1,427 395.4,430.3 395.8,423.9 396.1,426.6 396.5,427 396.8,425.6 397.2,423.1 397.5,418.5 397.9,418.4 398.2,421.6 398.6,418 398.9,417.7 399.3,420.1 399.6,418.1 400,419.7 400.3,416.6 400.6,419.9 401,415.3 401.3,415.2 401.7,414.4 402,414.1 402.4,409.5 402.7,412.5 403.1,410.9 403.4,409.6 403.8,409.2 404.1,409.6 404.5,412.3 404.8,413.5 405.2,412.8 405.5,412.2 405.9,411.2 406.2,411.5 406.6,409 406.9,411.8 407.3,407.8 407.6,409.7 408,413.2 408.3,410.5 408.7,418.9 409,409.9 409.4,412.3 409.7,412.6 410.1,417.5 410.4,408.7 410.8,415.1 411.1,415.2 411.5,412.9 411.8,416.2 412.1,418 412.5,415.3 412.8,419.3 413.2,416.1 413.5,417.9 413.9,416.3 414.2,421.8 414.6,417.2 414.9,419.8 415.3,416.9 415.6,423 416,418.4 416.3,421.4 416.7,421.9 417,425.7 417.4,423.8 417.7,424.2 418.1,428 418.4,429.4 418.8,429.4 419.1,425.6 419.5,429 419.8,428.2 420.2,430.3 420.5,431.4 420.9,432 421.2,434 421.6,431.6 421.9,434.5 422.3,435.2 422.6,439.2 423,436.7 423.3,439.5 423.6,440 424,437.9 424.3,442.8 424.7,442 425,441.3 425.4,441.2 425.7,445.2 426.1,444.5 426.4,445.4 426.8,448.9 427.1,451.6 427.5,452.1 427.8,448.4 428.2,450.1 428.5,453.6 428.9,453.2 429.2,453.7 429.6,454.5 429.9,454.7 430.3,451.7 430.6,457.8 431,457 431.3,459.5 431.7,460.1 432,461.3 432.4,461.1 432.7,462.4 433.1,461.8 433.4,462.8 433.8,465.5 434.1,461.6 434.5,467.5 434.8,465.8 435.1,463.7 435.5,469.1 435.8,466.7 436.2,467.3 436.5,469.8 436.9,474 437.2,469.6 437.6,472.4 437.9,474.1 438.3,472.1 438.6,475.8 439,473.8 439.3,477 439.7,476 440,479.1 440.4,478.8 440.7,480.2 441.1,480.5 441.4,479.9 441.8,481 442.1,481.1 442.5,480.2 442.8,482.8 443.2,485.8 443.5,484.2 443.9,484.3 444.2,483.6 444.6,484.1 444.9,484.8 445.3,486.9 445.6,486.3 446,489.5 446.3,486.5 446.7,488.1 447,488.5 447.3,490.1 447.7,490 448,491.4 448.4,490.3 448.7,493.1 449.1,490.7 449.4,491.6 449.8,490.2 450.1,493.1 450.5,493.6 450.8,493.7 451.2,494.2 451.5,494.8 451.9,496.3 452.2,496.6 452.6,496.3 452.9,496.4 453.3,497.7 453.6,498 454,497.3 454.3,496.4 454.7,497.8 455,497.1 455.4,497.1 455.7,497.6 456.1,499.1 456.4,499.4 456.8,501.2 457.1,500.2 457.5,499.2 457.8,501.1 458.2,498.7 458.5,498.8 458.8,500.9 459.2,499.8 459.5,502.4 459.9,502.2 460.2,501.7 460.6,501.5 460.9,501.9 461.3,502.8 461.6,500.1 462,501.9 462.3,502.1 462.7,501.8 463,502.5 463.4,503 463.7,503.5 464.1,504.7 464.4,501.8 464.8,504.2 465.1,505.1 465.5,504.3 465.8,505.2 466.2,501.9 466.5,503.5 466.9,502.7 467.2,502.7 467.6,503.6 467.9,503.7 468.3,505 468.6,504.5 469,505.1 469.3,504.6 469.7,505.3 470,503.6 470.3,504.1 470.7,505 471,506.5 471.4,504.4 471.7,504.3 472.1,505.2 472.4,506.3 472.8,504.8 473.1,504.3 473.5,507.1 473.8,504.9 474.2,507.1 474.5,505.4 474.9,504 475.2,505.5 475.6,505.2 475.9,505.9 476.3,505.7 476.6,503.6 477,504.6 477.3,506 477.7,506.1 478,505.8 478.4,503.9 478.7,505.7 479.1,504.9 479.4,506.2 479.8,507.1 480.1,504.8 480.5,506.1 480.8,506.7 481.2,506.6 481.5,506.6 481.8,506.6 482.2,507.4 482.5,505.1 482.9,505.8 483.2,505.3 483.6,506.4 483.9,505.9 484.3,506 484.6,505.2 485,505.5 485.3,505.9 485.7,506.8 486,507.3 486.4,506.9 486.7,506.8 487.1,506.7 487.4,507.3" fill="none" stroke="#606060" stroke-width="2.15" stroke-linejoin="round" />
<polyline points="382.9,479 383.2,481 383.6,476.1 383.9,474.6 384.3,473 384.6,478.8 385,472.7 385.3,472 385.7,475.8 386,471.4 386.4,469.3 386.7,465.9 387.1,468.2 387.4,465.4 387.8,464.6 388.1,462.8 388.5,462.8 388.8,459.5 389.1,458.2 389.5,460.8 389.8,455.5 390.2,457.3 390.5,455.3 390.9,451.8 391.2,452.3 391.6,450.2 391.9,448.6 392.3,447.7 392.6,448.5 393,448 393.3,444 393.7,442.6 394,442.1 394.4,442 394.7,438.9 395.1,439.4 395.4,440.7 395.8,436.6 396.1,435.1 396.5,433.6 396.8,435.6 397.2,434.4 397.5,431.4 397.9,431.9 398.2,430.2 398.6,427.4 398.9,427.6 399.3,424 399.6,426.2 400,422.7 400.3,423.2 400.6,419.6 401,423.9 401.3,423.5 401.7,420.2 402,423.2 402.4,422.6 402.7,420.8 403.1,420.2 403.4,423.3 403.8,419.7 404.1,420.6 404.5,419.8 404.8,419.3 405.2,419.9 405.5,417.3 405.9,418.4 406.2,419.8 406.6,419.3 406.9,417.4 407.3,418 407.6,417.1 408,420 408.3,419.6 408.7,416 409,420.2 409.4,417 409.7,418.9 410.1,421.6 410.4,423.7 410.8,420 411.1,422.9 411.5,423.2 411.8,425.5 412.1,420.1 412.5,422.6 412.8,423.1 413.2,422.7 413.5,423.4 413.9,424.1 414.2,423.7 414.6,425.7 414.9,430.6 415.3,424.7 415.6,425.8 416,427.1 416.3,424.6 416.7,430.8 417,434.2 417.4,426.4 417.7,429.1 418.1,433.5 418.4,431.8 418.8,430.5 419.1,434.5 419.5,431.9 419.8,429.6 420.2,431.6 420.5,434.9 420.9,434.9 421.2,437.9 421.6,436.7 421.9,438.2 422.3,440.1 422.6,441.4 423,436.3 423.3,440.3 423.6,443 424,442.7 424.3,440.1 424.7,440.6 425,447 425.4,444.6 425.7,444.2 426.1,447.1 426.4,449.3 426.8,449.7 427.1,448.8 427.5,450.9 427.8,452.6 428.2,451.6 428.5,450.4 428.9,451.6 429.2,453.9 429.6,451.2 429.9,456.4 430.3,456 430.6,458.9 431,456.2 431.3,458.5 431.7,461.7 432,461.1 432.4,457.7 432.7,460.2 433.1,462 433.4,461.6 433.8,466.2 434.1,465.7 434.5,467.2 434.8,467.2 435.1,467.3 435.5,466.6 435.8,466.6 436.2,467.4 436.5,465.6 436.9,471 437.2,471.1 437.6,471 437.9,473.6 438.3,473.5 438.6,473.2 439,475.7 439.3,474.5 439.7,474.1 440,478 440.4,480.3 440.7,477.6 441.1,479.8 441.4,478.8 441.8,480.2 442.1,479.8 442.5,479.3 442.8,480.3 443.2,482.5 443.5,487.9 443.9,486.4 444.2,486.5 444.6,485.3 444.9,484.7 445.3,486.2 445.6,486.6 446,488.4 446.3,489 446.7,489.5 447,487.1 447.3,490.8 447.7,488 448,490.4 448.4,489.1 448.7,489.9 449.1,489.8 449.4,489.7 449.8,492.4 450.1,493.1 450.5,492.9 450.8,493.6 451.2,492.4 451.5,493.7 451.9,493.9 452.2,493.8 452.6,495.1 452.9,493.8 453.3,497.3 453.6,495.4 454,495.4 454.3,497.1 454.7,497.3 455,495.9 455.4,497.5 455.7,499.5 456.1,499.2 456.4,497 456.8,499.2 457.1,497.2 457.5,497.4 457.8,499.3 458.2,498.8 458.5,500.4 458.8,500.2 459.2,500.7 459.5,499.6 459.9,501.7 460.2,500.8 460.6,500.8 460.9,500.5 461.3,503.3 461.6,503.1 462,502.4 462.3,501.9 462.7,501.8 463,501.9 463.4,500.3 463.7,501.8 464.1,502 464.4,503.1 464.8,502.1 465.1,502.3 465.5,502.4 465.8,503.3 466.2,502.7 466.5,502 466.9,504.3 467.2,505.6 467.6,503 467.9,504 468.3,504.2 468.6,504.5 469,501.7 469.3,504.7 469.7,505.4 470,504.8 470.3,504.1 470.7,505.1 471,505 471.4,504.5 471.7,505.2 472.1,504.7 472.4,505 472.8,505.9 473.1,505 473.5,506.1 473.8,504.4 474.2,506 474.5,505.5 474.9,506.9 475.2,505.7 475.6,506.5 475.9,504.2 476.3,505.6 476.6,505.1 477,507 477.3,506.6 477.7,505.8 478,506.8 478.4,504.8 478.7,506.1 479.1,505.7 479.4,505.6 479.8,506 480.1,505.2 480.5,506.4 480.8,505.6 481.2,505 481.5,505.8 481.8,505.9 482.2,506.3 482.5,506 482.9,505.5 483.2,506.3 483.6,507.5 483.9,506 484.3,506.2 484.6,505.7 485,506.1 485.3,504.9 485.7,507.1 486,507 486.4,505.7 486.7,507 487.1,506 487.4,506.2" fill="none" stroke="#ffff38" stroke-width="2.15" stroke-linejoin="round" />
<polyline points="386.4,478.1 386.7,477.8 387.1,476.2 387.4,478.6 387.8,472.6 388.1,477.3 388.5,471.2 388.8,469.5 389.1,468.3 389.5,468.5 389.8,467.1 390.2,467.6 390.5,466.1 390.9,464.2 391.2,465.4 391.6,464 391.9,461.5 392.3,462.7 392.6,459.7 393,460.9 393.3,457.4 393.7,456.6 394,456.5 394.4,456 394.7,454.4 395.1,456 395.4,452.2 395.8,450.4 396.1,447.7 396.5,449.5 396.8,448 397.2,444.6 397.5,443.1 397.9,445.7 398.2,442.4 398.6,441.3 398.9,441.5 399.3,443.2 399.6,442.3 400,439.1 400.3,435.4 400.6,438.8 401,435.3 401.3,434 401.7,438.7 402,437 402.4,436 402.7,433.2 403.1,433.4 403.4,433.9 403.8,432.4 404.1,434.2 404.5,428.4 404.8,434.4 405.2,435.2 405.5,431.6 405.9,429.2 406.2,432.3 406.6,431.4 406.9,433 407.3,431.3 407.6,432.9 408,432.9 408.3,438.5 408.7,432.2 409,428.1 409.4,431.5 409.7,431.1 410.1,427.7 410.4,432.8 410.8,433.6 411.1,431.1 411.5,434.3 411.8,431.8 412.1,430.6 412.5,434.6 412.8,433.9 413.2,430.4 413.5,435.4 413.9,435 414.2,433.7 414.6,435 414.9,436.2 415.3,432.4 415.6,436.5 416,435.3 416.3,436.9 416.7,437 417,439.3 417.4,435.9 417.7,438.6 418.1,436.2 418.4,440.7 418.8,440.1 419.1,439 419.5,440.1 419.8,441.8 420.2,441.5 420.5,443.9 420.9,442.3 421.2,447.2 421.6,443.2 421.9,441.8 422.3,443.1 422.6,443.8 423,446.4 423.3,445.6 423.6,447.6 424,447.7 424.3,448.4 424.7,454.1 425,448 425.4,449.4 425.7,449.4 426.1,452.9 426.4,451 426.8,452 427.1,456.8 427.5,456.7 427.8,454.6 428.2,456.4 428.5,456.1 428.9,457.7 429.2,455.1 429.6,460.9 429.9,460.8 430.3,460.9 430.6,462.1 431,461.6 431.3,461.5 431.7,464.1 432,462.3 432.4,461.6 432.7,462.6 433.1,462 433.4,463.9 433.8,466.2 434.1,464.4 434.5,466.6 434.8,465.6 435.1,469.1 435.5,472.4 435.8,471.8 436.2,470.6 436.5,470.7 436.9,472.4 437.2,471.4 437.6,474.9 437.9,474.9 438.3,473.4 438.6,475.2 439,475.8 439.3,474.7 439.7,475.7 440,478.7 440.4,478 440.7,481 441.1,479.5 441.4,479.5 441.8,482.7 442.1,482.5 442.5,479.3 442.8,481.6 443.2,481.7 443.5,481.5 443.9,484 444.2,483.1 444.6,484.4 444.9,487.2 445.3,486.9 445.6,487 446,485.6 446.3,487.2 446.7,486.7 447,488.8 447.3,490.1 447.7,486.8 448,486.6 448.4,489.6 448.7,490.7 449.1,489.6 449.4,492.5 449.8,491.9 450.1,493.6 450.5,491.9 450.8,492.6 451.2,493.6 451.5,494.2 451.9,495.5 452.2,495.2 452.6,493.3 452.9,495.3 453.3,494 453.6,496.5 454,496 454.3,496.7 454.7,496.8 455,496 455.4,499.1 455.7,496.7 456.1,497 456.4,497.9 456.8,498.1 457.1,498.6 457.5,498 457.8,498.9 458.2,500 458.5,499.3 458.8,498.7 459.2,499.5 459.5,500 459.9,500.1 460.2,500.9 460.6,501.1 460.9,502.5 461.3,501.2 461.6,500.3 462,501.7 462.3,502.4 462.7,500.9 463,501.7 463.4,501.9 463.7,501.8 464.1,501.8 464.4,502.5 464.8,503.3 465.1,501.3 465.5,502.9 465.8,503.7 466.2,503 466.5,502.3 466.9,504.6 467.2,502.4 467.6,503.7 467.9,502.1 468.3,503.3 468.6,504 469,503 469.3,503.1 469.7,504.5 470,504.1 470.3,504.8 470.7,503.7 471,505.6 471.4,504.7 471.7,506.4 472.1,504.3 472.4,506.6 472.8,505.7 473.1,504.7 473.5,505.3 473.8,505.4 474.2,505.9 474.5,505.5 474.9,506.6 475.2,505 475.6,504.7 475.9,504.8 476.3,505.4 476.6,504.5 477,505.1 477.3,504.8 477.7,505.3 478,505.6 478.4,506.2 478.7,507.7 479.1,505.2 479.4,505.8 479.8,504.3 480.1,507.3 480.5,505.2 480.8,506.6 481.2,505.9 481.5,506.6 481.8,505.7 482.2,506 482.5,505.3 482.9,505.9 483.2,505.6 483.6,505.1 483.9,505.6 484.3,506.2 484.6,505.1 485,506.2 485.3,505.8 485.7,506.4 486,506.6 486.4,508.4 486.7,505.6 487.1,507 487.4,505.6" fill="none" stroke="#ff6464" stroke-width="2.15" stroke-linejoin="round" />
<polyline points="389.8,480 390.2,478.5 390.5,478.6 390.9,475.5 391.2,476.3 391.6,475.8 391.9,474.1 392.3,473.3 392.6,472 393,471.9 393.3,472 393.7,470.9 394,473.1 394.4,471.4 394.7,467.4 395.1,468.3 395.4,464.7 395.8,463.9 396.1,467.2 396.5,464.3 396.8,460.1 397.2,464.2 397.5,461.9 397.9,461.9 398.2,461.2 398.6,460.5 398.9,459.4 399.3,457.6 399.6,459 400,456.5 400.3,457.5 400.6,455.1 401,454.8 401.3,455.7 401.7,453.7 402,454.4 402.4,453.9 402.7,450.5 403.1,454.2 403.4,450.3 403.8,449.5 404.1,450.9 404.5,448 404.8,447.8 405.2,450.6 405.5,447.6 405.9,447.3 406.2,448.7 406.6,446.4 406.9,445.9 407.3,447.8 407.6,449.5 408,445.7 408.3,447.2 408.7,448.5 409,446.4 409.4,449.3 409.7,446.1 410.1,443.3 410.4,449.8 410.8,444.9 411.1,447 411.5,446.3 411.8,447.1 412.1,444.8 412.5,445.8 412.8,447.1 413.2,448 413.5,446.8 413.9,444.5 414.2,448.2 414.6,445.9 414.9,446.2 415.3,449.9 415.6,445.4 416,447.3 416.3,444.2 416.7,445.2 417,448.3 417.4,448.5 417.7,450 418.1,450.8 418.4,447.9 418.8,449.7 419.1,450.3 419.5,450.2 419.8,449.3 420.2,449.3 420.5,451 420.9,451.7 421.2,451.6 421.6,449.1 421.9,455.5 422.3,454.6 422.6,452.6 423,453.5 423.3,452.4 423.6,452.7 424,452.2 424.3,456.6 424.7,455.1 425,456.8 425.4,455.5 425.7,457.1 426.1,456.6 426.4,459.4 426.8,458.6 427.1,460 427.5,460.2 427.8,461 428.2,462.3 428.5,459.9 428.9,461.5 429.2,460.9 429.6,464.3 429.9,466.1 430.3,464.9 430.6,464.8 431,464.1 431.3,464.2 431.7,464.6 432,464.7 432.4,466.3 432.7,467.7 433.1,469.4 433.4,468.1 433.8,470.1 434.1,471.1 434.5,469.8 434.8,470.9 435.1,470.6 435.5,473.1 435.8,471.3 436.2,472.9 436.5,474.1 436.9,475.4 437.2,476.3 437.6,477.2 437.9,474.3 438.3,478.3 438.6,476.3 439,477.9 439.3,478.8 439.7,479.2 440,479.3 440.4,478.6 440.7,479.5 441.1,480.7 441.4,482.8 441.8,483.8 442.1,480 442.5,483.8 442.8,485 443.2,482.4 443.5,485.8 443.9,483.8 444.2,484 444.6,485.2 444.9,484.9 445.3,487.9 445.6,488.2 446,487.5 446.3,487.7 446.7,488.2 447,488.1 447.3,489.8 447.7,491.6 448,489.4 448.4,490.4 448.7,489.7 449.1,488.8 449.4,491.3 449.8,491.1 450.1,493 450.5,491.5 450.8,492.5 451.2,492.9 451.5,492.6 451.9,494.9 452.2,493.6 452.6,494 452.9,493.2 453.3,496.9 453.6,495.5 454,493.6 454.3,496.4 454.7,496.7 455,494.9 455.4,494.5 455.7,497 456.1,498.1 456.4,499.9 456.8,498.3 457.1,498.9 457.5,499.1 457.8,498.5 458.2,498.8 458.5,498.7 458.8,499.3 459.2,500.6 459.5,499.1 459.9,499.7 460.2,500.7 460.6,500.6 460.9,500.3 461.3,500.7 461.6,501 462,500.4 462.3,500.4 462.7,501.7 463,501.6 463.4,502.7 463.7,502 464.1,501.7 464.4,501.5 464.8,502.2 465.1,502.6 465.5,503.2 465.8,502.6 466.2,503.8 466.5,502.9 466.9,503.1 467.2,504 467.6,503.1 467.9,503.6 468.3,503.1 468.6,504 469,503.4 469.3,502.6 469.7,503.8 470,503.4 470.3,504.6 470.7,504.5 471,505.7 471.4,504.5 471.7,505.3 472.1,504.4 472.4,506.2 472.8,505.3 473.1,504.7 473.5,504.5 473.8,506.1 474.2,505.2 474.5,503.1 474.9,504.5 475.2,505 475.6,507.2 475.9,505.9 476.3,504.9 476.6,505.1 477,505 477.3,504.7 477.7,505.4 478,504.8 478.4,506.8 478.7,503.7 479.1,505.8 479.4,506.1 479.8,504.6 480.1,505.2 480.5,505 480.8,506.2 481.2,505.6 481.5,505.3 481.8,506.6 482.2,506 482.5,506.1 482.9,506.1 483.2,506.4 483.6,506.8 483.9,505.7 484.3,505.8 484.6,505.2 485,506.1 485.3,506.5 485.7,507.1 486,506 486.4,506.3 486.7,504.7 487.1,504.5 487.4,505" fill="none" stroke="#ffff38" stroke-width="2.15" stroke-linejoin="round" />
<polyline points="394,474.8 394.4,474.8 394.7,474.5 395.1,475.4 395.4,472.3 395.8,472.4 396.1,472.6 396.5,471.2 396.8,469.7 397.2,471.9 397.5,471.4 397.9,470.2 398.2,469.5 398.6,471.7 398.9,468.1 399.3,465.4 399.6,466.7 400,464.5 400.3,468.9 400.6,464.9 401,462.6 401.3,461.8 401.7,464.1 402,464 402.4,462 402.7,463.7 403.1,462.2 403.4,463.5 403.8,460.9 404.1,460.6 404.5,458.1 404.8,459.5 405.2,460.5 405.5,459.5 405.9,460.8 406.2,458.8 406.6,458.9 406.9,457.8 407.3,456.9 407.6,460.6 408,457.4 408.3,456.7 408.7,459.1 409,454.9 409.4,458.3 409.7,454 410.1,456.2 410.4,455.9 410.8,456.8 411.1,455.8 411.5,458.6 411.8,458.3 412.1,459.9 412.5,456.6 412.8,458.3 413.2,456.5 413.5,456.7 413.9,459.4 414.2,456.8 414.6,457.5 414.9,457.7 415.3,457.5 415.6,458.3 416,458.4 416.3,457.2 416.7,460.1 417,460.6 417.4,460.2 417.7,458 418.1,460 418.4,457.3 418.8,464.1 419.1,461.3 419.5,461.2 419.8,460.5 420.2,459.4 420.5,461.7 420.9,463 421.2,460.9 421.6,460.3 421.9,466 422.3,462.2 422.6,462.9 423,464.7 423.3,464.6 423.6,464 424,464.7 424.3,465.4 424.7,466.9 425,465.5 425.4,467 425.7,466.5 426.1,467.7 426.4,467.1 426.8,466.9 427.1,467.9 427.5,467.8 427.8,470.8 428.2,468.9 428.5,469.5 428.9,471.1 429.2,471 429.6,474.6 429.9,471.5 430.3,472.6 430.6,475.2 431,472.3 431.3,474.2 431.7,473.5 432,474.6 432.4,474.2 432.7,475.1 433.1,476 433.4,475.5 433.8,475.6 434.1,479.6 434.5,477.4 434.8,481.5 435.1,479.6 435.5,477.3 435.8,478.2 436.2,480.9 436.5,481.4 436.9,479.7 437.2,481.7 437.6,481.8 437.9,484.1 438.3,482.5 438.6,481.6 439,483.7 439.3,483.8 439.7,482.2 440,483.6 440.4,483.4 440.7,484.7 441.1,484.5 441.4,487.9 441.8,487.4 442.1,488.7 442.5,485.1 442.8,487.6 443.2,488.3 443.5,489.3 443.9,490 444.2,492.2 444.6,487.4 444.9,490.1 445.3,490.4 445.6,492.2 446,491.2 446.3,495.6 446.7,491.9 447,491.6 447.3,493.3 447.7,492.5 448,492.3 448.4,493 448.7,493.5 449.1,494.2 449.4,495.4 449.8,494.2 450.1,495.4 450.5,496.2 450.8,494.9 451.2,497.4 451.5,496.7 451.9,495.8 452.2,495.9 452.6,497.3 452.9,497.2 453.3,497.6 453.6,497.8 454,498.7 454.3,497.8 454.7,498.3 455,498.6 455.4,497.9 455.7,498.9 456.1,499.7 456.4,499.4 456.8,498.1 457.1,500.5 457.5,500.4 457.8,501 458.2,500.2 458.5,501.7 458.8,500.5 459.2,500.4 459.5,501.8 459.9,502.1 460.2,502.7 460.6,501.7 460.9,502.7 461.3,502.5 461.6,502.5 462,502.8 462.3,501.8 462.7,501.3 463,504.3 463.4,503.4 463.7,502.7 464.1,503.9 464.4,503.6 464.8,503.1 465.1,502.3 465.5,502.6 465.8,503.8 466.2,503.6 466.5,504.1 466.9,504 467.2,504.9 467.6,505.4 467.9,504.4 468.3,503.5 468.6,503.8 469,505.8 469.3,504.6 469.7,505 470,504.4 470.3,505.5 470.7,504.1 471,505 471.4,504.5 471.7,504.3 472.1,506.4 472.4,505.2 472.8,504 473.1,505.1 473.5,504.5 473.8,505 474.2,505.7 474.5,505.2 474.9,504.7 475.2,504.5 475.6,504.5 475.9,506.3 476.3,505 476.6,506.5 477,505.7 477.3,505.8 477.7,505.3 478,505.5 478.4,504.9 478.7,506.2 479.1,505.2 479.4,505.6 479.8,505.9 480.1,506.7 480.5,505.5 480.8,505.7 481.2,505.4 481.5,506 481.8,506.2 482.2,505.7 482.5,505.7 482.9,505.6 483.2,504.8 483.6,506.5 483.9,504.7 484.3,508.1 484.6,505.5 485,506.7 485.3,504.8 485.7,506.8 486,505.5 486.4,506.9 486.7,507 487.1,505.7 487.4,505.6" fill="none" stroke="#d414d2" stroke-width="2.15" stroke-linejoin="round" />
<polyline points="396.8,479.2 397.2,478.3 397.5,479.4 397.9,478.9 398.2,479.1 398.6,477.8 398.9,477.9 399.3,475.7 399.6,475.7 400,476.1 400.3,476.2 400.6,478.3 401,475.4 401.3,474.1 401.7,473.3 402,477 402.4,476 402.7,472.8 403.1,473.8 403.4,472.6 403.8,472.6 404.1,471.1 404.5,473.5 404.8,471.8 405.2,469.9 405.5,470.5 405.9,471.4 406.2,469.7 406.6,469.7 406.9,470.8 407.3,468.9 407.6,468.7 408,469.5 408.3,468.1 408.7,470.4 409,468.1 409.4,469.8 409.7,469.8 410.1,469.4 410.4,467.3 410.8,469.2 411.1,469 411.5,469.3 411.8,471.6 412.1,467.5 412.5,466.1 412.8,467.1 413.2,468.1 413.5,467.9 413.9,469.2 414.2,469.4 414.6,470.2 414.9,467.4 415.3,469.4 415.6,470 416,470 416.3,469.1 416.7,470.1 417,469.6 417.4,469.5 417.7,468.4 418.1,471.4 418.4,469.8 418.8,471.1 419.1,471 419.5,468.9 419.8,470.2 420.2,471.5 420.5,470.7 420.9,471.5 421.2,470.4 421.6,472.4 421.9,471.5 422.3,472.5 422.6,472.5 423,472.9 423.3,473.7 423.6,473.1 424,472.4 424.3,474.4 424.7,474.4 425,473.9 425.4,475.4 425.7,473.9 426.1,474.4 426.4,477.9 426.8,476.4 427.1,477.1 427.5,475.4 427.8,475.6 428.2,478.2 428.5,477.9 428.9,477.6 429.2,478.2 429.6,477.4 429.9,477.5 430.3,478.2 430.6,478 431,478.5 431.3,479.8 431.7,480.5 432,481.2 432.4,479.9 432.7,480.2 433.1,480.4 433.4,482.1 433.8,482.5 434.1,482.2 434.5,481.5 434.8,482.8 435.1,483.2 435.5,484.6 435.8,483.7 436.2,483.9 436.5,485.7 436.9,483.4 437.2,486.4 437.6,484.9 437.9,486.3 438.3,486.3 438.6,487.5 439,487.7 439.3,486.8 439.7,488 440,488.4 440.4,487.6 440.7,488.1 441.1,488.9 441.4,489.2 441.8,488.1 442.1,490.2 442.5,490 442.8,490.2 443.2,492.2 443.5,493 443.9,491.4 444.2,491.1 444.6,492 444.9,492.9 445.3,493.3 445.6,492.3 446,493.5 446.3,495.5 446.7,493.2 447,493.9 447.3,494 447.7,493.8 448,493.8 448.4,494.7 448.7,495.6 449.1,497.4 449.4,495.7 449.8,496.3 450.1,495.3 450.5,495.6 450.8,496.5 451.2,496 451.5,497.4 451.9,497.6 452.2,498.5 452.6,498.2 452.9,498 453.3,497.6 453.6,499.2 454,498.3 454.3,497.2 454.7,500.3 455,499.6 455.4,499.6 455.7,499 456.1,498.4 456.4,499.2 456.8,500.3 457.1,501.1 457.5,500.7 457.8,500.8 458.2,500.8 458.5,501.8 458.8,500.5 459.2,502 459.5,501.1 459.9,504.1 460.2,502.7 460.6,501.9 460.9,502.1 461.3,502.4 461.6,501.8 462,502.8 462.3,500.8 462.7,501.9 463,503.5 463.4,504.7 463.7,502.2 464.1,503 464.4,503.2 464.8,504.1 465.1,504.5 465.5,504.9 465.8,501.9 466.2,502.6 466.5,504.2 466.9,502.6 467.2,505.3 467.6,503.6 467.9,503.7 468.3,504.8 468.6,504.6 469,505.1 469.3,504.4 469.7,503.7 470,503.9 470.3,504.4 470.7,504 471,506 471.4,503.5 471.7,504.9 472.1,505.8 472.4,505.3 472.8,505.5 473.1,505.1 473.5,505 473.8,506.8 474.2,504.4 474.5,504.2 474.9,506 475.2,504.4 475.6,504.6 475.9,504.8 476.3,504.4 476.6,506.4 477,505.1 477.3,506.3 477.7,505 478,506.3 478.4,506.5 478.7,505 479.1,505.4 479.4,505.8 479.8,505.7 480.1,505.4 480.5,504.7 480.8,506.3 481.2,506.3 481.5,506.3 481.8,506 482.2,506 482.5,506.8 482.9,505.8 483.2,506.8 483.6,506.2 483.9,506.2 484.3,506.2 484.6,505.1 485,505.1 485.3,505.4 485.7,505.1 486,506.3 486.4,505.3 486.7,506.2 487.1,506 487.4,506" fill="none" stroke="#14e4f4" stroke-width="2.15" stroke-linejoin="round" />
<line x1="449.2" y1="499.5" x2="449.2" y2="509.5" stroke="#1414dc" stroke-width="1.0"/>
<line x1="454.2" y1="500.5" x2="454.2" y2="507.5" stroke="#1414dc" stroke-width="0.9"/>
<line x1="470" y1="503.5" x2="470" y2="512" stroke="#e01414" stroke-width="1.0"/>
<line x1="478" y1="504" x2="478" y2="508.8" stroke="#1414dc" stroke-width="0.9"/>
<line x1="487.3" y1="501.5" x2="487.3" y2="513" stroke="#c01010" stroke-width="1.5"/>
</g>
<rect x="314.4" y="387.5" width="173.8" height="129.1" fill="none" stroke="#2a2a2a" stroke-width="1.1"/>
<line x1="330.6" y1="516.6" x2="330.6" y2="519.6" stroke="#2a2a2a" stroke-width="1"/>
<text x="330.6" y="527.6" font-family='"Liberation Sans", sans-serif' font-size="8.0" font-weight="bold" fill="#1a1a1a" text-anchor="middle"  id="t67" stroke="#1a1a1a" stroke-width="0.28">300</text>
<line x1="365.5" y1="516.6" x2="365.5" y2="519.6" stroke="#2a2a2a" stroke-width="1"/>
<text x="365.5" y="527.6" font-family='"Liberation Sans", sans-serif' font-size="8.0" font-weight="bold" fill="#1a1a1a" text-anchor="middle"  id="t68" stroke="#1a1a1a" stroke-width="0.28">400</text>
<line x1="400.3" y1="516.6" x2="400.3" y2="519.6" stroke="#2a2a2a" stroke-width="1"/>
<text x="400.3" y="527.6" font-family='"Liberation Sans", sans-serif' font-size="8.0" font-weight="bold" fill="#1a1a1a" text-anchor="middle"  id="t69" stroke="#1a1a1a" stroke-width="0.28">500</text>
<line x1="435.1" y1="516.6" x2="435.1" y2="519.6" stroke="#2a2a2a" stroke-width="1"/>
<text x="435.1" y="527.6" font-family='"Liberation Sans", sans-serif' font-size="8.0" font-weight="bold" fill="#1a1a1a" text-anchor="middle"  id="t70" stroke="#1a1a1a" stroke-width="0.28">600</text>
<line x1="470" y1="516.6" x2="470" y2="519.6" stroke="#2a2a2a" stroke-width="1"/>
<text x="470" y="527.6" font-family='"Liberation Sans", sans-serif' font-size="8.0" font-weight="bold" fill="#1a1a1a" text-anchor="middle"  id="t71" stroke="#1a1a1a" stroke-width="0.28">700</text>
<line x1="313.2" y1="516.6" x2="313.2" y2="518.2" stroke="#2a2a2a" stroke-width="0.9"/>
<line x1="348" y1="516.6" x2="348" y2="518.2" stroke="#2a2a2a" stroke-width="0.9"/>
<line x1="382.9" y1="516.6" x2="382.9" y2="518.2" stroke="#2a2a2a" stroke-width="0.9"/>
<line x1="417.7" y1="516.6" x2="417.7" y2="518.2" stroke="#2a2a2a" stroke-width="0.9"/>
<line x1="452.6" y1="516.6" x2="452.6" y2="518.2" stroke="#2a2a2a" stroke-width="0.9"/>
<line x1="487.4" y1="516.6" x2="487.4" y2="518.2" stroke="#2a2a2a" stroke-width="0.9"/>
<line x1="311.4" y1="506.4" x2="314.4" y2="506.4" stroke="#2a2a2a" stroke-width="1"/>
<text x="309.4" y="509.5" font-family='"Liberation Sans", sans-serif' font-size="8.5" font-weight="bold" fill="#1a1a1a" text-anchor="end"  id="t72" stroke="#1a1a1a" stroke-width="0.28">0</text>
<line x1="311.4" y1="487.1" x2="314.4" y2="487.1" stroke="#2a2a2a" stroke-width="1"/>
<text x="309.4" y="490.2" font-family='"Liberation Sans", sans-serif' font-size="8.5" font-weight="bold" fill="#1a1a1a" text-anchor="end"  id="t73" stroke="#1a1a1a" stroke-width="0.28">10</text>
<line x1="311.4" y1="467.8" x2="314.4" y2="467.8" stroke="#2a2a2a" stroke-width="1"/>
<text x="309.4" y="470.9" font-family='"Liberation Sans", sans-serif' font-size="8.5" font-weight="bold" fill="#1a1a1a" text-anchor="end"  id="t74" stroke="#1a1a1a" stroke-width="0.28">20</text>
<line x1="311.4" y1="448.5" x2="314.4" y2="448.5" stroke="#2a2a2a" stroke-width="1"/>
<text x="309.4" y="451.6" font-family='"Liberation Sans", sans-serif' font-size="8.5" font-weight="bold" fill="#1a1a1a" text-anchor="end"  id="t75" stroke="#1a1a1a" stroke-width="0.28">30</text>
<line x1="311.4" y1="429.2" x2="314.4" y2="429.2" stroke="#2a2a2a" stroke-width="1"/>
<text x="309.4" y="432.3" font-family='"Liberation Sans", sans-serif' font-size="8.5" font-weight="bold" fill="#1a1a1a" text-anchor="end"  id="t76" stroke="#1a1a1a" stroke-width="0.28">40</text>
<line x1="311.4" y1="409.9" x2="314.4" y2="409.9" stroke="#2a2a2a" stroke-width="1"/>
<text x="309.4" y="413" font-family='"Liberation Sans", sans-serif' font-size="8.5" font-weight="bold" fill="#1a1a1a" text-anchor="end"  id="t77" stroke="#1a1a1a" stroke-width="0.28">50</text>
<line x1="311.4" y1="390.6" x2="314.4" y2="390.6" stroke="#2a2a2a" stroke-width="1"/>
<text x="309.4" y="393.7" font-family='"Liberation Sans", sans-serif' font-size="8.5" font-weight="bold" fill="#1a1a1a" text-anchor="end"  id="t78" stroke="#1a1a1a" stroke-width="0.28">60</text>
<line x1="312.8" y1="516" x2="314.4" y2="516" stroke="#2a2a2a" stroke-width="0.9"/>
<line x1="312.8" y1="496.8" x2="314.4" y2="496.8" stroke="#2a2a2a" stroke-width="0.9"/>
<line x1="312.8" y1="477.4" x2="314.4" y2="477.4" stroke="#2a2a2a" stroke-width="0.9"/>
<line x1="312.8" y1="458.1" x2="314.4" y2="458.1" stroke="#2a2a2a" stroke-width="0.9"/>
<line x1="312.8" y1="438.8" x2="314.4" y2="438.8" stroke="#2a2a2a" stroke-width="0.9"/>
<line x1="312.8" y1="419.5" x2="314.4" y2="419.5" stroke="#2a2a2a" stroke-width="0.9"/>
<line x1="312.8" y1="400.2" x2="314.4" y2="400.2" stroke="#2a2a2a" stroke-width="0.9"/>
<line x1="317.2" y1="391.8" x2="331.5" y2="391.8" stroke="#0a0a0a" stroke-width="1.9"/>
<text x="333.8" y="394.7" font-family='"Liberation Sans", sans-serif' font-size="8.0" font-weight="bold" fill="#1a1a1a" text-anchor="start"  id="t79" stroke="#1a1a1a" stroke-width="0.28">330 nm</text>
<line x1="317.2" y1="401.9" x2="331.5" y2="401.9" stroke="#e01414" stroke-width="1.9"/>
<text x="333.8" y="404.8" font-family='"Liberation Sans", sans-serif' font-size="8.0" font-weight="bold" fill="#1a1a1a" text-anchor="start"  id="t80" stroke="#1a1a1a" stroke-width="0.28">340 nm</text>
<line x1="317.2" y1="412" x2="331.5" y2="412" stroke="#1414dc" stroke-width="1.9"/>
<text x="333.8" y="414.9" font-family='"Liberation Sans", sans-serif' font-size="8.0" font-weight="bold" fill="#1a1a1a" text-anchor="start"  id="t81" stroke="#1a1a1a" stroke-width="0.28">350 nm</text>
<line x1="317.2" y1="422.1" x2="331.5" y2="422.1" stroke="#14aeb0" stroke-width="1.9"/>
<text x="333.8" y="425" font-family='"Liberation Sans", sans-serif' font-size="8.0" font-weight="bold" fill="#1a1a1a" text-anchor="start"  id="t82" stroke="#1a1a1a" stroke-width="0.28">360 nm</text>
<line x1="317.2" y1="432.2" x2="331.5" y2="432.2" stroke="#ff44ff" stroke-width="1.9"/>
<text x="333.8" y="435.1" font-family='"Liberation Sans", sans-serif' font-size="8.0" font-weight="bold" fill="#1a1a1a" text-anchor="start"  id="t83" stroke="#1a1a1a" stroke-width="0.28">370 nm</text>
<line x1="317.2" y1="442.3" x2="331.5" y2="442.3" stroke="#e0701c" stroke-width="1.9"/>
<text x="333.8" y="445.2" font-family='"Liberation Sans", sans-serif' font-size="8.0" font-weight="bold" fill="#1a1a1a" text-anchor="start"  id="t84" stroke="#1a1a1a" stroke-width="0.28">380 nm</text>
<line x1="317.2" y1="452.4" x2="331.5" y2="452.4" stroke="#1414d2" stroke-width="1.9"/>
<text x="333.8" y="455.3" font-family='"Liberation Sans", sans-serif' font-size="8.0" font-weight="bold" fill="#1a1a1a" text-anchor="start"  id="t85" stroke="#1a1a1a" stroke-width="0.28">390 nm</text>
<line x1="439" y1="392.4" x2="453.5" y2="392.4" stroke="#d21414" stroke-width="1.9"/>
<text x="455.6" y="395.3" font-family='"Liberation Sans", sans-serif' font-size="8.0" font-weight="bold" fill="#1a1a1a" text-anchor="start"  id="t86" stroke="#1a1a1a" stroke-width="0.28">400 nm</text>
<line x1="439" y1="402.3" x2="453.5" y2="402.3" stroke="#14b024" stroke-width="1.9"/>
<text x="455.6" y="405.2" font-family='"Liberation Sans", sans-serif' font-size="8.0" font-weight="bold" fill="#1a1a1a" text-anchor="start"  id="t87" stroke="#1a1a1a" stroke-width="0.28">410 nm</text>
<line x1="439" y1="412.3" x2="453.5" y2="412.3" stroke="#606060" stroke-width="1.9"/>
<text x="455.6" y="415.2" font-family='"Liberation Sans", sans-serif' font-size="8.0" font-weight="bold" fill="#1a1a1a" text-anchor="start"  id="t88" stroke="#1a1a1a" stroke-width="0.28">420 nm</text>
<line x1="439" y1="422.2" x2="453.5" y2="422.2" stroke="#ffff38" stroke-width="1.9"/>
<text x="455.6" y="425.1" font-family='"Liberation Sans", sans-serif' font-size="8.0" font-weight="bold" fill="#1a1a1a" text-anchor="start"  id="t89" stroke="#1a1a1a" stroke-width="0.28">430 nm</text>
<line x1="439" y1="432.2" x2="453.5" y2="432.2" stroke="#ff6464" stroke-width="1.9"/>
<text x="455.6" y="435.1" font-family='"Liberation Sans", sans-serif' font-size="8.0" font-weight="bold" fill="#1a1a1a" text-anchor="start"  id="t90" stroke="#1a1a1a" stroke-width="0.28">440 nm</text>
<line x1="439" y1="442.1" x2="453.5" y2="442.1" stroke="#ffff38" stroke-width="1.9"/>
<text x="455.6" y="445" font-family='"Liberation Sans", sans-serif' font-size="8.0" font-weight="bold" fill="#1a1a1a" text-anchor="start"  id="t91" stroke="#1a1a1a" stroke-width="0.28">450 nm</text>
<line x1="439" y1="452.1" x2="453.5" y2="452.1" stroke="#d414d2" stroke-width="1.9"/>
<text x="455.6" y="455" font-family='"Liberation Sans", sans-serif' font-size="8.0" font-weight="bold" fill="#1a1a1a" text-anchor="start"  id="t92" stroke="#1a1a1a" stroke-width="0.28">460 nm</text>
<line x1="439" y1="462" x2="453.5" y2="462" stroke="#14e4f4" stroke-width="1.9"/>
<text x="455.6" y="464.9" font-family='"Liberation Sans", sans-serif' font-size="8.0" font-weight="bold" fill="#1a1a1a" text-anchor="start"  id="t93" stroke="#1a1a1a" stroke-width="0.28">470 nm</text>
<text x="400.4" y="542.2" font-family='"Liberation Sans", sans-serif' font-size="10.5" font-weight="bold" fill="#1a1a1a" text-anchor="middle"  id="t94" stroke="#1a1a1a" stroke-width="0.28">Wavelength (nm)</text>
<text x="292.5" y="452.5" font-family='"Liberation Sans", sans-serif' font-size="10.4" font-weight="bold" fill="#1a1a1a" text-anchor="middle" transform="rotate(-90 292.5 452.5)"  id="t95" stroke="#1a1a1a" stroke-width="0.28">Fluorescence intensity (a.u.)</text>
<text x="275" y="410.6" font-family='"Liberation Serif", serif' font-size="28" font-weight="bold" fill="#000" text-anchor="middle"  id="t96">f</text>
</svg>
</body>
</html>
